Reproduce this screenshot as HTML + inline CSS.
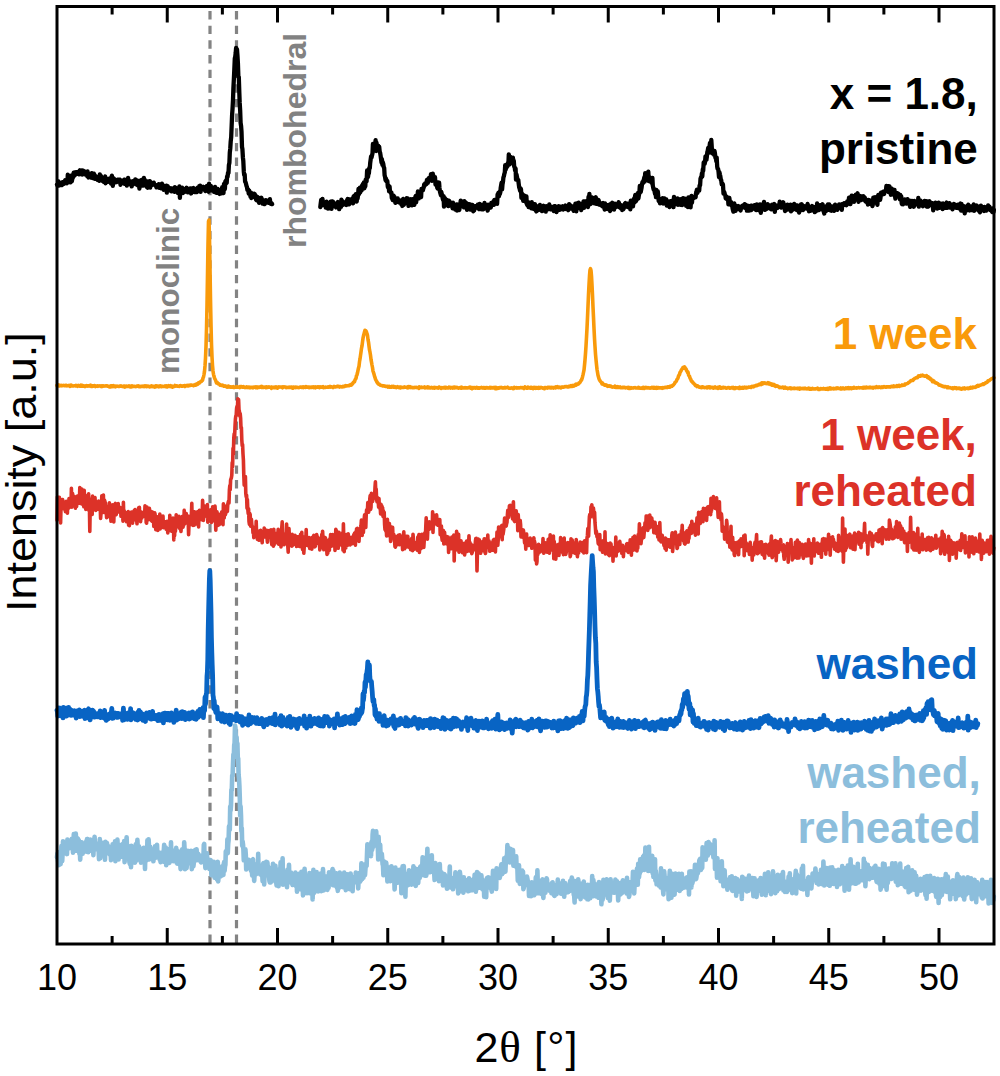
<!DOCTYPE html>
<html><head><meta charset="utf-8"><style>
html,body{margin:0;padding:0;background:#fff;}
body{width:1000px;height:1076px;overflow:hidden;}
svg{display:block;}
text{font-family:"Liberation Sans",sans-serif;}
</style></head><body>
<svg width="1000" height="1076" viewBox="0 0 1000 1076">
<rect width="1000" height="1076" fill="#fff"/>
<path d="M210,11V943M236.5,11V943" stroke="#838383" stroke-width="3.2" stroke-dasharray="8.4 6.26" fill="none"/>
<path d="M57.0,184.6L57.5,185.6L57.9,184.6L58.4,181.3L58.8,185.7L59.3,184.8L59.7,182.9L60.2,185.1L60.6,184.7L61.1,184.5L61.5,184.0L62.0,185.0L62.4,182.2L62.9,183.0L63.3,182.1L63.8,184.0L64.2,182.5L64.7,181.6L65.1,180.3L65.6,181.1L66.0,181.3L66.5,180.4L66.9,183.3L67.4,182.4L67.8,174.6L68.3,176.0L68.7,179.1L69.2,178.3L69.6,179.2L70.1,178.9L70.5,182.4L71.0,175.6L71.4,176.7L71.9,181.3L72.3,178.2L72.8,177.9L73.2,175.2L73.7,172.6L74.1,175.9L74.6,175.5L75.0,172.5L75.5,173.3L75.9,174.2L76.4,172.2L76.8,173.6L77.3,173.8L77.7,173.4L78.2,172.0L78.6,174.0L79.1,174.3L79.5,172.9L80.0,170.3L80.4,173.5L80.9,171.2L81.3,174.2L81.8,170.4L82.2,174.6L82.7,172.9L83.1,170.6L83.6,172.6L84.0,173.5L84.5,174.1L84.9,171.8L85.4,171.7L85.8,174.5L86.3,173.3L86.7,174.9L87.2,176.1L87.6,171.5L88.1,175.4L88.5,177.5L89.0,174.6L89.4,173.8L89.9,177.0L90.3,176.2L90.8,177.6L91.2,175.3L91.7,173.2L92.1,176.1L92.6,175.5L93.0,178.1L93.5,177.1L93.9,173.6L94.4,174.6L94.8,178.9L95.3,178.7L95.7,176.2L96.2,177.6L96.6,178.7L97.1,178.9L97.5,179.8L98.0,178.7L98.4,178.2L98.9,178.0L99.3,180.8L99.8,174.3L100.2,178.7L100.7,179.1L101.1,176.2L101.6,179.8L102.0,177.9L102.5,181.0L102.9,179.1L103.4,180.7L103.8,181.9L104.3,180.3L104.7,177.8L105.2,176.6L105.6,183.3L106.1,179.6L106.5,178.5L107.0,180.2L107.4,179.6L107.9,181.8L108.3,180.2L108.8,180.2L109.2,178.8L109.7,181.3L110.1,178.3L110.6,181.8L111.0,183.6L111.5,177.6L111.9,175.7L112.4,182.0L112.8,185.9L113.3,178.9L113.7,178.4L114.2,182.2L114.6,179.4L115.1,180.1L115.5,180.5L116.0,182.3L116.4,180.5L116.9,182.0L117.3,181.1L117.8,179.8L118.2,181.0L118.7,179.8L119.1,181.8L119.6,179.6L120.0,179.7L120.5,184.8L120.9,181.8L121.4,181.8L121.8,183.0L122.3,181.1L122.7,181.5L123.2,182.9L123.6,182.6L124.1,179.7L124.5,183.8L125.0,180.9L125.4,180.0L125.9,180.4L126.3,181.4L126.8,185.5L127.2,179.9L127.7,182.6L128.1,178.0L128.6,182.3L129.0,184.1L129.5,181.9L129.9,181.1L130.4,182.8L130.8,183.8L131.3,183.7L131.7,186.4L132.2,182.9L132.6,181.3L133.1,182.2L133.5,182.4L134.0,182.8L134.4,182.5L134.9,182.9L135.3,179.3L135.8,184.3L136.2,181.5L136.7,180.3L137.1,184.0L137.6,185.4L138.0,183.7L138.5,183.1L138.9,180.9L139.4,188.6L139.8,184.6L140.3,180.6L140.7,181.3L141.2,183.1L141.6,179.9L142.1,183.4L142.5,182.2L143.0,185.6L143.4,185.1L143.9,177.8L144.3,183.3L144.8,180.0L145.2,185.6L145.7,183.7L146.1,184.5L146.6,181.3L147.0,187.2L147.5,187.6L147.9,181.5L148.4,184.4L148.8,182.3L149.3,183.7L149.7,181.2L150.2,187.6L150.6,182.0L151.1,183.5L151.5,185.3L152.0,183.1L152.4,184.1L152.9,183.6L153.3,184.6L153.8,182.7L154.2,184.3L154.7,184.9L155.1,184.8L155.6,185.7L156.0,185.2L156.5,187.4L156.9,185.4L157.4,185.9L157.8,185.0L158.3,185.5L158.7,184.1L159.2,187.8L159.6,184.7L160.1,185.6L160.5,188.0L161.0,188.2L161.4,186.7L161.9,183.6L162.3,188.7L162.8,188.5L163.2,185.3L163.7,189.8L164.1,187.0L164.6,186.3L165.0,188.9L165.5,188.4L165.9,189.3L166.4,185.7L166.8,192.7L167.3,187.9L167.7,186.1L168.2,190.6L168.6,188.7L169.1,190.2L169.5,188.9L170.0,189.6L170.4,190.3L170.9,188.3L171.3,191.3L171.8,189.1L172.2,188.4L172.7,190.3L173.1,191.2L173.6,189.9L174.0,188.7L174.5,191.8L174.9,187.1L175.4,188.6L175.8,190.9L176.3,188.1L176.7,191.0L177.2,190.9L177.6,192.9L178.1,189.4L178.5,190.0L179.0,192.0L179.4,186.5L179.9,197.8L180.3,190.1L180.8,190.0L181.2,193.1L181.7,191.3L182.1,187.7L182.6,192.5L183.0,192.9L183.5,190.2L183.9,190.4L184.4,191.9L184.8,189.0L185.3,191.7L185.7,191.1L186.2,189.3L186.6,187.8L187.1,190.1L187.5,188.7L188.0,192.4L188.4,190.6L188.9,191.8L189.3,190.4L189.8,190.6L190.2,188.4L190.7,191.3L191.1,193.5L191.6,189.2L192.0,188.5L192.5,189.4L192.9,188.6L193.4,188.1L193.8,189.7L194.3,188.8L194.7,192.2L195.2,189.2L195.6,189.9L196.1,191.1L196.5,188.6L197.0,192.1L197.4,187.9L197.9,187.5L198.3,188.4L198.8,188.9L199.2,186.2L199.7,189.0L200.1,185.6L200.6,191.9L201.0,188.8L201.5,187.7L201.9,187.1L202.4,188.1L202.8,188.4L203.3,186.7L203.7,187.0L204.2,188.4L204.6,187.7L205.1,190.7L205.5,191.0L206.0,188.7L206.4,189.6L206.9,185.9L207.3,189.9L207.8,188.5L208.2,189.5L208.7,191.7L209.1,183.7L209.6,188.9L210.0,186.0L210.5,189.7L210.9,186.0L211.4,187.9L211.8,189.5L212.3,190.6L212.7,189.7L213.2,188.0L213.6,188.7L214.1,191.9L214.5,190.2L215.0,186.9L215.4,192.4L215.9,191.6L216.3,192.7L216.8,190.3L217.2,192.9L217.7,189.0L218.1,192.6L218.6,190.5L219.0,193.1L219.5,193.9L219.9,190.2L220.4,191.4L220.8,191.2L221.3,193.4L221.7,191.9L222.2,187.2L222.6,190.5L223.1,190.6L223.5,193.1L224.0,183.8L224.4,185.6L224.9,189.0L225.3,181.6L225.8,180.7L226.2,183.3L226.7,182.8L227.1,176.3L227.6,176.9L228.0,172.7L228.5,172.9L228.9,164.9L229.4,162.8L229.8,152.5L230.3,148.2L230.7,141.5L231.2,137.0L231.6,127.2L232.1,114.9L232.5,109.2L233.0,99.9L233.4,88.0L233.9,78.3L234.3,69.8L234.8,58.3L235.2,57.0L235.7,52.8L236.1,47.8L236.6,52.3L237.0,49.3L237.5,56.2L237.9,62.9L238.4,77.3L238.8,76.9L239.3,92.1L239.7,102.9L240.2,111.2L240.6,122.8L241.1,126.1L241.5,131.3L242.0,147.0L242.4,148.9L242.9,157.4L243.3,160.8L243.8,171.4L244.2,175.1L244.7,174.5L245.1,181.7L245.6,182.2L246.0,183.7L246.5,185.9L246.9,186.8L247.4,189.9L247.8,190.3L248.3,189.6L248.7,193.5L249.2,190.5L249.6,193.1L250.1,193.9L250.5,196.7L251.0,192.7L251.4,198.0L251.9,195.0L252.3,194.5L252.8,193.8L253.2,196.8L253.7,195.9L254.1,193.7L254.6,193.9L255.0,195.4L255.5,195.4L255.9,199.4L256.4,200.2L256.8,199.3L257.3,198.5L257.7,197.0L258.2,198.2L258.6,200.1L259.1,202.9L259.5,200.6L260.0,198.2L260.4,199.1L260.9,198.2L261.3,197.7L261.8,199.2L262.2,200.1L262.7,203.7L263.1,200.1L263.6,203.0L264.0,204.0L264.5,200.7L264.9,204.0L265.4,202.3L265.8,200.1L266.3,201.7L266.7,201.3L267.2,201.0L267.6,201.2L268.1,202.0L268.5,202.8L269.0,200.2L269.4,202.1L269.9,199.2L270.3,203.0L270.8,203.8L271.2,203.0L271.7,203.4L272.1,204.1M320.3,207.1L320.7,203.5L321.2,199.8L321.6,203.1L322.1,205.4L322.5,199.0L323.0,204.4L323.4,204.5L323.9,202.2L324.3,202.1L324.8,204.1L325.2,203.9L325.7,207.5L326.1,205.7L326.6,201.7L327.0,203.1L327.5,206.2L327.9,208.6L328.4,205.5L328.8,205.3L329.3,208.4L329.7,204.6L330.2,203.9L330.6,201.7L331.1,203.4L331.5,208.9L332.0,201.5L332.4,204.4L332.9,201.5L333.3,204.5L333.8,206.0L334.2,203.7L334.7,205.6L335.1,205.6L335.6,205.0L336.0,207.5L336.5,205.5L336.9,203.3L337.4,202.5L337.8,202.1L338.3,204.7L338.7,203.1L339.2,209.2L339.6,207.4L340.1,203.1L340.5,202.9L341.0,206.9L341.4,199.6L341.9,202.4L342.3,205.3L342.8,201.4L343.2,202.2L343.7,202.4L344.1,204.4L344.6,203.3L345.0,203.8L345.5,204.1L345.9,202.9L346.4,205.0L346.8,201.2L347.3,199.7L347.7,198.9L348.2,199.1L348.6,201.2L349.1,204.4L349.5,202.6L350.0,200.9L350.4,199.9L350.9,200.9L351.3,201.1L351.8,200.6L352.2,198.6L352.7,200.5L353.1,203.4L353.6,196.4L354.0,200.1L354.5,195.7L354.9,200.2L355.4,197.7L355.8,194.2L356.3,198.3L356.7,201.5L357.2,196.8L357.6,198.4L358.1,194.7L358.5,188.8L359.0,194.2L359.4,191.1L359.9,187.6L360.3,192.3L360.8,190.3L361.2,187.5L361.7,190.4L362.1,185.3L362.6,188.7L363.0,184.0L363.5,187.2L363.9,182.3L364.4,188.3L364.8,184.3L365.3,186.4L365.7,179.5L366.2,179.2L366.6,181.3L367.1,170.5L367.5,173.3L368.0,177.1L368.4,173.8L368.9,173.3L369.3,168.0L369.8,168.2L370.2,162.9L370.7,159.2L371.1,156.3L371.6,157.3L372.0,155.4L372.5,153.3L372.9,144.0L373.4,146.4L373.8,148.7L374.3,149.6L374.7,146.2L375.2,144.5L375.6,140.2L376.1,151.0L376.5,142.7L377.0,150.0L377.4,150.0L377.9,147.3L378.3,145.9L378.8,148.7L379.2,146.6L379.7,151.7L380.1,152.6L380.6,155.7L381.0,158.6L381.5,162.6L381.9,159.1L382.4,164.9L382.8,162.2L383.3,164.1L383.7,166.9L384.2,168.1L384.6,175.2L385.1,177.1L385.5,180.0L386.0,178.6L386.4,181.2L386.9,180.7L387.3,180.9L387.8,186.7L388.2,187.7L388.7,185.6L389.1,191.3L389.6,186.7L390.0,191.8L390.5,191.7L390.9,193.0L391.4,192.6L391.8,198.2L392.3,198.0L392.7,200.1L393.2,198.3L393.6,195.7L394.1,198.2L394.5,196.9L395.0,200.9L395.4,202.9L395.9,201.3L396.3,199.5L396.8,200.3L397.2,201.7L397.7,198.4L398.1,202.0L398.6,202.2L399.0,200.8L399.5,201.2L399.9,202.5L400.4,200.5L400.8,200.6L401.3,204.1L401.7,202.9L402.2,206.0L402.6,200.5L403.1,198.9L403.5,204.6L404.0,204.7L404.4,201.2L404.9,199.7L405.3,202.7L405.8,199.1L406.2,202.1L406.7,198.2L407.1,202.3L407.6,198.3L408.0,202.2L408.5,205.9L408.9,202.1L409.4,204.2L409.8,201.2L410.3,200.6L410.7,199.2L411.2,204.4L411.6,202.0L412.1,205.4L412.5,199.2L413.0,201.1L413.4,201.5L413.9,204.1L414.3,204.8L414.8,199.1L415.2,197.6L415.7,195.9L416.1,202.4L416.6,198.7L417.0,197.0L417.5,197.9L417.9,191.5L418.4,192.8L418.8,198.4L419.3,196.5L419.7,195.3L420.2,191.8L420.6,194.9L421.1,197.1L421.5,188.8L422.0,191.1L422.4,189.1L422.9,190.3L423.3,188.5L423.8,187.2L424.2,184.4L424.7,185.7L425.1,183.3L425.6,183.6L426.0,183.0L426.5,184.0L426.9,180.0L427.4,180.0L427.8,182.9L428.3,178.9L428.7,178.3L429.2,180.7L429.6,178.7L430.1,177.9L430.5,178.0L431.0,174.1L431.4,178.5L431.9,180.8L432.3,179.0L432.8,173.7L433.2,178.9L433.7,176.2L434.1,178.5L434.6,180.0L435.0,177.2L435.5,184.5L435.9,181.7L436.4,184.7L436.8,185.2L437.3,187.9L437.7,188.5L438.2,182.5L438.6,187.4L439.1,182.7L439.5,188.0L440.0,192.0L440.4,193.4L440.9,195.2L441.3,191.9L441.8,194.5L442.2,194.8L442.7,198.5L443.1,200.0L443.6,196.1L444.0,206.6L444.5,198.4L444.9,198.2L445.4,201.0L445.8,202.0L446.3,202.0L446.7,199.8L447.2,205.0L447.6,202.3L448.1,206.0L448.5,206.0L449.0,200.6L449.4,201.6L449.9,201.9L450.3,204.8L450.8,204.6L451.2,205.3L451.7,203.2L452.1,206.0L452.6,208.3L453.0,202.7L453.5,205.2L453.9,206.2L454.4,205.5L454.8,205.5L455.3,209.6L455.7,208.6L456.2,207.8L456.6,204.4L457.1,210.6L457.5,206.7L458.0,204.6L458.4,205.0L458.9,204.6L459.3,210.0L459.8,205.8L460.2,205.4L460.7,200.6L461.1,206.6L461.6,202.6L462.0,202.4L462.5,206.1L462.9,202.9L463.4,206.6L463.8,207.3L464.3,201.2L464.7,204.9L465.2,202.0L465.6,205.4L466.1,207.7L466.5,203.1L467.0,209.9L467.4,205.7L467.9,204.1L468.3,206.4L468.8,208.5L469.2,204.1L469.7,207.1L470.1,204.3L470.6,209.7L471.0,207.6L471.5,206.5L471.9,209.5L472.4,204.8L472.8,206.7L473.3,211.3L473.7,207.3L474.2,210.3L474.6,208.0L475.1,206.1L475.5,207.1L476.0,207.8L476.4,206.8L476.9,205.9L477.3,206.0L477.8,204.6L478.2,207.9L478.7,208.4L479.1,209.1L479.6,203.9L480.0,209.2L480.5,207.5L480.9,204.6L481.4,207.7L481.8,209.2L482.3,208.5L482.7,208.9L483.2,209.4L483.6,209.2L484.1,207.3L484.5,203.0L485.0,205.7L485.4,207.9L485.9,206.2L486.3,208.5L486.8,208.6L487.2,207.0L487.7,210.7L488.1,204.7L488.6,208.5L489.0,205.5L489.5,204.7L489.9,207.4L490.4,204.6L490.8,207.6L491.3,203.0L491.7,205.3L492.2,203.1L492.6,204.1L493.1,203.4L493.5,201.3L494.0,204.8L494.4,200.0L494.9,200.0L495.3,203.6L495.8,203.1L496.2,201.6L496.7,200.1L497.1,203.8L497.6,194.4L498.0,194.5L498.5,192.7L498.9,196.3L499.4,193.4L499.8,194.2L500.3,192.5L500.7,187.9L501.2,184.8L501.6,182.7L502.1,189.4L502.5,184.4L503.0,181.7L503.4,177.5L503.9,176.1L504.3,174.0L504.8,172.3L505.2,165.2L505.7,169.6L506.1,167.2L506.6,167.4L507.0,165.8L507.5,166.2L507.9,162.8L508.4,163.9L508.8,154.3L509.3,157.5L509.7,164.4L510.2,156.6L510.6,159.0L511.1,161.8L511.5,158.0L512.0,162.8L512.4,158.0L512.9,157.7L513.3,160.4L513.8,160.8L514.2,166.5L514.7,167.2L515.1,170.5L515.6,168.6L516.0,179.6L516.5,174.5L516.9,176.4L517.4,179.4L517.8,179.4L518.3,180.1L518.7,183.7L519.2,187.5L519.6,188.5L520.1,190.8L520.5,188.4L521.0,189.3L521.4,197.8L521.9,193.3L522.3,196.3L522.8,198.1L523.2,200.8L523.7,195.1L524.1,198.1L524.6,199.1L525.0,200.2L525.5,196.1L525.9,202.0L526.4,196.4L526.8,204.0L527.3,205.0L527.7,205.6L528.2,202.1L528.6,207.1L529.1,203.5L529.5,203.0L530.0,203.8L530.4,204.3L530.9,206.6L531.3,208.2L531.8,202.2L532.2,205.6L532.7,208.7L533.1,207.4L533.6,208.1L534.0,204.1L534.5,209.2L534.9,204.1L535.4,207.8L535.8,210.3L536.3,211.4L536.7,208.6L537.2,209.4L537.6,206.4L538.1,206.7L538.5,210.1L539.0,207.8L539.4,207.5L539.9,204.9L540.3,208.1L540.8,209.2L541.2,206.3L541.7,206.9L542.1,211.2L542.6,208.3L543.0,207.4L543.5,205.7L543.9,206.7L544.4,207.5L544.8,210.8L545.3,206.8L545.7,211.7L546.2,206.1L546.6,207.3L547.1,209.7L547.5,207.5L548.0,206.3L548.4,207.7L548.9,208.9L549.3,204.5L549.8,207.5L550.2,207.8L550.7,207.1L551.1,209.5L551.6,206.8L552.0,207.2L552.5,208.0L552.9,209.4L553.4,207.5L553.8,211.0L554.3,206.1L554.7,210.5L555.2,206.1L555.6,207.5L556.1,208.6L556.5,212.0L557.0,209.7L557.4,207.0L557.9,210.4L558.3,207.4L558.8,206.2L559.2,208.7L559.7,208.0L560.1,209.7L560.6,206.6L561.0,208.5L561.5,209.0L561.9,208.3L562.4,207.6L562.8,206.2L563.3,209.5L563.7,207.9L564.2,208.6L564.6,206.9L565.1,207.6L565.5,205.5L566.0,207.7L566.4,209.1L566.9,207.7L567.3,209.2L567.8,208.1L568.2,210.2L568.7,207.1L569.1,204.1L569.6,208.3L570.0,207.0L570.5,205.4L570.9,208.7L571.4,207.8L571.8,208.2L572.3,206.6L572.7,207.6L573.2,207.7L573.6,210.8L574.1,205.8L574.5,207.1L575.0,207.8L575.4,203.6L575.9,203.8L576.3,211.4L576.8,203.3L577.2,208.1L577.7,205.1L578.1,205.2L578.6,202.6L579.0,204.8L579.5,208.1L579.9,203.6L580.4,207.5L580.8,206.8L581.3,210.2L581.7,204.9L582.2,208.3L582.6,207.3L583.1,204.6L583.5,201.5L584.0,207.9L584.4,201.5L584.9,203.1L585.3,205.6L585.8,205.8L586.2,201.2L586.7,202.5L587.1,201.6L587.6,204.4L588.0,207.0L588.5,196.9L588.9,202.7L589.4,193.8L589.8,199.9L590.3,197.1L590.7,204.0L591.2,199.6L591.6,197.4L592.1,197.9L592.5,197.8L593.0,199.6L593.4,199.0L593.9,201.0L594.3,203.3L594.8,201.7L595.2,197.7L595.7,197.2L596.1,199.5L596.6,203.9L597.0,201.2L597.5,200.8L597.9,202.9L598.4,199.9L598.8,200.9L599.3,204.7L599.7,203.2L600.2,203.2L600.6,205.1L601.1,203.4L601.5,203.4L602.0,204.1L602.4,206.4L602.9,205.5L603.3,203.0L603.8,204.9L604.2,207.0L604.7,209.6L605.1,203.5L605.6,206.6L606.0,205.4L606.5,207.6L606.9,206.9L607.4,209.0L607.8,207.1L608.3,205.0L608.7,205.0L609.2,206.9L609.6,206.9L610.1,211.0L610.5,209.5L611.0,203.7L611.4,206.8L611.9,203.4L612.3,202.8L612.8,207.6L613.2,207.3L613.7,204.0L614.1,209.5L614.6,204.1L615.0,203.7L615.5,207.4L615.9,206.6L616.4,205.8L616.8,206.0L617.3,206.5L617.7,205.8L618.2,205.7L618.6,202.2L619.1,203.3L619.5,207.3L620.0,204.6L620.4,207.1L620.9,208.4L621.3,205.1L621.8,206.4L622.2,210.0L622.7,207.1L623.1,209.4L623.6,208.7L624.0,207.1L624.5,205.3L624.9,203.7L625.4,203.1L625.8,206.3L626.3,206.2L626.7,204.8L627.2,206.8L627.6,203.7L628.1,207.1L628.5,204.8L629.0,204.5L629.4,204.5L629.9,204.1L630.3,209.3L630.8,200.6L631.2,204.1L631.7,206.1L632.1,204.7L632.6,202.3L633.0,206.3L633.5,199.9L633.9,198.9L634.4,202.5L634.8,197.6L635.3,194.9L635.7,201.5L636.2,200.6L636.6,199.7L637.1,196.1L637.5,196.7L638.0,193.0L638.4,198.5L638.9,195.1L639.3,193.9L639.8,185.9L640.2,191.6L640.7,192.1L641.1,190.1L641.6,187.6L642.0,184.2L642.5,182.0L642.9,183.2L643.4,181.4L643.8,179.8L644.3,177.3L644.7,181.5L645.2,173.2L645.6,175.5L646.1,173.5L646.5,177.4L647.0,178.2L647.4,177.8L647.9,176.8L648.3,171.6L648.8,181.2L649.2,177.9L649.7,177.2L650.1,178.5L650.6,178.7L651.0,181.8L651.5,182.7L651.9,182.3L652.4,177.8L652.8,185.7L653.3,188.2L653.7,189.6L654.2,189.1L654.6,191.7L655.1,194.2L655.5,191.6L656.0,197.2L656.4,190.0L656.9,192.6L657.3,194.2L657.8,191.4L658.2,195.4L658.7,201.0L659.1,201.5L659.6,199.5L660.0,203.4L660.5,200.5L660.9,199.3L661.4,201.1L661.8,200.6L662.3,202.6L662.7,198.1L663.2,203.5L663.6,200.5L664.1,203.4L664.5,198.5L665.0,200.9L665.4,202.1L665.9,203.9L666.3,199.5L666.8,205.6L667.2,203.1L667.7,201.1L668.1,204.7L668.6,202.4L669.0,204.7L669.5,207.1L669.9,203.9L670.4,201.2L670.8,201.4L671.3,203.5L671.7,202.9L672.2,200.6L672.6,201.0L673.1,203.7L673.5,207.2L674.0,196.9L674.4,203.8L674.9,201.9L675.3,203.9L675.8,204.1L676.2,202.4L676.7,200.2L677.1,199.4L677.6,198.4L678.0,204.8L678.5,201.8L678.9,201.1L679.4,201.6L679.8,199.3L680.3,202.8L680.7,204.9L681.2,204.5L681.6,198.9L682.1,205.0L682.5,200.5L683.0,198.1L683.4,199.5L683.9,200.1L684.3,202.0L684.8,199.9L685.2,198.8L685.7,201.4L686.1,205.9L686.6,200.4L687.0,202.7L687.5,201.8L687.9,207.2L688.4,197.4L688.8,203.6L689.3,198.4L689.7,199.7L690.2,200.5L690.6,207.4L691.1,198.6L691.5,195.8L692.0,202.5L692.4,197.4L692.9,198.3L693.3,198.3L693.8,198.1L694.2,196.9L694.7,197.2L695.1,196.8L695.6,197.2L696.0,193.3L696.5,191.6L696.9,189.8L697.4,192.9L697.8,190.1L698.3,190.4L698.7,189.1L699.2,190.7L699.6,185.4L700.1,185.3L700.5,178.6L701.0,177.2L701.4,177.5L701.9,173.3L702.3,176.4L702.8,169.2L703.2,170.9L703.7,162.4L704.1,163.9L704.6,163.9L705.0,162.2L705.5,156.3L705.9,159.3L706.4,159.8L706.8,157.2L707.3,152.1L707.7,150.8L708.2,147.9L708.6,151.4L709.1,152.5L709.5,146.6L710.0,142.9L710.4,147.5L710.9,148.7L711.3,139.8L711.8,147.6L712.2,153.4L712.7,150.6L713.1,150.9L713.6,151.7L714.0,154.7L714.5,151.0L714.9,152.9L715.4,157.9L715.8,156.9L716.3,161.3L716.7,157.7L717.2,166.6L717.6,168.9L718.1,168.9L718.5,171.3L719.0,177.1L719.4,172.1L719.9,174.5L720.3,176.0L720.8,179.6L721.2,179.9L721.7,184.3L722.1,184.2L722.6,183.7L723.0,185.0L723.5,193.6L723.9,191.6L724.4,192.5L724.8,194.4L725.3,195.2L725.7,198.3L726.2,198.8L726.6,196.9L727.1,197.2L727.5,197.4L728.0,197.8L728.4,204.4L728.9,199.8L729.3,197.9L729.8,201.0L730.2,201.6L730.7,204.5L731.1,202.2L731.6,205.6L732.0,205.6L732.5,207.8L732.9,209.9L733.4,211.6L733.8,208.6L734.3,203.5L734.7,205.3L735.2,206.8L735.6,210.8L736.1,208.0L736.5,209.2L737.0,206.4L737.4,208.1L737.9,208.4L738.3,206.0L738.8,208.6L739.2,209.2L739.7,206.7L740.1,209.2L740.6,210.5L741.0,207.3L741.5,207.2L741.9,206.5L742.4,205.9L742.8,207.5L743.3,206.4L743.7,206.6L744.2,205.7L744.6,204.1L745.1,205.4L745.5,208.0L746.0,204.9L746.4,206.0L746.9,210.7L747.3,209.6L747.8,205.9L748.2,208.6L748.7,206.0L749.1,210.7L749.6,206.1L750.0,207.5L750.5,210.2L750.9,205.6L751.4,210.0L751.8,205.7L752.3,207.8L752.7,206.7L753.2,207.1L753.6,207.6L754.1,207.1L754.5,205.2L755.0,209.1L755.4,208.7L755.9,209.9L756.3,210.1L756.8,204.5L757.2,209.9L757.7,209.9L758.1,206.2L758.6,209.3L759.0,210.2L759.5,206.1L759.9,204.4L760.4,206.5L760.8,212.8L761.3,207.6L761.7,204.7L762.2,206.6L762.6,205.1L763.1,206.3L763.5,207.3L764.0,201.9L764.4,207.8L764.9,209.9L765.3,206.7L765.8,206.3L766.2,209.2L766.7,204.5L767.1,204.5L767.6,204.2L768.0,206.7L768.5,207.8L768.9,206.8L769.4,208.0L769.8,208.6L770.3,207.9L770.7,205.3L771.2,206.3L771.6,209.4L772.1,204.7L772.5,206.3L773.0,206.0L773.4,206.4L773.9,204.6L774.3,204.0L774.8,211.9L775.2,208.6L775.7,205.3L776.1,206.6L776.6,208.1L777.0,206.0L777.5,207.9L777.9,205.4L778.4,205.9L778.8,206.4L779.3,205.7L779.7,201.6L780.2,206.6L780.6,207.1L781.1,207.6L781.5,204.6L782.0,207.4L782.4,207.1L782.9,203.1L783.3,202.3L783.8,207.7L784.2,204.9L784.7,208.8L785.1,211.1L785.6,205.7L786.0,205.5L786.5,206.9L786.9,208.3L787.4,204.6L787.8,209.5L788.3,209.0L788.7,208.3L789.2,205.9L789.6,208.9L790.1,208.8L790.5,204.7L791.0,211.3L791.4,206.5L791.9,207.9L792.3,206.1L792.8,208.0L793.2,209.6L793.7,205.6L794.1,203.9L794.6,206.4L795.0,204.7L795.5,205.8L795.9,207.1L796.4,207.2L796.8,210.0L797.3,205.4L797.7,208.1L798.2,206.4L798.6,210.2L799.1,212.6L799.5,208.1L800.0,210.9L800.4,206.5L800.9,204.4L801.3,205.0L801.8,204.4L802.2,205.7L802.7,207.2L803.1,210.0L803.6,209.1L804.0,208.7L804.5,206.9L804.9,206.3L805.4,207.8L805.8,208.1L806.3,208.3L806.7,208.6L807.2,207.6L807.6,204.0L808.1,205.7L808.5,206.3L809.0,211.4L809.4,207.1L809.9,209.3L810.3,210.9L810.8,208.7L811.2,207.2L811.7,207.5L812.1,206.0L812.6,208.7L813.0,210.4L813.5,209.3L813.9,209.7L814.4,209.6L814.8,212.2L815.3,206.9L815.7,208.5L816.2,209.7L816.6,210.8L817.1,203.4L817.5,207.2L818.0,207.9L818.4,206.2L818.9,210.0L819.3,208.8L819.8,207.6L820.2,205.1L820.7,205.7L821.1,206.4L821.6,209.3L822.0,206.0L822.5,204.3L822.9,205.5L823.4,207.3L823.8,211.9L824.3,213.5L824.7,207.5L825.2,210.3L825.6,211.2L826.1,210.9L826.5,208.1L827.0,205.6L827.4,207.3L827.9,204.4L828.3,208.7L828.8,209.7L829.2,204.3L829.7,208.0L830.1,208.6L830.6,210.5L831.0,210.7L831.5,209.5L831.9,206.5L832.4,207.1L832.8,210.2L833.3,206.5L833.7,207.6L834.2,210.8L834.6,207.8L835.1,204.7L835.5,206.9L836.0,208.7L836.4,207.0L836.9,209.6L837.3,209.8L837.8,205.8L838.2,206.0L838.7,206.7L839.1,204.4L839.6,207.5L840.0,206.3L840.5,208.2L840.9,205.2L841.4,204.5L841.8,209.9L842.3,204.1L842.7,204.6L843.2,204.1L843.6,204.8L844.1,203.2L844.5,204.8L845.0,203.2L845.4,203.5L845.9,204.9L846.3,205.3L846.8,204.5L847.2,201.5L847.7,203.6L848.1,202.1L848.6,201.7L849.0,197.7L849.5,202.6L849.9,200.4L850.4,204.1L850.8,201.3L851.3,196.8L851.7,195.7L852.2,201.1L852.6,196.0L853.1,199.2L853.5,196.5L854.0,201.8L854.4,196.7L854.9,199.8L855.3,199.2L855.8,194.6L856.2,194.8L856.7,199.1L857.1,195.4L857.6,193.3L858.0,198.4L858.5,201.8L858.9,195.7L859.4,199.3L859.8,195.8L860.3,199.7L860.7,196.2L861.2,200.2L861.6,198.7L862.1,197.3L862.5,198.7L863.0,197.2L863.4,196.3L863.9,196.8L864.3,199.4L864.8,197.5L865.2,201.1L865.7,201.6L866.1,201.8L866.6,199.9L867.0,201.3L867.5,201.3L867.9,204.5L868.4,200.0L868.8,201.0L869.3,201.4L869.7,201.7L870.2,200.4L870.6,200.7L871.1,204.2L871.5,200.6L872.0,203.9L872.4,206.2L872.9,204.5L873.3,197.6L873.8,203.0L874.2,202.2L874.7,202.1L875.1,197.1L875.6,202.1L876.0,197.7L876.5,202.7L876.9,201.9L877.4,204.9L877.8,197.9L878.3,194.9L878.7,200.3L879.2,199.5L879.6,196.2L880.1,199.8L880.5,197.8L881.0,192.7L881.4,194.4L881.9,193.7L882.3,194.1L882.8,194.3L883.2,191.7L883.7,192.5L884.1,194.0L884.6,191.9L885.0,191.1L885.5,190.6L885.9,190.8L886.4,185.9L886.8,190.9L887.3,187.7L887.7,190.4L888.2,186.2L888.6,192.2L889.1,190.5L889.5,186.4L890.0,190.5L890.4,188.1L890.9,194.8L891.3,191.7L891.8,188.7L892.2,191.5L892.7,191.2L893.1,194.6L893.6,192.9L894.0,193.6L894.5,190.0L894.9,195.1L895.4,198.7L895.8,195.6L896.3,194.4L896.7,195.4L897.2,193.2L897.6,196.3L898.1,193.7L898.5,196.8L899.0,196.2L899.4,195.7L899.9,199.3L900.3,195.0L900.8,198.6L901.2,196.1L901.7,203.4L902.1,204.1L902.6,201.9L903.0,204.4L903.5,201.9L903.9,202.0L904.4,200.2L904.8,199.4L905.3,201.8L905.7,200.6L906.2,201.0L906.6,203.6L907.1,202.0L907.5,199.1L908.0,202.0L908.4,201.0L908.9,202.1L909.3,200.5L909.8,205.4L910.2,206.9L910.7,200.8L911.1,204.5L911.6,204.4L912.0,201.0L912.5,203.5L912.9,206.2L913.4,205.1L913.8,206.7L914.3,201.0L914.7,201.9L915.2,204.0L915.6,204.2L916.1,203.5L916.5,202.7L917.0,202.6L917.4,202.2L917.9,204.4L918.3,197.9L918.8,206.7L919.2,202.4L919.7,200.6L920.1,204.6L920.6,200.7L921.0,204.3L921.5,202.8L921.9,204.8L922.4,205.3L922.8,206.3L923.3,202.7L923.7,203.2L924.2,203.8L924.6,201.0L925.1,205.0L925.5,204.1L926.0,201.2L926.4,206.4L926.9,206.7L927.3,201.3L927.8,205.2L928.2,206.6L928.7,205.8L929.1,202.1L929.6,201.3L930.0,203.9L930.5,203.2L930.9,204.2L931.4,204.1L931.8,205.3L932.3,203.2L932.7,204.0L933.2,210.3L933.6,204.1L934.1,205.9L934.5,205.0L935.0,204.9L935.4,202.7L935.9,205.6L936.3,204.4L936.8,206.2L937.2,208.7L937.7,205.0L938.1,206.2L938.6,202.6L939.0,204.9L939.5,207.9L939.9,204.6L940.4,203.5L940.8,205.3L941.3,204.5L941.7,204.5L942.2,204.2L942.6,209.0L943.1,203.3L943.5,204.3L944.0,204.0L944.4,207.7L944.9,204.7L945.3,207.9L945.8,205.7L946.2,205.3L946.7,202.5L947.1,207.9L947.6,206.6L948.0,206.4L948.5,205.4L948.9,204.8L949.4,203.1L949.8,207.6L950.3,206.3L950.7,205.1L951.2,204.6L951.6,206.1L952.1,205.8L952.5,209.3L953.0,207.6L953.4,204.9L953.9,203.9L954.3,205.7L954.8,204.4L955.2,206.4L955.7,207.1L956.1,207.6L956.6,207.2L957.0,206.1L957.5,207.7L957.9,204.7L958.4,206.4L958.8,208.3L959.3,207.2L959.7,204.2L960.2,204.4L960.6,203.6L961.1,210.5L961.5,203.8L962.0,206.7L962.4,210.7L962.9,209.2L963.3,209.7L963.8,206.1L964.2,208.6L964.7,213.3L965.1,207.2L965.6,208.1L966.0,206.7L966.5,207.3L966.9,208.2L967.4,210.2L967.8,205.7L968.3,204.7L968.7,207.6L969.2,208.0L969.6,210.5L970.1,209.2L970.5,206.5L971.0,208.9L971.4,210.1L971.9,208.5L972.3,207.3L972.8,209.3L973.2,207.3L973.7,204.3L974.1,210.8L974.6,205.6L975.0,207.5L975.5,207.6L975.9,207.6L976.4,207.7L976.8,205.5L977.3,209.4L977.7,208.5L978.2,208.6L978.6,210.7L979.1,210.8L979.5,211.3L980.0,212.3L980.4,209.6L980.9,205.6L981.3,209.2L981.8,208.8L982.2,209.0L982.7,207.7L983.1,207.2L983.6,210.6L984.0,211.0L984.5,206.8L984.9,210.2L985.4,208.8L985.8,208.4L986.3,210.6L986.7,209.2L987.2,208.2L987.6,209.5L988.1,205.4L988.5,208.3L989.0,208.6L989.4,206.7L989.9,209.9L990.3,210.1L990.8,208.4L991.2,209.3L991.7,211.1L992.1,211.9L992.6,208.3L993.0,210.5L993.5,212.0L993.9,209.9" stroke="#000" stroke-width="4.3" fill="none" stroke-linejoin="round" stroke-linecap="round"/>
<path d="M57.0,385.5L57.5,385.3L58.0,385.4L58.5,384.8L59.0,386.0L59.5,385.9L60.0,385.4L60.5,385.8L61.0,385.6L61.5,385.4L62.0,385.8L62.5,385.5L63.0,385.5L63.5,385.3L64.0,385.7L64.5,385.5L65.0,385.7L65.5,385.4L66.0,385.6L66.5,385.3L67.0,385.9L67.5,385.7L68.0,385.7L68.5,385.8L69.0,385.3L69.5,385.9L70.0,386.3L70.5,385.2L71.0,385.1L71.5,385.2L72.0,385.9L72.5,385.7L73.0,386.0L73.5,385.9L74.0,385.8L74.5,385.8L75.0,385.7L75.5,386.0L76.0,385.4L76.5,385.6L77.0,385.8L77.5,386.3L78.0,385.5L78.5,385.4L79.0,385.6L79.5,386.1L80.0,385.7L80.5,386.2L81.0,385.2L81.5,386.1L82.0,386.1L82.5,385.4L83.0,385.9L83.5,386.2L84.0,385.9L84.5,386.1L85.0,386.6L85.5,385.9L86.0,385.8L86.5,385.6L87.0,386.1L87.5,385.8L88.0,385.8L88.5,385.9L89.0,386.1L89.5,385.6L90.0,385.5L90.5,385.2L91.0,386.3L91.5,386.0L92.0,386.4L92.5,385.9L93.0,385.7L93.5,386.1L94.0,385.9L94.5,385.6L95.0,385.7L95.5,386.5L96.0,386.1L96.5,386.1L97.0,385.9L97.5,385.8L98.0,386.3L98.5,386.0L99.0,385.8L99.5,386.0L100.0,385.8L100.5,386.1L101.0,386.4L101.5,385.8L102.0,386.5L102.5,385.9L103.0,386.1L103.5,385.8L104.0,386.0L104.5,386.1L105.0,386.0L105.5,385.9L106.0,385.9L106.5,385.9L107.0,385.7L107.5,386.1L108.0,386.3L108.5,386.4L109.0,386.4L109.5,386.9L110.0,386.3L110.5,386.0L111.0,386.8L111.5,385.9L112.0,386.5L112.5,385.9L113.0,386.3L113.5,385.6L114.0,386.5L114.5,386.2L115.0,386.0L115.5,386.8L116.0,386.5L116.5,386.3L117.0,386.0L117.5,386.3L118.0,386.2L118.5,386.5L119.0,386.5L119.5,386.1L120.0,386.1L120.5,386.2L121.0,385.9L121.5,386.1L122.0,386.3L122.5,386.5L123.0,386.7L123.5,386.1L124.0,386.5L124.5,386.2L125.0,387.0L125.5,386.4L126.0,386.5L126.5,386.1L127.0,386.2L127.5,386.5L128.0,386.3L128.5,386.5L129.0,386.0L129.5,386.6L130.0,386.2L130.5,386.9L131.0,386.3L131.5,386.8L132.0,386.0L132.5,386.6L133.0,386.2L133.5,386.3L134.0,386.4L134.5,386.3L135.0,386.5L135.5,386.6L136.0,386.6L136.5,386.4L137.0,386.0L137.5,386.2L138.0,386.4L138.5,385.8L139.0,386.6L139.5,386.3L140.0,386.3L140.5,386.7L141.0,386.6L141.5,386.5L142.0,386.1L142.5,386.5L143.0,386.5L143.5,386.1L144.0,386.7L144.5,386.6L145.0,385.8L145.5,386.4L146.0,386.0L146.5,386.7L147.0,386.6L147.5,386.1L148.0,386.1L148.5,386.4L149.0,386.3L149.5,386.9L150.0,386.6L150.5,386.3L151.0,386.6L151.5,385.8L152.0,386.5L152.5,386.6L153.0,386.3L153.5,386.2L154.0,386.5L154.5,387.0L155.0,386.4L155.5,386.0L156.0,386.8L156.5,385.8L157.0,386.5L157.5,386.2L158.0,386.6L158.5,386.1L159.0,386.8L159.5,386.4L160.0,385.8L160.5,385.8L161.0,386.2L161.5,386.7L162.0,386.4L162.5,386.4L163.0,386.3L163.5,386.5L164.0,386.4L164.5,386.4L165.0,386.0L165.5,386.7L166.0,386.7L166.5,385.9L167.0,387.0L167.5,386.5L168.0,386.1L168.5,385.7L169.0,386.5L169.5,386.4L170.0,386.1L170.5,385.7L171.0,386.6L171.5,386.1L172.0,386.1L172.5,387.1L173.0,386.9L173.5,386.5L174.0,386.1L174.5,386.4L175.0,385.5L175.5,386.2L176.0,386.0L176.5,385.8L177.0,385.7L177.5,386.3L178.0,386.2L178.5,386.2L179.0,386.4L179.5,385.9L180.0,385.7L180.5,385.6L181.0,386.0L181.5,386.3L182.0,386.0L182.5,386.2L183.0,385.7L183.5,385.8L184.0,385.7L184.5,385.6L185.0,386.5L185.5,386.2L186.0,385.6L186.5,385.6L187.0,385.8L187.5,385.4L188.0,385.9L188.5,385.3L189.0,385.6L189.5,385.3L190.0,385.5L190.5,385.1L191.0,385.0L191.5,385.1L192.0,385.2L192.5,385.2L193.0,385.3L193.5,385.6L194.0,385.3L194.5,384.9L195.0,385.1L195.5,384.5L196.0,385.1L196.5,384.7L197.0,383.9L197.5,384.4L198.0,384.2L198.5,382.9L199.0,383.2L199.5,383.0L200.0,382.1L200.5,382.0L201.0,381.5L201.5,381.3L202.0,380.5L202.5,380.3L203.0,378.0L203.5,377.0L204.0,374.5L204.5,371.4L205.0,365.9L205.5,358.0L206.0,346.4L206.5,329.4L207.0,305.5L207.5,275.3L208.0,244.3L208.5,221.4L209.0,220.0L209.5,239.1L210.0,268.6L210.5,299.4L211.0,324.5L211.5,344.4L212.0,357.0L212.5,365.3L213.0,370.9L213.5,374.3L214.0,376.4L214.5,377.8L215.0,379.1L215.5,380.0L216.0,381.5L216.5,382.8L217.0,382.1L217.5,383.2L218.0,383.7L218.5,383.6L219.0,384.3L219.5,384.2L220.0,385.1L220.5,384.8L221.0,385.2L221.5,385.5L222.0,385.3L222.5,385.1L223.0,385.6L223.5,386.1L224.0,385.9L224.5,386.1L225.0,385.8L225.5,386.3L226.0,386.5L226.5,386.4L227.0,387.0L227.5,386.4L228.0,386.2L228.5,386.1L229.0,387.0L229.5,386.7L230.0,387.1L230.5,386.9L231.0,387.3L231.5,387.2L232.0,386.8L232.5,387.0L233.0,387.3L233.5,386.6L234.0,387.4L234.5,387.4L235.0,387.3L235.5,387.0L236.0,387.1L236.5,386.7L237.0,387.1L237.5,386.9L238.0,387.1L238.5,387.0L239.0,387.2L239.5,387.5L240.0,386.7L240.5,387.4L241.0,386.6L241.5,386.5L242.0,387.1L242.5,387.2L243.0,387.3L243.5,386.7L244.0,387.2L244.5,387.2L245.0,387.6L245.5,387.2L246.0,387.4L246.5,386.9L247.0,387.2L247.5,387.1L248.0,387.5L248.5,387.0L249.0,387.0L249.5,387.4L250.0,387.8L250.5,387.4L251.0,387.4L251.5,387.2L252.0,387.6L252.5,387.4L253.0,387.8L253.5,387.4L254.0,387.0L254.5,387.1L255.0,387.0L255.5,386.9L256.0,387.7L256.5,387.5L257.0,386.9L257.5,387.8L258.0,387.4L258.5,387.0L259.0,387.4L259.5,387.3L260.0,387.1L260.5,386.7L261.0,387.3L261.5,387.4L262.0,386.5L262.5,387.5L263.0,387.5L263.5,387.2L264.0,387.4L264.5,387.2L265.0,387.1L265.5,387.2L266.0,387.7L266.5,386.9L267.0,387.4L267.5,387.4L268.0,387.1L268.5,387.2L269.0,386.9L269.5,387.1L270.0,387.3L270.5,387.4L271.0,387.1L271.5,388.3L272.0,387.2L272.5,387.4L273.0,387.3L273.5,387.2L274.0,387.7L274.5,387.2L275.0,387.7L275.5,387.7L276.0,387.0L276.5,387.7L277.0,387.1L277.5,388.2L278.0,387.2L278.5,387.1L279.0,386.8L279.5,387.0L280.0,387.2L280.5,387.0L281.0,387.0L281.5,387.1L282.0,387.3L282.5,387.8L283.0,386.8L283.5,387.2L284.0,387.1L284.5,386.9L285.0,387.0L285.5,387.1L286.0,387.6L286.5,387.3L287.0,387.2L287.5,387.5L288.0,387.4L288.5,387.3L289.0,387.5L289.5,387.1L290.0,387.5L290.5,387.5L291.0,387.2L291.5,387.0L292.0,387.8L292.5,387.4L293.0,388.2L293.5,387.1L294.0,387.6L294.5,387.2L295.0,387.4L295.5,387.6L296.0,387.1L296.5,387.3L297.0,387.4L297.5,387.4L298.0,387.5L298.5,387.6L299.0,387.6L299.5,387.4L300.0,387.2L300.5,387.0L301.0,387.1L301.5,387.1L302.0,387.5L302.5,387.2L303.0,386.9L303.5,387.5L304.0,387.1L304.5,387.1L305.0,387.2L305.5,387.4L306.0,386.6L306.5,386.9L307.0,387.3L307.5,387.2L308.0,387.0L308.5,387.1L309.0,387.7L309.5,387.1L310.0,387.5L310.5,387.5L311.0,387.1L311.5,387.4L312.0,387.1L312.5,387.1L313.0,386.9L313.5,387.5L314.0,387.1L314.5,387.1L315.0,386.9L315.5,387.8L316.0,387.5L316.5,387.2L317.0,387.0L317.5,386.8L318.0,387.3L318.5,387.3L319.0,386.8L319.5,387.6L320.0,387.4L320.5,386.9L321.0,387.0L321.5,387.1L322.0,387.2L322.5,387.1L323.0,386.7L323.5,387.6L324.0,387.3L324.5,387.5L325.0,387.5L325.5,387.1L326.0,387.2L326.5,387.3L327.0,387.3L327.5,387.1L328.0,386.9L328.5,387.1L329.0,386.8L329.5,386.9L330.0,386.4L330.5,387.1L331.0,386.7L331.5,386.8L332.0,387.0L332.5,387.1L333.0,387.5L333.5,387.0L334.0,386.5L334.5,387.0L335.0,386.7L335.5,387.0L336.0,386.7L336.5,386.6L337.0,386.7L337.5,386.6L338.0,386.2L338.5,386.5L339.0,386.7L339.5,387.1L340.0,386.6L340.5,386.5L341.0,386.8L341.5,386.7L342.0,387.0L342.5,386.7L343.0,386.4L343.5,386.8L344.0,386.8L344.5,386.1L345.0,386.3L345.5,385.6L346.0,386.0L346.5,385.7L347.0,385.9L347.5,385.7L348.0,385.7L348.5,385.6L349.0,385.7L349.5,385.4L350.0,385.0L350.5,384.6L351.0,385.2L351.5,384.9L352.0,384.0L352.5,384.0L353.0,382.8L353.5,382.2L354.0,382.0L354.5,381.8L355.0,380.0L355.5,378.9L356.0,378.4L356.5,375.7L357.0,374.8L357.5,372.8L358.0,370.3L358.5,368.0L359.0,366.2L359.5,361.7L360.0,358.9L360.5,355.6L361.0,352.0L361.5,348.3L362.0,345.9L362.5,342.1L363.0,338.2L363.5,335.8L364.0,333.9L364.5,332.1L365.0,330.3L365.5,330.4L366.0,330.9L366.5,332.1L367.0,333.9L367.5,335.4L368.0,339.6L368.5,342.1L369.0,346.0L369.5,349.9L370.0,352.2L370.5,355.2L371.0,359.4L371.5,362.1L372.0,365.0L372.5,367.5L373.0,371.1L373.5,372.5L374.0,374.1L374.5,376.2L375.0,377.5L375.5,379.3L376.0,380.2L376.5,381.0L377.0,382.3L377.5,382.6L378.0,383.6L378.5,384.2L379.0,384.1L379.5,384.4L380.0,384.9L380.5,385.3L381.0,385.3L381.5,385.5L382.0,385.6L382.5,385.8L383.0,386.0L383.5,385.7L384.0,385.9L384.5,386.1L385.0,386.0L385.5,386.3L386.0,386.5L386.5,386.4L387.0,386.3L387.5,386.3L388.0,387.1L388.5,386.9L389.0,386.3L389.5,386.4L390.0,387.3L390.5,387.2L391.0,386.8L391.5,387.2L392.0,386.4L392.5,386.9L393.0,387.1L393.5,386.4L394.0,386.7L394.5,387.2L395.0,387.4L395.5,386.9L396.0,387.1L396.5,387.6L397.0,387.0L397.5,386.7L398.0,387.1L398.5,387.0L399.0,387.6L399.5,387.2L400.0,387.0L400.5,387.9L401.0,387.1L401.5,387.4L402.0,387.5L402.5,387.5L403.0,387.3L403.5,387.5L404.0,387.3L404.5,386.9L405.0,387.3L405.5,387.3L406.0,387.3L406.5,387.4L407.0,387.2L407.5,387.8L408.0,387.9L408.5,386.7L409.0,387.4L409.5,387.2L410.0,386.6L410.5,387.5L411.0,387.2L411.5,387.3L412.0,387.3L412.5,387.8L413.0,387.8L413.5,387.6L414.0,387.7L414.5,387.4L415.0,387.5L415.5,387.3L416.0,387.5L416.5,387.3L417.0,387.6L417.5,387.8L418.0,387.6L418.5,387.9L419.0,388.3L419.5,386.9L420.0,387.5L420.5,387.4L421.0,387.4L421.5,387.1L422.0,387.6L422.5,387.5L423.0,387.4L423.5,387.5L424.0,387.4L424.5,386.9L425.0,387.9L425.5,387.5L426.0,387.3L426.5,387.7L427.0,387.4L427.5,386.9L428.0,387.9L428.5,387.1L429.0,387.5L429.5,387.7L430.0,388.0L430.5,388.0L431.0,387.7L431.5,387.4L432.0,387.5L432.5,388.0L433.0,388.2L433.5,387.8L434.0,387.4L434.5,388.0L435.0,387.5L435.5,387.5L436.0,387.6L436.5,387.8L437.0,387.7L437.5,388.0L438.0,388.1L438.5,387.8L439.0,387.0L439.5,387.2L440.0,387.7L440.5,387.7L441.0,388.3L441.5,387.7L442.0,387.6L442.5,388.0L443.0,388.0L443.5,387.6L444.0,387.8L444.5,387.4L445.0,387.4L445.5,388.1L446.0,387.3L446.5,388.0L447.0,387.9L447.5,387.9L448.0,388.0L448.5,387.9L449.0,387.1L449.5,387.4L450.0,387.5L450.5,388.0L451.0,387.4L451.5,387.5L452.0,387.6L452.5,388.1L453.0,387.3L453.5,387.3L454.0,387.9L454.5,387.1L455.0,387.8L455.5,387.6L456.0,387.3L456.5,387.6L457.0,387.4L457.5,387.8L458.0,387.9L458.5,388.2L459.0,387.7L459.5,387.8L460.0,387.6L460.5,387.7L461.0,388.1L461.5,387.2L462.0,388.0L462.5,387.6L463.0,387.8L463.5,387.9L464.0,388.0L464.5,387.8L465.0,387.6L465.5,387.9L466.0,387.8L466.5,387.7L467.0,387.8L467.5,388.0L468.0,387.8L468.5,387.8L469.0,387.4L469.5,387.7L470.0,387.2L470.5,388.0L471.0,387.5L471.5,388.2L472.0,388.7L472.5,387.7L473.0,388.2L473.5,387.9L474.0,387.6L474.5,387.5L475.0,388.0L475.5,388.2L476.0,387.9L476.5,387.3L477.0,387.5L477.5,387.7L478.0,388.2L478.5,387.9L479.0,387.9L479.5,388.2L480.0,387.7L480.5,387.8L481.0,387.8L481.5,387.3L482.0,387.9L482.5,387.9L483.0,388.1L483.5,387.5L484.0,387.6L484.5,388.1L485.0,387.9L485.5,388.2L486.0,387.6L486.5,387.9L487.0,387.6L487.5,387.9L488.0,387.7L488.5,388.0L489.0,388.1L489.5,388.0L490.0,387.3L490.5,388.1L491.0,388.0L491.5,387.5L492.0,387.6L492.5,387.8L493.0,388.0L493.5,387.7L494.0,387.3L494.5,387.9L495.0,387.9L495.5,388.6L496.0,387.4L496.5,388.6L497.0,388.4L497.5,387.9L498.0,388.3L498.5,387.9L499.0,388.1L499.5,387.6L500.0,387.9L500.5,387.5L501.0,387.4L501.5,387.8L502.0,387.6L502.5,388.0L503.0,388.2L503.5,387.8L504.0,387.9L504.5,387.9L505.0,387.3L505.5,387.9L506.0,387.8L506.5,387.8L507.0,387.5L507.5,387.2L508.0,387.8L508.5,387.9L509.0,388.2L509.5,388.2L510.0,388.3L510.5,388.0L511.0,388.2L511.5,387.8L512.0,388.0L512.5,388.1L513.0,388.7L513.5,387.9L514.0,387.5L514.5,388.3L515.0,387.6L515.5,387.8L516.0,387.8L516.5,387.6L517.0,388.2L517.5,388.0L518.0,387.7L518.5,387.9L519.0,387.7L519.5,388.0L520.0,387.7L520.5,387.6L521.0,387.6L521.5,387.7L522.0,387.9L522.5,387.6L523.0,387.8L523.5,388.0L524.0,388.5L524.5,388.1L525.0,386.9L525.5,387.7L526.0,387.7L526.5,387.9L527.0,388.3L527.5,388.1L528.0,387.1L528.5,387.9L529.0,387.9L529.5,388.0L530.0,388.2L530.5,387.5L531.0,388.2L531.5,387.3L532.0,387.8L532.5,387.9L533.0,388.5L533.5,387.6L534.0,387.3L534.5,388.0L535.0,387.6L535.5,388.3L536.0,387.6L536.5,387.5L537.0,388.2L537.5,387.8L538.0,388.1L538.5,387.4L539.0,388.3L539.5,387.6L540.0,388.0L540.5,387.5L541.0,387.3L541.5,387.7L542.0,387.8L542.5,388.2L543.0,387.9L543.5,388.0L544.0,387.9L544.5,388.7L545.0,387.5L545.5,388.1L546.0,387.7L546.5,387.8L547.0,387.5L547.5,388.0L548.0,387.3L548.5,387.3L549.0,387.6L549.5,387.3L550.0,387.9L550.5,387.9L551.0,387.4L551.5,387.9L552.0,387.4L552.5,387.6L553.0,387.6L553.5,388.1L554.0,387.6L554.5,387.3L555.0,387.3L555.5,387.9L556.0,387.0L556.5,387.4L557.0,387.4L557.5,386.7L558.0,387.3L558.5,387.7L559.0,387.5L559.5,387.1L560.0,387.6L560.5,387.5L561.0,387.9L561.5,387.1L562.0,387.1L562.5,387.2L563.0,387.1L563.5,387.2L564.0,387.1L564.5,386.9L565.0,386.6L565.5,386.8L566.0,386.5L566.5,386.6L567.0,386.7L567.5,387.0L568.0,387.0L568.5,386.4L569.0,386.7L569.5,386.8L570.0,386.5L570.5,385.9L571.0,385.6L571.5,386.4L572.0,386.4L572.5,386.1L573.0,385.5L573.5,386.2L574.0,386.0L574.5,385.4L575.0,385.2L575.5,384.5L576.0,385.1L576.5,384.1L577.0,384.6L577.5,384.4L578.0,383.9L578.5,384.0L579.0,383.0L579.5,382.8L580.0,382.4L580.5,381.5L581.0,380.5L581.5,380.1L582.0,378.7L582.5,376.9L583.0,374.9L583.5,372.5L584.0,370.1L584.5,365.2L585.0,360.0L585.5,353.5L586.0,346.1L586.5,337.3L587.0,328.4L587.5,317.7L588.0,306.1L588.5,294.7L589.0,284.8L589.5,276.0L590.0,270.0L590.5,268.6L591.0,270.5L591.5,276.2L592.0,285.2L592.5,295.1L593.0,307.0L593.5,317.3L594.0,328.5L594.5,338.3L595.0,346.5L595.5,354.1L596.0,359.7L596.5,364.6L597.0,369.2L597.5,372.2L598.0,375.3L598.5,377.0L599.0,378.8L599.5,379.9L600.0,380.8L600.5,381.5L601.0,382.0L601.5,382.5L602.0,383.8L602.5,383.0L603.0,383.8L603.5,384.5L604.0,384.6L604.5,385.2L605.0,385.1L605.5,384.8L606.0,385.3L606.5,385.1L607.0,386.0L607.5,386.3L608.0,385.8L608.5,386.3L609.0,386.1L609.5,385.9L610.0,386.3L610.5,386.0L611.0,386.4L611.5,386.7L612.0,387.0L612.5,387.2L613.0,386.8L613.5,387.0L614.0,387.1L614.5,387.2L615.0,386.2L615.5,386.9L616.0,387.4L616.5,386.9L617.0,387.3L617.5,387.5L618.0,386.7L618.5,387.3L619.0,387.5L619.5,387.4L620.0,387.0L620.5,387.6L621.0,387.3L621.5,387.8L622.0,387.7L622.5,387.4L623.0,387.7L623.5,387.4L624.0,387.4L624.5,387.2L625.0,387.6L625.5,387.9L626.0,387.7L626.5,387.7L627.0,387.6L627.5,387.6L628.0,388.0L628.5,387.3L629.0,388.4L629.5,387.8L630.0,388.5L630.5,388.2L631.0,387.7L631.5,388.1L632.0,387.9L632.5,388.0L633.0,388.1L633.5,387.7L634.0,387.7L634.5,387.8L635.0,387.5L635.5,387.8L636.0,388.0L636.5,388.0L637.0,388.0L637.5,387.8L638.0,388.2L638.5,387.3L639.0,387.8L639.5,387.9L640.0,388.2L640.5,388.2L641.0,388.2L641.5,388.0L642.0,388.3L642.5,387.7L643.0,388.0L643.5,387.3L644.0,388.5L644.5,388.5L645.0,387.8L645.5,387.7L646.0,387.4L646.5,387.5L647.0,388.0L647.5,388.0L648.0,387.6L648.5,387.8L649.0,387.8L649.5,388.1L650.0,388.2L650.5,387.9L651.0,388.0L651.5,388.0L652.0,387.3L652.5,388.0L653.0,387.9L653.5,388.2L654.0,387.4L654.5,388.2L655.0,387.7L655.5,388.0L656.0,388.3L656.5,387.4L657.0,387.5L657.5,388.1L658.0,387.5L658.5,387.5L659.0,388.0L659.5,387.7L660.0,388.0L660.5,387.8L661.0,387.7L661.5,388.0L662.0,388.3L662.5,387.6L663.0,388.1L663.5,387.9L664.0,387.6L664.5,387.7L665.0,387.2L665.5,387.3L666.0,387.5L666.5,387.3L667.0,387.7L667.5,386.8L668.0,387.1L668.5,386.9L669.0,386.9L669.5,387.2L670.0,386.3L670.5,386.8L671.0,386.2L671.5,386.0L672.0,386.2L672.5,385.4L673.0,385.4L673.5,384.8L674.0,384.2L674.5,383.6L675.0,382.5L675.5,382.1L676.0,381.6L676.5,380.8L677.0,379.3L677.5,379.1L678.0,377.9L678.5,376.1L679.0,375.1L679.5,374.5L680.0,372.5L680.5,371.7L681.0,370.9L681.5,369.9L682.0,369.0L682.5,368.5L683.0,367.5L683.5,367.3L684.0,368.1L684.5,366.9L685.0,367.6L685.5,368.4L686.0,368.8L686.5,370.4L687.0,370.9L687.5,372.3L688.0,372.1L688.5,374.7L689.0,375.8L689.5,376.3L690.0,378.1L690.5,378.8L691.0,380.0L691.5,381.2L692.0,381.5L692.5,381.9L693.0,382.9L693.5,383.1L694.0,383.8L694.5,384.3L695.0,384.8L695.5,385.7L696.0,385.9L696.5,385.7L697.0,386.5L697.5,385.8L698.0,386.3L698.5,386.6L699.0,387.1L699.5,387.1L700.0,387.1L700.5,387.4L701.0,387.3L701.5,387.6L702.0,386.9L702.5,386.7L703.0,387.1L703.5,387.5L704.0,387.4L704.5,387.6L705.0,387.6L705.5,387.5L706.0,387.6L706.5,387.2L707.0,387.8L707.5,387.1L708.0,387.4L708.5,387.0L709.0,387.6L709.5,387.0L710.0,387.9L710.5,387.1L711.0,387.6L711.5,387.5L712.0,387.3L712.5,387.9L713.0,387.4L713.5,388.0L714.0,387.3L714.5,387.4L715.0,387.0L715.5,387.8L716.0,387.9L716.5,387.7L717.0,387.6L717.5,387.4L718.0,388.4L718.5,387.9L719.0,387.1L719.5,387.6L720.0,386.9L720.5,388.2L721.0,388.3L721.5,388.2L722.0,387.7L722.5,387.6L723.0,387.3L723.5,387.9L724.0,387.5L724.5,387.7L725.0,387.6L725.5,387.7L726.0,388.1L726.5,388.3L727.0,387.9L727.5,387.8L728.0,387.5L728.5,387.5L729.0,387.5L729.5,388.1L730.0,387.9L730.5,388.1L731.0,388.0L731.5,387.7L732.0,387.5L732.5,387.7L733.0,387.4L733.5,388.5L734.0,387.9L734.5,387.8L735.0,388.5L735.5,387.7L736.0,388.0L736.5,387.8L737.0,388.0L737.5,387.8L738.0,388.0L738.5,388.3L739.0,387.5L739.5,387.2L740.0,388.3L740.5,387.9L741.0,388.1L741.5,387.7L742.0,388.3L742.5,388.3L743.0,387.4L743.5,388.0L744.0,387.5L744.5,387.2L745.0,387.6L745.5,387.8L746.0,387.2L746.5,387.2L747.0,387.9L747.5,387.5L748.0,387.5L748.5,387.0L749.0,387.1L749.5,387.2L750.0,387.2L750.5,387.1L751.0,387.4L751.5,386.9L752.0,386.3L752.5,386.4L753.0,386.5L753.5,386.8L754.0,386.0L754.5,386.0L755.0,386.0L755.5,385.6L756.0,385.4L756.5,385.4L757.0,385.7L757.5,385.3L758.0,384.9L758.5,385.0L759.0,384.3L759.5,384.8L760.0,384.6L760.5,384.3L761.0,383.5L761.5,384.5L762.0,382.8L762.5,383.3L763.0,383.2L763.5,383.6L764.0,382.8L764.5,383.3L765.0,383.1L765.5,383.1L766.0,383.5L766.5,383.7L767.0,383.3L767.5,383.2L768.0,382.6L768.5,383.9L769.0,383.5L769.5,383.1L770.0,383.9L770.5,384.4L771.0,384.1L771.5,383.9L772.0,385.2L772.5,384.8L773.0,384.9L773.5,385.3L774.0,384.5L774.5,385.3L775.0,385.5L775.5,386.4L776.0,385.7L776.5,385.9L777.0,385.8L777.5,386.1L778.0,386.4L778.5,386.7L779.0,386.7L779.5,387.5L780.0,387.2L780.5,387.3L781.0,387.7L781.5,387.6L782.0,387.3L782.5,387.1L783.0,387.7L783.5,387.4L784.0,388.2L784.5,387.6L785.0,387.2L785.5,388.0L786.0,388.3L786.5,388.0L787.0,388.1L787.5,388.2L788.0,388.7L788.5,388.3L789.0,388.2L789.5,388.1L790.0,387.8L790.5,388.7L791.0,388.7L791.5,388.1L792.0,388.6L792.5,388.5L793.0,388.3L793.5,388.3L794.0,388.7L794.5,388.1L795.0,388.3L795.5,388.4L796.0,388.5L796.5,388.4L797.0,388.6L797.5,388.7L798.0,388.2L798.5,388.6L799.0,388.4L799.5,389.0L800.0,388.1L800.5,388.5L801.0,388.8L801.5,388.5L802.0,388.5L802.5,388.4L803.0,388.7L803.5,388.3L804.0,388.6L804.5,388.6L805.0,388.2L805.5,388.7L806.0,388.5L806.5,388.8L807.0,388.9L807.5,388.8L808.0,388.3L808.5,388.8L809.0,388.2L809.5,388.5L810.0,389.2L810.5,388.7L811.0,389.2L811.5,388.7L812.0,388.7L812.5,388.4L813.0,389.0L813.5,388.7L814.0,389.0L814.5,388.9L815.0,388.9L815.5,388.9L816.0,388.8L816.5,388.8L817.0,388.6L817.5,388.2L818.0,389.0L818.5,389.5L819.0,389.2L819.5,389.5L820.0,389.0L820.5,388.5L821.0,388.5L821.5,389.0L822.0,388.9L822.5,388.7L823.0,389.0L823.5,388.5L824.0,388.9L824.5,388.7L825.0,388.8L825.5,389.1L826.0,388.7L826.5,389.1L827.0,389.1L827.5,388.4L828.0,389.4L828.5,388.3L829.0,388.6L829.5,388.9L830.0,387.9L830.5,388.9L831.0,388.9L831.5,388.6L832.0,388.7L832.5,388.6L833.0,388.5L833.5,388.9L834.0,388.4L834.5,388.5L835.0,388.6L835.5,388.8L836.0,388.8L836.5,388.0L837.0,387.8L837.5,388.4L838.0,388.4L838.5,388.1L839.0,388.5L839.5,388.6L840.0,388.5L840.5,388.9L841.0,388.0L841.5,388.4L842.0,388.9L842.5,388.5L843.0,388.0L843.5,388.4L844.0,388.6L844.5,388.9L845.0,388.5L845.5,388.6L846.0,387.9L846.5,388.1L847.0,388.6L847.5,387.9L848.0,388.2L848.5,387.6L849.0,388.6L849.5,388.1L850.0,388.3L850.5,387.7L851.0,387.7L851.5,388.6L852.0,388.0L852.5,387.9L853.0,388.2L853.5,388.2L854.0,387.4L854.5,387.7L855.0,388.0L855.5,388.0L856.0,388.1L856.5,387.8L857.0,387.9L857.5,388.0L858.0,387.7L858.5,387.6L859.0,387.7L859.5,387.9L860.0,387.8L860.5,387.7L861.0,387.8L861.5,387.8L862.0,387.9L862.5,387.9L863.0,387.4L863.5,388.1L864.0,387.3L864.5,387.9L865.0,387.5L865.5,387.9L866.0,388.0L866.5,387.1L867.0,387.8L867.5,387.7L868.0,387.5L868.5,387.7L869.0,387.4L869.5,387.6L870.0,387.2L870.5,387.8L871.0,387.7L871.5,387.7L872.0,387.3L872.5,388.0L873.0,388.1L873.5,387.4L874.0,387.3L874.5,387.3L875.0,387.6L875.5,387.7L876.0,387.1L876.5,386.7L877.0,387.5L877.5,387.3L878.0,387.3L878.5,387.4L879.0,386.9L879.5,387.3L880.0,387.1L880.5,387.3L881.0,387.6L881.5,387.2L882.0,386.9L882.5,387.5L883.0,387.3L883.5,387.0L884.0,386.5L884.5,386.8L885.0,387.1L885.5,387.2L886.0,386.8L886.5,387.1L887.0,386.7L887.5,386.8L888.0,387.0L888.5,386.7L889.0,386.8L889.5,387.0L890.0,387.1L890.5,386.5L891.0,386.6L891.5,386.2L892.0,386.2L892.5,386.7L893.0,386.4L893.5,385.9L894.0,386.7L894.5,386.2L895.0,386.3L895.5,386.5L896.0,386.5L896.5,386.3L897.0,385.6L897.5,386.4L898.0,385.9L898.5,385.6L899.0,385.3L899.5,386.3L900.0,385.8L900.5,385.7L901.0,385.8L901.5,385.4L902.0,384.9L902.5,385.4L903.0,385.4L903.5,385.0L904.0,385.2L904.5,385.1L905.0,384.1L905.5,384.0L906.0,384.2L906.5,383.8L907.0,383.5L907.5,383.5L908.0,383.2L908.5,382.5L909.0,382.4L909.5,381.9L910.0,381.7L910.5,381.1L911.0,380.5L911.5,380.7L912.0,380.3L912.5,380.5L913.0,380.4L913.5,379.5L914.0,379.3L914.5,378.6L915.0,378.2L915.5,378.1L916.0,377.8L916.5,377.7L917.0,377.3L917.5,377.6L918.0,376.6L918.5,375.9L919.0,376.3L919.5,375.8L920.0,375.9L920.5,376.1L921.0,375.4L921.5,375.5L922.0,375.7L922.5,375.1L923.0,375.6L923.5,375.7L924.0,375.9L924.5,376.2L925.0,376.1L925.5,376.2L926.0,375.8L926.5,375.6L927.0,376.5L927.5,377.6L928.0,377.4L928.5,376.9L929.0,377.9L929.5,378.5L930.0,378.1L930.5,379.3L931.0,379.1L931.5,380.2L932.0,380.2L932.5,381.6L933.0,380.5L933.5,381.4L934.0,381.1L934.5,382.3L935.0,382.3L935.5,382.9L936.0,383.0L936.5,382.9L937.0,383.3L937.5,383.4L938.0,383.8L938.5,384.4L939.0,385.0L939.5,385.1L940.0,385.3L940.5,385.1L941.0,385.7L941.5,385.5L942.0,386.0L942.5,386.4L943.0,386.2L943.5,386.3L944.0,386.4L944.5,386.9L945.0,386.7L945.5,386.5L946.0,386.9L946.5,386.8L947.0,387.7L947.5,387.4L948.0,387.0L948.5,387.6L949.0,387.8L949.5,387.8L950.0,387.6L950.5,387.8L951.0,387.9L951.5,388.2L952.0,388.1L952.5,388.7L953.0,388.0L953.5,388.5L954.0,388.1L954.5,387.6L955.0,387.8L955.5,387.7L956.0,387.7L956.5,388.6L957.0,388.1L957.5,388.5L958.0,388.1L958.5,388.4L959.0,388.1L959.5,388.7L960.0,388.4L960.5,388.4L961.0,388.5L961.5,389.2L962.0,388.7L962.5,388.8L963.0,388.2L963.5,388.4L964.0,388.7L964.5,388.0L965.0,388.9L965.5,388.5L966.0,388.4L966.5,388.3L967.0,388.2L967.5,388.1L968.0,388.6L968.5,388.3L969.0,388.4L969.5,387.9L970.0,387.6L970.5,388.2L971.0,387.4L971.5,387.5L972.0,387.9L972.5,387.9L973.0,387.1L973.5,387.4L974.0,387.4L974.5,387.3L975.0,387.0L975.5,387.3L976.0,386.7L976.5,386.6L977.0,385.8L977.5,386.3L978.0,385.5L978.5,386.1L979.0,385.8L979.5,385.3L980.0,385.3L980.5,385.1L981.0,384.9L981.5,384.8L982.0,384.5L982.5,384.2L983.0,383.9L983.5,384.4L984.0,383.8L984.5,383.5L985.0,383.5L985.5,382.9L986.0,382.6L986.5,382.5L987.0,382.3L987.5,381.9L988.0,380.9L988.5,381.0L989.0,380.7L989.5,380.5L990.0,379.8L990.5,379.4L991.0,379.3L991.5,378.8L992.0,378.4L992.5,378.3L993.0,378.3L993.5,377.7L994.0,377.7" stroke="#F99A0A" stroke-width="3.6" fill="none" stroke-linejoin="round" stroke-linecap="round"/>
<path d="M57.0,520.1L57.4,496.8L57.8,511.2L58.2,505.9L58.6,506.1L59.0,506.9L59.4,497.4L59.8,506.0L60.2,506.1L60.6,523.0L61.0,507.1L61.4,503.8L61.8,503.7L62.2,501.5L62.6,499.5L63.0,502.7L63.4,507.0L63.8,503.2L64.2,509.1L64.6,503.2L65.0,504.2L65.4,511.7L65.8,506.6L66.2,501.2L66.6,502.7L67.0,506.2L67.4,513.1L67.8,502.0L68.2,505.0L68.6,508.1L69.0,498.6L69.4,501.4L69.8,507.2L70.2,505.6L70.6,503.0L71.0,505.8L71.4,488.2L71.8,507.3L72.2,497.3L72.6,493.6L73.0,503.3L73.4,505.3L73.8,499.4L74.2,496.2L74.6,501.6L75.0,501.1L75.4,508.2L75.8,504.8L76.2,502.0L76.6,506.4L77.0,499.7L77.4,496.0L77.8,503.5L78.2,503.3L78.6,499.2L79.0,496.4L79.4,501.2L79.8,487.5L80.2,503.4L80.6,502.5L81.0,492.0L81.4,500.6L81.8,489.1L82.2,504.3L82.6,490.5L83.0,496.2L83.4,504.4L83.8,506.8L84.2,490.3L84.6,498.7L85.0,498.3L85.4,498.4L85.8,509.5L86.2,495.7L86.6,503.5L87.0,496.6L87.4,509.0L87.8,502.0L88.2,500.4L88.6,493.7L89.0,510.8L89.4,506.3L89.8,531.4L90.2,507.3L90.6,504.6L91.0,499.8L91.4,499.1L91.8,499.2L92.2,514.5L92.6,496.1L93.0,500.6L93.4,502.1L93.8,504.9L94.2,506.8L94.6,497.8L95.0,497.6L95.4,504.2L95.8,510.4L96.2,508.2L96.6,505.6L97.0,503.1L97.4,506.2L97.8,503.7L98.2,509.1L98.6,501.1L99.0,505.9L99.4,504.8L99.8,508.2L100.2,506.7L100.6,518.4L101.0,513.3L101.4,513.4L101.8,495.8L102.2,504.4L102.6,503.2L103.0,499.5L103.4,495.1L103.8,512.4L104.2,512.0L104.6,500.3L105.0,502.0L105.4,503.0L105.8,507.4L106.2,510.5L106.6,517.7L107.0,506.6L107.4,511.5L107.8,508.6L108.2,516.7L108.6,511.8L109.0,515.0L109.4,502.9L109.8,507.5L110.2,504.5L110.6,516.2L111.0,521.3L111.4,507.4L111.8,506.8L112.2,511.6L112.6,505.8L113.0,504.8L113.4,512.0L113.8,522.0L114.2,508.6L114.6,507.2L115.0,504.2L115.4,503.5L115.8,513.0L116.2,514.7L116.6,510.6L117.0,512.4L117.4,512.0L117.8,511.7L118.2,503.5L118.6,508.9L119.0,511.9L119.4,507.6L119.8,509.2L120.2,507.6L120.6,510.2L121.0,516.3L121.4,510.1L121.8,511.5L122.2,516.5L122.6,515.7L123.0,521.1L123.4,502.3L123.8,517.2L124.2,510.6L124.6,513.8L125.0,517.5L125.4,518.8L125.8,518.7L126.2,514.4L126.6,521.8L127.0,512.5L127.4,513.3L127.8,518.2L128.2,511.5L128.6,525.2L129.0,519.6L129.4,525.6L129.8,514.7L130.2,513.0L130.6,515.8L131.0,518.7L131.4,512.1L131.8,517.0L132.2,515.0L132.6,523.2L133.0,511.9L133.4,520.5L133.8,512.1L134.2,510.6L134.6,511.9L135.0,509.5L135.4,516.2L135.8,514.6L136.2,516.4L136.6,518.8L137.0,523.8L137.4,517.1L137.8,516.8L138.2,519.7L138.6,507.8L139.0,519.7L139.4,507.2L139.8,519.3L140.2,516.0L140.6,521.7L141.0,515.8L141.4,512.1L141.8,518.0L142.2,513.5L142.6,515.4L143.0,516.6L143.4,515.8L143.8,515.5L144.2,512.4L144.6,515.6L145.0,505.9L145.4,515.9L145.8,510.7L146.2,522.4L146.6,523.2L147.0,507.1L147.4,517.6L147.8,516.3L148.2,511.8L148.6,519.7L149.0,514.8L149.4,508.3L149.8,515.9L150.2,512.6L150.6,517.8L151.0,511.2L151.4,520.5L151.8,521.1L152.2,511.7L152.6,516.5L153.0,517.2L153.4,514.8L153.8,526.4L154.2,518.7L154.6,512.7L155.0,513.8L155.4,517.7L155.8,529.6L156.2,517.4L156.6,519.1L157.0,521.3L157.4,518.7L157.8,530.4L158.2,516.6L158.6,523.1L159.0,520.4L159.4,522.9L159.8,514.0L160.2,528.9L160.6,519.7L161.0,520.6L161.4,516.0L161.8,517.2L162.2,523.8L162.6,526.1L163.0,516.0L163.4,527.6L163.8,525.3L164.2,522.0L164.6,526.2L165.0,525.2L165.4,521.9L165.8,526.2L166.2,529.2L166.6,524.1L167.0,521.3L167.4,526.9L167.8,533.0L168.2,522.6L168.6,523.4L169.0,523.3L169.4,530.3L169.8,515.2L170.2,526.4L170.6,530.7L171.0,520.8L171.4,531.3L171.8,527.9L172.2,522.7L172.6,526.6L173.0,518.1L173.4,523.1L173.8,539.9L174.2,521.8L174.6,535.7L175.0,522.9L175.4,531.4L175.8,526.5L176.2,514.9L176.6,523.0L177.0,526.7L177.4,519.8L177.8,518.6L178.2,527.0L178.6,521.7L179.0,516.3L179.4,521.1L179.8,528.7L180.2,521.8L180.6,528.7L181.0,531.4L181.4,523.8L181.8,517.8L182.2,516.7L182.6,522.9L183.0,527.2L183.4,524.0L183.8,525.2L184.2,510.4L184.6,523.6L185.0,519.5L185.4,520.1L185.8,515.0L186.2,513.4L186.6,518.7L187.0,515.4L187.4,515.9L187.8,523.9L188.2,519.8L188.6,534.7L189.0,524.6L189.4,516.6L189.8,523.4L190.2,521.1L190.6,515.7L191.0,524.5L191.4,514.9L191.8,503.3L192.2,522.4L192.6,515.1L193.0,525.4L193.4,514.6L193.8,511.7L194.2,525.1L194.6,511.8L195.0,518.0L195.4,524.1L195.8,517.2L196.2,516.0L196.6,516.7L197.0,520.2L197.4,511.8L197.8,518.7L198.2,518.3L198.6,526.9L199.0,513.3L199.4,510.2L199.8,518.3L200.2,512.4L200.6,515.7L201.0,514.7L201.4,519.6L201.8,510.3L202.2,512.9L202.6,500.4L203.0,508.5L203.4,520.5L203.8,509.2L204.2,508.9L204.6,506.1L205.0,514.8L205.4,513.1L205.8,506.5L206.2,516.0L206.6,514.2L207.0,516.9L207.4,504.6L207.8,522.3L208.2,520.6L208.6,513.5L209.0,511.7L209.4,513.3L209.8,519.1L210.2,513.7L210.6,509.7L211.0,518.4L211.4,522.4L211.8,520.0L212.2,515.8L212.6,506.8L213.0,518.1L213.4,520.7L213.8,517.8L214.2,520.0L214.6,515.1L215.0,506.1L215.4,513.1L215.8,530.2L216.2,519.0L216.6,516.0L217.0,511.9L217.4,517.6L217.8,525.4L218.2,520.3L218.6,514.1L219.0,524.7L219.4,524.4L219.8,521.9L220.2,520.7L220.6,522.3L221.0,519.0L221.4,519.8L221.8,511.7L222.2,522.8L222.6,516.1L223.0,524.6L223.4,503.8L223.8,517.1L224.2,517.9L224.6,510.6L225.0,513.9L225.4,514.6L225.8,512.8L226.2,506.1L226.6,506.9L227.0,511.3L227.4,511.4L227.8,504.1L228.2,502.3L228.6,501.0L229.0,502.9L229.4,489.9L229.8,485.6L230.2,489.7L230.6,480.0L231.0,478.7L231.4,477.8L231.8,475.2L232.2,462.5L232.6,466.7L233.0,448.4L233.4,454.3L233.8,438.0L234.2,433.7L234.6,437.5L235.0,426.6L235.4,419.3L235.8,415.9L236.2,415.9L236.6,409.3L237.0,406.2L237.4,409.2L237.8,398.8L238.2,399.5L238.6,399.7L239.0,409.7L239.4,411.3L239.8,416.1L240.2,413.6L240.6,417.8L241.0,428.1L241.4,427.6L241.8,439.8L242.2,445.5L242.6,444.6L243.0,454.0L243.4,460.0L243.8,475.2L244.2,485.3L244.6,477.4L245.0,483.2L245.4,476.6L245.8,493.6L246.2,496.8L246.6,495.3L247.0,508.1L247.4,499.5L247.8,509.2L248.2,513.5L248.6,508.9L249.0,521.4L249.4,524.2L249.8,513.6L250.2,514.9L250.6,526.2L251.0,524.2L251.4,519.2L251.8,524.7L252.2,526.4L252.6,526.7L253.0,532.8L253.4,529.9L253.8,537.6L254.2,536.0L254.6,532.9L255.0,535.1L255.4,536.6L255.8,533.8L256.2,521.3L256.6,535.0L257.0,531.3L257.4,539.3L257.8,531.8L258.2,534.2L258.6,533.4L259.0,540.3L259.4,533.0L259.8,530.9L260.2,534.0L260.6,530.4L261.0,533.5L261.4,532.8L261.8,534.4L262.2,542.8L262.6,531.3L263.0,533.6L263.4,532.6L263.8,537.1L264.2,528.0L264.6,530.5L265.0,533.9L265.4,537.0L265.8,536.8L266.2,532.0L266.6,530.3L267.0,537.3L267.4,542.1L267.8,536.6L268.2,536.0L268.6,537.4L269.0,530.6L269.4,533.9L269.8,534.2L270.2,537.1L270.6,535.6L271.0,529.8L271.4,541.6L271.8,544.6L272.2,534.9L272.6,538.3L273.0,537.8L273.4,546.1L273.8,529.2L274.2,544.8L274.6,534.5L275.0,543.3L275.4,537.4L275.8,535.2L276.2,536.5L276.6,541.8L277.0,533.1L277.4,535.7L277.8,535.2L278.2,529.2L278.6,544.3L279.0,540.8L279.4,537.9L279.8,543.9L280.2,533.4L280.6,537.9L281.0,546.9L281.4,543.3L281.8,527.3L282.2,521.8L282.6,533.3L283.0,543.9L283.4,536.3L283.8,537.6L284.2,544.8L284.6,534.4L285.0,539.9L285.4,542.9L285.8,541.3L286.2,541.0L286.6,524.0L287.0,541.7L287.4,537.1L287.8,545.8L288.2,552.2L288.6,535.7L289.0,528.5L289.4,537.3L289.8,541.4L290.2,544.8L290.6,545.0L291.0,535.7L291.4,535.8L291.8,546.1L292.2,534.4L292.6,545.3L293.0,538.8L293.4,543.8L293.8,543.6L294.2,544.0L294.6,544.2L295.0,535.2L295.4,541.7L295.8,540.3L296.2,541.9L296.6,546.5L297.0,539.1L297.4,536.9L297.8,536.9L298.2,539.0L298.6,544.4L299.0,536.6L299.4,546.5L299.8,542.2L300.2,539.7L300.6,534.2L301.0,542.1L301.4,544.4L301.8,532.2L302.2,547.0L302.6,549.4L303.0,542.9L303.4,543.7L303.8,553.3L304.2,547.5L304.6,536.9L305.0,541.3L305.4,540.6L305.8,540.7L306.2,529.6L306.6,545.2L307.0,538.3L307.4,542.3L307.8,540.8L308.2,545.8L308.6,540.0L309.0,537.5L309.4,544.1L309.8,548.5L310.2,539.9L310.6,548.4L311.0,542.8L311.4,538.9L311.8,549.1L312.2,537.4L312.6,546.6L313.0,539.0L313.4,543.8L313.8,535.4L314.2,537.4L314.6,546.9L315.0,542.5L315.4,546.1L315.8,539.4L316.2,543.8L316.6,534.6L317.0,536.0L317.4,540.8L317.8,537.4L318.2,538.1L318.6,541.3L319.0,540.9L319.4,540.5L319.8,549.9L320.2,546.7L320.6,547.8L321.0,541.5L321.4,539.1L321.8,534.4L322.2,539.9L322.6,531.2L323.0,538.7L323.4,545.5L323.8,549.8L324.2,546.5L324.6,537.3L325.0,544.1L325.4,537.7L325.8,545.8L326.2,541.1L326.6,545.9L327.0,554.5L327.4,546.3L327.8,553.3L328.2,542.5L328.6,540.0L329.0,548.3L329.4,550.3L329.8,538.9L330.2,542.0L330.6,534.5L331.0,540.6L331.4,546.1L331.8,541.2L332.2,538.8L332.6,534.6L333.0,543.5L333.4,545.6L333.8,544.6L334.2,542.9L334.6,535.2L335.0,550.4L335.4,541.3L335.8,529.4L336.2,545.2L336.6,530.7L337.0,541.2L337.4,540.9L337.8,543.4L338.2,548.3L338.6,543.9L339.0,532.3L339.4,539.8L339.8,542.5L340.2,542.2L340.6,535.0L341.0,544.9L341.4,544.1L341.8,543.1L342.2,541.3L342.6,532.7L343.0,550.2L343.4,523.7L343.8,539.4L344.2,551.7L344.6,540.4L345.0,542.3L345.4,535.2L345.8,547.9L346.2,534.6L346.6,542.3L347.0,541.6L347.4,535.6L347.8,545.3L348.2,533.7L348.6,537.3L349.0,540.5L349.4,538.5L349.8,542.8L350.2,544.9L350.6,538.7L351.0,537.4L351.4,537.3L351.8,538.0L352.2,543.7L352.6,538.4L353.0,541.3L353.4,542.7L353.8,534.6L354.2,542.9L354.6,533.1L355.0,540.3L355.4,545.2L355.8,531.9L356.2,536.7L356.6,528.7L357.0,533.6L357.4,528.2L357.8,533.4L358.2,532.0L358.6,534.8L359.0,541.5L359.4,534.3L359.8,535.5L360.2,531.2L360.6,529.5L361.0,525.8L361.4,520.1L361.8,528.6L362.2,535.4L362.6,528.7L363.0,522.7L363.4,532.5L363.8,521.1L364.2,519.0L364.6,514.9L365.0,515.0L365.4,517.4L365.8,527.4L366.2,515.2L366.6,509.8L367.0,510.7L367.4,511.3L367.8,502.6L368.2,510.6L368.6,512.2L369.0,509.1L369.4,509.3L369.8,498.7L370.2,495.5L370.6,509.4L371.0,507.4L371.4,493.3L371.8,501.2L372.2,499.5L372.6,501.4L373.0,499.1L373.4,495.1L373.8,498.2L374.2,497.7L374.6,496.5L375.0,487.5L375.4,481.8L375.8,493.0L376.2,489.1L376.6,499.0L377.0,501.8L377.4,500.2L377.8,497.7L378.2,500.7L378.6,507.1L379.0,498.6L379.4,507.9L379.8,507.9L380.2,506.8L380.6,514.0L381.0,504.3L381.4,513.9L381.8,505.8L382.2,507.9L382.6,507.7L383.0,516.5L383.4,510.8L383.8,517.1L384.2,512.4L384.6,524.6L385.0,529.7L385.4,522.8L385.8,531.1L386.2,526.8L386.6,536.0L387.0,526.7L387.4,519.4L387.8,535.6L388.2,528.5L388.6,524.9L389.0,527.6L389.4,523.6L389.8,531.7L390.2,527.9L390.6,541.4L391.0,538.0L391.4,527.0L391.8,528.3L392.2,533.6L392.6,527.3L393.0,536.9L393.4,537.7L393.8,534.4L394.2,536.0L394.6,541.6L395.0,546.5L395.4,547.2L395.8,540.2L396.2,544.6L396.6,536.8L397.0,542.8L397.4,536.2L397.8,544.8L398.2,535.2L398.6,536.7L399.0,541.6L399.4,544.6L399.8,534.8L400.2,539.4L400.6,542.9L401.0,543.4L401.4,538.2L401.8,542.9L402.2,541.2L402.6,549.6L403.0,545.5L403.4,536.1L403.8,531.8L404.2,543.4L404.6,548.8L405.0,543.8L405.4,547.4L405.8,540.6L406.2,536.3L406.6,546.9L407.0,543.7L407.4,546.6L407.8,536.3L408.2,544.1L408.6,540.1L409.0,547.3L409.4,540.4L409.8,540.3L410.2,540.4L410.6,549.6L411.0,543.5L411.4,539.5L411.8,538.2L412.2,538.1L412.6,550.6L413.0,534.2L413.4,539.0L413.8,546.4L414.2,549.1L414.6,542.4L415.0,547.0L415.4,546.9L415.8,547.9L416.2,543.1L416.6,546.6L417.0,543.8L417.4,550.3L417.8,537.0L418.2,547.1L418.6,535.9L419.0,534.5L419.4,552.5L419.8,537.4L420.2,545.0L420.6,535.6L421.0,548.6L421.4,540.3L421.8,534.2L422.2,540.3L422.6,543.3L423.0,534.6L423.4,540.5L423.8,547.5L424.2,541.0L424.6,536.0L425.0,532.5L425.4,537.5L425.8,526.3L426.2,517.9L426.6,528.9L427.0,526.0L427.4,539.2L427.8,530.3L428.2,523.8L428.6,522.0L429.0,529.4L429.4,521.9L429.8,522.3L430.2,523.9L430.6,523.9L431.0,523.2L431.4,522.5L431.8,527.8L432.2,529.2L432.6,511.8L433.0,532.5L433.4,519.9L433.8,525.2L434.2,515.1L434.6,520.4L435.0,519.9L435.4,519.5L435.8,523.4L436.2,522.7L436.6,514.9L437.0,519.9L437.4,524.8L437.8,525.2L438.2,520.9L438.6,521.9L439.0,523.4L439.4,519.5L439.8,519.5L440.2,534.7L440.6,525.9L441.0,529.3L441.4,526.0L441.8,537.1L442.2,540.3L442.6,531.4L443.0,535.9L443.4,530.5L443.8,543.9L444.2,540.5L444.6,532.4L445.0,543.6L445.4,539.8L445.8,540.8L446.2,541.1L446.6,536.6L447.0,537.8L447.4,544.1L447.8,541.2L448.2,537.1L448.6,552.4L449.0,541.6L449.4,540.2L449.8,539.8L450.2,547.1L450.6,548.7L451.0,545.3L451.4,548.7L451.8,537.0L452.2,542.9L452.6,542.5L453.0,545.1L453.4,547.6L453.8,535.1L454.2,561.0L454.6,541.2L455.0,547.3L455.4,549.8L455.8,550.0L456.2,547.0L456.6,531.3L457.0,540.5L457.4,549.8L457.8,541.4L458.2,540.8L458.6,534.3L459.0,552.2L459.4,548.7L459.8,541.7L460.2,545.6L460.6,545.8L461.0,540.7L461.4,544.9L461.8,547.6L462.2,549.1L462.6,552.7L463.0,546.5L463.4,544.1L463.8,548.5L464.2,543.3L464.6,554.9L465.0,552.2L465.4,544.6L465.8,551.7L466.2,549.8L466.6,541.0L467.0,549.8L467.4,551.3L467.8,546.1L468.2,548.6L468.6,542.9L469.0,535.7L469.4,545.3L469.8,542.2L470.2,551.1L470.6,548.1L471.0,544.1L471.4,547.0L471.8,553.6L472.2,552.5L472.6,548.7L473.0,549.0L473.4,545.5L473.8,546.2L474.2,549.8L474.6,546.3L475.0,548.4L475.4,541.3L475.8,538.5L476.2,538.4L476.6,544.7L477.0,570.9L477.4,552.7L477.8,541.8L478.2,539.0L478.6,550.8L479.0,549.1L479.4,539.9L479.8,552.0L480.2,547.6L480.6,553.3L481.0,548.4L481.4,551.1L481.8,548.2L482.2,541.8L482.6,545.4L483.0,543.2L483.4,550.7L483.8,541.5L484.2,538.8L484.6,549.8L485.0,552.1L485.4,553.5L485.8,551.7L486.2,538.7L486.6,542.7L487.0,543.3L487.4,545.9L487.8,535.1L488.2,545.8L488.6,547.1L489.0,540.9L489.4,546.1L489.8,551.3L490.2,545.5L490.6,550.4L491.0,550.0L491.4,546.8L491.8,546.5L492.2,542.5L492.6,550.3L493.0,541.5L493.4,540.1L493.8,546.8L494.2,539.3L494.6,544.7L495.0,547.5L495.4,551.9L495.8,541.9L496.2,545.5L496.6,544.1L497.0,532.1L497.4,532.7L497.8,545.3L498.2,540.0L498.6,527.0L499.0,529.9L499.4,536.1L499.8,530.3L500.2,536.7L500.6,533.9L501.0,535.1L501.4,525.9L501.8,534.0L502.2,539.7L502.6,525.0L503.0,534.5L503.4,531.9L503.8,529.2L504.2,524.6L504.6,518.1L505.0,518.5L505.4,525.7L505.8,525.8L506.2,526.0L506.6,523.7L507.0,522.5L507.4,515.0L507.8,510.2L508.2,516.5L508.6,517.3L509.0,514.5L509.4,505.9L509.8,510.4L510.2,505.2L510.6,513.0L511.0,506.8L511.4,511.1L511.8,513.5L512.2,512.6L512.6,518.9L513.0,506.8L513.4,501.8L513.8,517.9L514.2,520.7L514.6,521.5L515.0,516.4L515.4,518.4L515.8,517.1L516.2,510.9L516.6,515.4L517.0,521.7L517.4,517.3L517.8,530.7L518.2,514.5L518.6,521.1L519.0,529.8L519.4,522.2L519.8,520.6L520.2,520.5L520.6,524.7L521.0,536.9L521.4,532.3L521.8,533.8L522.2,529.5L522.6,537.2L523.0,534.4L523.4,530.1L523.8,533.3L524.2,537.3L524.6,542.9L525.0,537.4L525.4,540.9L525.8,549.1L526.2,535.6L526.6,534.0L527.0,545.9L527.4,543.4L527.8,541.1L528.2,543.4L528.6,540.8L529.0,545.4L529.4,541.5L529.8,542.2L530.2,538.0L530.6,540.0L531.0,544.9L531.4,542.2L531.8,548.3L532.2,544.8L532.6,542.5L533.0,546.4L533.4,542.9L533.8,537.9L534.2,540.1L534.6,541.9L535.0,543.6L535.4,560.1L535.8,550.7L536.2,549.0L536.6,564.0L537.0,561.5L537.4,545.6L537.8,554.8L538.2,552.5L538.6,544.4L539.0,548.3L539.4,552.2L539.8,548.0L540.2,551.9L540.6,548.8L541.0,550.4L541.4,545.3L541.8,548.9L542.2,545.2L542.6,550.4L543.0,538.6L543.4,548.7L543.8,553.3L544.2,550.0L544.6,547.0L545.0,549.8L545.4,542.9L545.8,543.0L546.2,545.4L546.6,546.5L547.0,552.1L547.4,542.8L547.8,552.3L548.2,539.4L548.6,543.3L549.0,547.1L549.4,553.1L549.8,544.2L550.2,534.7L550.6,549.4L551.0,547.2L551.4,541.9L551.8,542.1L552.2,543.9L552.6,547.9L553.0,550.7L553.4,536.1L553.8,558.8L554.2,541.4L554.6,545.5L555.0,550.8L555.4,548.0L555.8,559.1L556.2,552.9L556.6,545.6L557.0,545.5L557.4,544.9L557.8,545.7L558.2,550.8L558.6,544.2L559.0,555.5L559.4,547.0L559.8,546.7L560.2,552.2L560.6,537.6L561.0,542.8L561.4,550.4L561.8,547.5L562.2,547.4L562.6,549.4L563.0,544.4L563.4,554.8L563.8,540.6L564.2,538.1L564.6,553.8L565.0,542.8L565.4,543.9L565.8,554.4L566.2,552.7L566.6,544.8L567.0,544.8L567.4,547.0L567.8,542.6L568.2,550.1L568.6,548.1L569.0,548.0L569.4,551.1L569.8,550.2L570.2,556.6L570.6,554.9L571.0,538.8L571.4,551.8L571.8,541.7L572.2,540.1L572.6,550.8L573.0,543.7L573.4,545.7L573.8,552.6L574.2,543.9L574.6,542.8L575.0,548.9L575.4,553.4L575.8,549.9L576.2,539.5L576.6,544.0L577.0,546.4L577.4,556.8L577.8,551.6L578.2,551.4L578.6,553.1L579.0,545.5L579.4,549.4L579.8,549.5L580.2,542.1L580.6,546.8L581.0,549.6L581.4,546.2L581.8,550.7L582.2,550.3L582.6,551.5L583.0,542.3L583.4,546.5L583.8,552.9L584.2,549.2L584.6,540.8L585.0,545.3L585.4,550.5L585.8,542.1L586.2,543.2L586.6,552.7L587.0,538.0L587.4,535.7L587.8,528.9L588.2,528.1L588.6,536.1L589.0,525.0L589.4,516.6L589.8,514.6L590.2,516.2L590.6,517.0L591.0,506.9L591.4,512.2L591.8,504.8L592.2,508.5L592.6,509.7L593.0,511.3L593.4,508.0L593.8,511.8L594.2,518.1L594.6,512.2L595.0,522.7L595.4,527.6L595.8,533.4L596.2,530.8L596.6,532.7L597.0,536.7L597.4,534.4L597.8,538.8L598.2,543.4L598.6,544.0L599.0,538.4L599.4,542.8L599.8,534.6L600.2,549.7L600.6,543.5L601.0,547.7L601.4,541.3L601.8,546.6L602.2,549.4L602.6,552.2L603.0,540.7L603.4,551.8L603.8,546.9L604.2,543.9L604.6,550.2L605.0,531.7L605.4,554.0L605.8,544.6L606.2,549.2L606.6,548.4L607.0,547.4L607.4,543.5L607.8,545.8L608.2,550.4L608.6,554.8L609.0,548.3L609.4,555.6L609.8,548.5L610.2,543.1L610.6,551.8L611.0,543.8L611.4,550.7L611.8,554.1L612.2,547.2L612.6,548.3L613.0,561.1L613.4,550.0L613.8,550.2L614.2,552.8L614.6,548.4L615.0,548.5L615.4,550.9L615.8,537.0L616.2,556.0L616.6,543.6L617.0,543.6L617.4,551.7L617.8,549.1L618.2,542.7L618.6,550.0L619.0,543.3L619.4,545.5L619.8,541.4L620.2,544.8L620.6,550.9L621.0,549.4L621.4,545.6L621.8,553.3L622.2,548.4L622.6,545.3L623.0,547.2L623.4,556.7L623.8,548.6L624.2,550.0L624.6,547.8L625.0,549.5L625.4,550.3L625.8,548.1L626.2,547.3L626.6,544.1L627.0,543.7L627.4,549.9L627.8,551.5L628.2,552.3L628.6,547.9L629.0,543.4L629.4,550.6L629.8,550.4L630.2,539.8L630.6,551.2L631.0,550.0L631.4,555.2L631.8,541.2L632.2,540.3L632.6,550.4L633.0,537.4L633.4,542.5L633.8,540.5L634.2,540.7L634.6,536.0L635.0,544.1L635.4,549.9L635.8,546.9L636.2,546.6L636.6,542.3L637.0,550.9L637.4,545.9L637.8,548.1L638.2,534.6L638.6,543.5L639.0,535.6L639.4,523.8L639.8,541.0L640.2,533.7L640.6,539.5L641.0,543.6L641.4,539.5L641.8,539.1L642.2,531.0L642.6,531.0L643.0,527.9L643.4,533.2L643.8,537.4L644.2,532.7L644.6,529.5L645.0,522.9L645.4,529.7L645.8,525.3L646.2,516.1L646.6,516.0L647.0,522.1L647.4,518.5L647.8,530.4L648.2,521.7L648.6,515.8L649.0,518.0L649.4,528.0L649.8,515.0L650.2,523.4L650.6,521.7L651.0,526.9L651.4,522.4L651.8,518.1L652.2,523.1L652.6,521.3L653.0,526.4L653.4,522.0L653.8,532.8L654.2,523.3L654.6,526.8L655.0,522.2L655.4,527.0L655.8,527.4L656.2,529.0L656.6,533.6L657.0,527.3L657.4,526.7L657.8,537.3L658.2,531.2L658.6,530.1L659.0,540.0L659.4,538.9L659.8,522.5L660.2,534.5L660.6,540.9L661.0,541.8L661.4,535.6L661.8,537.8L662.2,535.2L662.6,538.4L663.0,540.6L663.4,540.3L663.8,544.7L664.2,546.0L664.6,541.0L665.0,548.4L665.4,538.1L665.8,540.5L666.2,550.2L666.6,542.1L667.0,547.0L667.4,539.5L667.8,540.3L668.2,541.0L668.6,542.4L669.0,539.7L669.4,541.4L669.8,544.6L670.2,547.1L670.6,541.6L671.0,544.2L671.4,545.3L671.8,535.3L672.2,532.7L672.6,551.5L673.0,546.8L673.4,540.4L673.8,541.7L674.2,535.2L674.6,532.8L675.0,541.1L675.4,532.0L675.8,543.8L676.2,535.7L676.6,540.4L677.0,548.4L677.4,548.0L677.8,537.1L678.2,543.6L678.6,543.7L679.0,535.0L679.4,539.6L679.8,544.5L680.2,534.6L680.6,540.0L681.0,537.7L681.4,530.8L681.8,536.4L682.2,525.4L682.6,536.4L683.0,539.2L683.4,540.7L683.8,532.8L684.2,542.5L684.6,543.7L685.0,544.1L685.4,542.5L685.8,533.5L686.2,532.8L686.6,531.6L687.0,530.8L687.4,531.2L687.8,540.0L688.2,542.1L688.6,531.4L689.0,538.5L689.4,527.9L689.8,532.4L690.2,528.8L690.6,525.4L691.0,533.5L691.4,533.3L691.8,521.2L692.2,529.7L692.6,527.0L693.0,530.9L693.4,528.2L693.8,532.0L694.2,524.3L694.6,531.0L695.0,531.9L695.4,535.1L695.8,533.6L696.2,528.8L696.6,524.1L697.0,517.9L697.4,526.6L697.8,533.2L698.2,533.9L698.6,512.3L699.0,520.7L699.4,522.1L699.8,518.0L700.2,523.5L700.6,522.0L701.0,518.5L701.4,520.2L701.8,511.6L702.2,513.9L702.6,513.5L703.0,521.6L703.4,508.2L703.8,514.4L704.2,518.4L704.6,513.4L705.0,516.8L705.4,508.6L705.8,513.2L706.2,514.7L706.6,520.4L707.0,512.1L707.4,514.8L707.8,506.9L708.2,506.6L708.6,513.2L709.0,507.7L709.4,511.2L709.8,507.1L710.2,513.7L710.6,514.6L711.0,498.2L711.4,511.4L711.8,504.1L712.2,504.2L712.6,501.3L713.0,505.5L713.4,496.5L713.8,498.7L714.2,498.9L714.6,504.6L715.0,508.3L715.4,507.9L715.8,506.8L716.2,502.7L716.6,497.7L717.0,509.4L717.4,509.0L717.8,511.0L718.2,517.4L718.6,510.3L719.0,511.3L719.4,501.8L719.8,517.3L720.2,515.4L720.6,513.1L721.0,519.8L721.4,513.8L721.8,517.5L722.2,531.1L722.6,526.2L723.0,528.2L723.4,528.4L723.8,528.9L724.2,527.7L724.6,539.2L725.0,528.4L725.4,533.4L725.8,529.6L726.2,529.8L726.6,520.3L727.0,523.7L727.4,541.9L727.8,542.4L728.2,533.5L728.6,536.3L729.0,540.2L729.4,532.9L729.8,547.3L730.2,533.9L730.6,536.1L731.0,526.4L731.4,548.3L731.8,541.6L732.2,549.9L732.6,537.2L733.0,544.3L733.4,544.4L733.8,544.5L734.2,554.2L734.6,555.5L735.0,551.4L735.4,542.9L735.8,549.6L736.2,552.2L736.6,548.5L737.0,548.9L737.4,548.7L737.8,542.0L738.2,547.9L738.6,554.8L739.0,541.9L739.4,547.4L739.8,540.5L740.2,540.4L740.6,546.6L741.0,538.9L741.4,544.4L741.8,540.4L742.2,543.0L742.6,545.1L743.0,546.2L743.4,543.6L743.8,535.7L744.2,555.7L744.6,546.4L745.0,535.1L745.4,544.7L745.8,549.4L746.2,542.9L746.6,545.9L747.0,545.6L747.4,550.7L747.8,544.3L748.2,550.3L748.6,549.8L749.0,547.9L749.4,554.4L749.8,548.3L750.2,542.3L750.6,549.7L751.0,548.9L751.4,548.1L751.8,549.5L752.2,560.1L752.6,549.5L753.0,550.7L753.4,547.2L753.8,555.0L754.2,548.1L754.6,544.4L755.0,542.3L755.4,551.1L755.8,552.2L756.2,540.6L756.6,534.5L757.0,551.8L757.4,553.7L757.8,542.0L758.2,546.6L758.6,552.8L759.0,546.0L759.4,546.4L759.8,546.0L760.2,542.1L760.6,548.9L761.0,547.7L761.4,541.7L761.8,549.2L762.2,554.3L762.6,549.8L763.0,553.5L763.4,546.0L763.8,555.6L764.2,544.9L764.6,558.2L765.0,546.6L765.4,545.2L765.8,544.4L766.2,546.8L766.6,546.4L767.0,545.4L767.4,547.3L767.8,552.2L768.2,553.3L768.6,547.2L769.0,555.1L769.4,544.0L769.8,543.8L770.2,543.3L770.6,552.0L771.0,541.2L771.4,536.0L771.8,555.4L772.2,557.6L772.6,555.8L773.0,541.6L773.4,549.1L773.8,553.2L774.2,549.6L774.6,541.0L775.0,547.4L775.4,540.6L775.8,542.9L776.2,560.6L776.6,552.5L777.0,541.8L777.4,541.6L777.8,551.4L778.2,546.1L778.6,552.1L779.0,545.9L779.4,548.2L779.8,549.7L780.2,544.0L780.6,539.6L781.0,543.2L781.4,545.7L781.8,548.2L782.2,548.9L782.6,548.9L783.0,551.8L783.4,544.8L783.8,556.2L784.2,559.3L784.6,551.1L785.0,550.2L785.4,555.5L785.8,552.5L786.2,550.2L786.6,548.5L787.0,545.6L787.4,543.5L787.8,552.7L788.2,562.1L788.6,544.1L789.0,549.0L789.4,550.4L789.8,547.2L790.2,545.6L790.6,547.4L791.0,539.5L791.4,549.1L791.8,547.9L792.2,560.0L792.6,554.1L793.0,547.7L793.4,549.4L793.8,558.0L794.2,557.5L794.6,550.4L795.0,548.8L795.4,542.2L795.8,547.8L796.2,548.6L796.6,545.8L797.0,558.1L797.4,540.1L797.8,548.8L798.2,551.6L798.6,551.7L799.0,558.0L799.4,542.5L799.8,545.8L800.2,550.0L800.6,550.2L801.0,547.6L801.4,545.8L801.8,554.9L802.2,544.3L802.6,546.7L803.0,556.8L803.4,558.3L803.8,554.0L804.2,545.3L804.6,545.4L805.0,546.6L805.4,544.0L805.8,547.6L806.2,556.0L806.6,550.8L807.0,545.9L807.4,545.8L807.8,543.8L808.2,555.7L808.6,539.6L809.0,551.1L809.4,542.5L809.8,544.4L810.2,554.3L810.6,554.4L811.0,549.1L811.4,563.1L811.8,544.1L812.2,543.7L812.6,552.1L813.0,551.9L813.4,547.5L813.8,538.8L814.2,556.0L814.6,551.5L815.0,550.6L815.4,545.5L815.8,551.6L816.2,545.5L816.6,548.5L817.0,547.2L817.4,543.0L817.8,545.6L818.2,546.2L818.6,553.3L819.0,548.8L819.4,547.5L819.8,546.3L820.2,552.2L820.6,544.1L821.0,549.6L821.4,557.3L821.8,549.1L822.2,543.1L822.6,539.0L823.0,547.6L823.4,540.6L823.8,538.7L824.2,542.8L824.6,541.0L825.0,550.8L825.4,539.0L825.8,554.1L826.2,542.4L826.6,546.6L827.0,549.3L827.4,547.0L827.8,549.4L828.2,540.8L828.6,534.2L829.0,544.5L829.4,537.0L829.8,542.4L830.2,555.2L830.6,544.2L831.0,542.1L831.4,539.3L831.8,543.4L832.2,543.9L832.6,536.8L833.0,546.1L833.4,539.2L833.8,545.6L834.2,542.1L834.6,549.2L835.0,548.5L835.4,544.2L835.8,543.5L836.2,546.2L836.6,550.8L837.0,549.1L837.4,544.6L837.8,545.3L838.2,551.5L838.6,535.4L839.0,546.2L839.4,538.9L839.8,550.1L840.2,540.8L840.6,542.7L841.0,537.7L841.4,543.2L841.8,547.6L842.2,551.3L842.6,518.0L843.0,540.6L843.4,562.3L843.8,547.4L844.2,544.7L844.6,545.1L845.0,529.1L845.4,550.5L845.8,543.1L846.2,535.0L846.6,548.0L847.0,538.9L847.4,536.8L847.8,544.5L848.2,543.8L848.6,539.4L849.0,541.2L849.4,534.8L849.8,534.2L850.2,545.8L850.6,547.8L851.0,543.2L851.4,542.8L851.8,538.9L852.2,540.1L852.6,536.0L853.0,549.3L853.4,537.6L853.8,542.4L854.2,540.2L854.6,533.1L855.0,549.7L855.4,538.0L855.8,535.9L856.2,540.2L856.6,535.1L857.0,539.6L857.4,534.5L857.8,542.1L858.2,539.4L858.6,532.2L859.0,544.1L859.4,539.8L859.8,533.2L860.2,540.4L860.6,540.6L861.0,547.7L861.4,534.0L861.8,542.5L862.2,537.6L862.6,541.0L863.0,536.5L863.4,537.5L863.8,540.1L864.2,531.6L864.6,523.3L865.0,537.3L865.4,535.0L865.8,537.5L866.2,540.2L866.6,535.8L867.0,542.8L867.4,536.5L867.8,554.3L868.2,540.7L868.6,539.4L869.0,535.9L869.4,536.8L869.8,532.3L870.2,532.9L870.6,536.5L871.0,539.2L871.4,533.6L871.8,540.0L872.2,545.4L872.6,546.4L873.0,535.7L873.4,540.8L873.8,538.5L874.2,539.3L874.6,539.5L875.0,537.9L875.4,539.4L875.8,536.1L876.2,533.8L876.6,536.3L877.0,537.4L877.4,541.0L877.8,536.7L878.2,538.5L878.6,541.8L879.0,530.0L879.4,533.3L879.8,537.2L880.2,534.6L880.6,529.3L881.0,539.2L881.4,533.9L881.8,529.1L882.2,543.6L882.6,527.6L883.0,533.9L883.4,530.5L883.8,534.3L884.2,536.5L884.6,529.5L885.0,533.0L885.4,532.8L885.8,533.1L886.2,539.2L886.6,534.1L887.0,531.8L887.4,529.8L887.8,531.4L888.2,533.7L888.6,530.6L889.0,539.1L889.4,520.0L889.8,522.0L890.2,524.6L890.6,528.1L891.0,532.2L891.4,529.1L891.8,535.3L892.2,534.4L892.6,538.8L893.0,536.8L893.4,538.6L893.8,535.1L894.2,537.9L894.6,535.2L895.0,529.9L895.4,526.7L895.8,527.1L896.2,535.7L896.6,521.5L897.0,534.5L897.4,530.0L897.8,537.5L898.2,535.0L898.6,530.4L899.0,534.4L899.4,523.0L899.8,535.9L900.2,537.1L900.6,525.7L901.0,539.3L901.4,534.6L901.8,536.2L902.2,528.3L902.6,538.6L903.0,538.6L903.4,535.8L903.8,531.1L904.2,540.0L904.6,542.6L905.0,538.5L905.4,541.6L905.8,533.8L906.2,537.7L906.6,538.9L907.0,537.9L907.4,551.5L907.8,539.6L908.2,534.9L908.6,542.0L909.0,532.6L909.4,540.0L909.8,542.1L910.2,536.0L910.6,517.4L911.0,534.1L911.4,539.6L911.8,535.7L912.2,547.9L912.6,542.6L913.0,538.4L913.4,532.6L913.8,550.0L914.2,546.5L914.6,542.5L915.0,534.0L915.4,541.3L915.8,538.2L916.2,550.1L916.6,539.1L917.0,533.8L917.4,537.8L917.8,528.3L918.2,544.7L918.6,545.4L919.0,550.6L919.4,552.3L919.8,538.1L920.2,544.4L920.6,547.2L921.0,546.4L921.4,540.0L921.8,546.7L922.2,534.0L922.6,549.8L923.0,542.9L923.4,542.0L923.8,540.8L924.2,548.4L924.6,539.6L925.0,541.8L925.4,546.0L925.8,545.8L926.2,550.1L926.6,549.0L927.0,546.7L927.4,537.9L927.8,546.5L928.2,549.5L928.6,537.2L929.0,538.1L929.4,538.9L929.8,538.5L930.2,542.3L930.6,550.6L931.0,545.7L931.4,537.7L931.8,543.2L932.2,541.3L932.6,539.0L933.0,549.1L933.4,544.1L933.8,546.7L934.2,542.3L934.6,547.5L935.0,547.1L935.4,543.3L935.8,535.2L936.2,548.2L936.6,547.6L937.0,545.1L937.4,545.4L937.8,544.8L938.2,545.2L938.6,539.3L939.0,544.0L939.4,545.9L939.8,541.3L940.2,539.5L940.6,553.7L941.0,537.5L941.4,543.0L941.8,542.1L942.2,531.3L942.6,537.4L943.0,543.4L943.4,551.1L943.8,534.4L944.2,535.3L944.6,554.3L945.0,548.1L945.4,546.9L945.8,550.8L946.2,544.2L946.6,548.5L947.0,548.5L947.4,549.2L947.8,539.6L948.2,552.6L948.6,536.3L949.0,541.6L949.4,560.4L949.8,542.5L950.2,544.8L950.6,540.2L951.0,543.6L951.4,541.6L951.8,543.3L952.2,548.6L952.6,554.1L953.0,549.7L953.4,553.2L953.8,542.9L954.2,552.8L954.6,548.3L955.0,552.3L955.4,543.4L955.8,544.4L956.2,558.2L956.6,548.6L957.0,546.1L957.4,542.2L957.8,545.2L958.2,548.1L958.6,549.3L959.0,542.9L959.4,548.6L959.8,547.9L960.2,540.2L960.6,550.5L961.0,545.8L961.4,545.1L961.8,533.7L962.2,537.8L962.6,540.6L963.0,542.9L963.4,540.3L963.8,547.7L964.2,546.5L964.6,544.5L965.0,535.7L965.4,552.9L965.8,544.6L966.2,548.9L966.6,542.6L967.0,546.0L967.4,544.3L967.8,547.3L968.2,550.9L968.6,545.2L969.0,557.0L969.4,536.7L969.8,543.5L970.2,551.1L970.6,545.0L971.0,544.1L971.4,537.4L971.8,552.3L972.2,536.9L972.6,548.9L973.0,547.4L973.4,550.8L973.8,553.8L974.2,543.0L974.6,542.5L975.0,544.9L975.4,538.0L975.8,550.7L976.2,544.6L976.6,551.2L977.0,541.0L977.4,546.7L977.8,545.3L978.2,546.3L978.6,541.3L979.0,551.9L979.4,543.5L979.8,534.0L980.2,550.0L980.6,545.3L981.0,542.4L981.4,559.4L981.8,546.6L982.2,540.2L982.6,543.9L983.0,548.9L983.4,545.9L983.8,553.2L984.2,550.9L984.6,543.1L985.0,547.3L985.4,550.3L985.8,545.1L986.2,544.9L986.6,551.6L987.0,549.5L987.4,540.3L987.8,544.6L988.2,545.3L988.6,546.8L989.0,540.4L989.4,554.1L989.8,542.6L990.2,542.1L990.6,548.6L991.0,536.3L991.4,542.4L991.8,550.7L992.2,541.0L992.6,543.4L993.0,553.1L993.4,550.0L993.8,548.0" stroke="#DC3228" stroke-width="3.6" fill="none" stroke-linejoin="round" stroke-linecap="round"/>
<path d="M57.0,710.3L57.4,711.6L57.8,716.2L58.2,713.7L58.6,708.0L59.0,712.1L59.4,710.6L59.8,712.5L60.2,708.1L60.6,712.8L61.0,712.8L61.4,716.2L61.8,713.0L62.2,713.5L62.6,708.6L63.0,717.9L63.4,707.5L63.8,715.1L64.2,711.5L64.6,710.2L65.0,710.8L65.4,710.8L65.8,713.4L66.2,712.2L66.6,716.2L67.0,707.9L67.4,712.5L67.8,710.3L68.2,714.5L68.6,707.3L69.0,711.8L69.4,713.2L69.8,709.0L70.2,715.2L70.6,713.2L71.0,715.3L71.4,715.2L71.8,710.3L72.2,710.8L72.6,712.3L73.0,714.7L73.4,715.0L73.8,711.1L74.2,711.4L74.6,710.9L75.0,711.5L75.4,712.4L75.8,712.7L76.2,718.2L76.6,711.8L77.0,712.3L77.4,714.2L77.8,710.7L78.2,712.2L78.6,713.2L79.0,715.1L79.4,709.9L79.8,716.7L80.2,712.4L80.6,713.7L81.0,715.4L81.4,715.0L81.8,716.0L82.2,713.8L82.6,713.3L83.0,714.2L83.4,710.9L83.8,716.5L84.2,711.5L84.6,710.3L85.0,718.7L85.4,713.2L85.8,710.6L86.2,718.2L86.6,712.8L87.0,716.3L87.4,711.6L87.8,713.0L88.2,709.5L88.6,708.9L89.0,711.3L89.4,713.6L89.8,715.8L90.2,719.9L90.6,711.2L91.0,716.4L91.4,712.3L91.8,713.5L92.2,710.2L92.6,710.2L93.0,712.0L93.4,711.0L93.8,714.0L94.2,712.2L94.6,717.2L95.0,714.4L95.4,714.5L95.8,716.9L96.2,715.4L96.6,714.0L97.0,713.9L97.4,713.9L97.8,716.9L98.2,716.2L98.6,715.2L99.0,716.3L99.4,712.9L99.8,715.6L100.2,710.8L100.6,717.7L101.0,714.6L101.4,714.9L101.8,715.9L102.2,714.4L102.6,713.8L103.0,717.5L103.4,714.8L103.8,712.2L104.2,715.6L104.6,710.3L105.0,718.7L105.4,714.2L105.8,714.8L106.2,720.3L106.6,720.1L107.0,715.0L107.4,716.3L107.8,717.5L108.2,719.0L108.6,714.5L109.0,715.1L109.4,717.9L109.8,715.5L110.2,716.8L110.6,716.4L111.0,712.1L111.4,712.8L111.8,708.4L112.2,714.3L112.6,718.4L113.0,712.3L113.4,718.1L113.8,717.6L114.2,715.0L114.6,715.1L115.0,715.3L115.4,713.0L115.8,714.5L116.2,715.1L116.6,716.8L117.0,717.2L117.4,713.4L117.8,717.4L118.2,713.4L118.6,714.9L119.0,716.3L119.4,715.3L119.8,715.1L120.2,716.1L120.6,714.1L121.0,713.8L121.4,715.0L121.8,717.9L122.2,715.3L122.6,720.3L123.0,716.1L123.4,708.1L123.8,714.5L124.2,719.8L124.6,715.7L125.0,714.6L125.4,713.5L125.8,719.0L126.2,718.2L126.6,717.4L127.0,716.9L127.4,719.4L127.8,717.9L128.2,712.8L128.6,717.8L129.0,716.3L129.4,715.6L129.8,717.8L130.2,716.0L130.6,708.6L131.0,719.8L131.4,718.5L131.8,715.6L132.2,715.0L132.6,716.5L133.0,712.7L133.4,716.7L133.8,715.4L134.2,715.1L134.6,713.6L135.0,714.2L135.4,718.7L135.8,719.3L136.2,717.2L136.6,715.8L137.0,713.7L137.4,717.7L137.8,720.0L138.2,711.9L138.6,718.9L139.0,710.5L139.4,715.1L139.8,716.9L140.2,712.5L140.6,712.1L141.0,716.4L141.4,718.1L141.8,714.7L142.2,719.3L142.6,714.0L143.0,720.3L143.4,716.2L143.8,716.5L144.2,717.5L144.6,716.7L145.0,720.5L145.4,721.4L145.8,717.3L146.2,715.5L146.6,713.0L147.0,714.0L147.4,715.9L147.8,715.7L148.2,715.8L148.6,715.9L149.0,717.2L149.4,712.5L149.8,713.3L150.2,718.7L150.6,718.0L151.0,714.6L151.4,719.2L151.8,714.2L152.2,715.3L152.6,711.3L153.0,718.0L153.4,715.9L153.8,718.6L154.2,717.7L154.6,716.1L155.0,716.3L155.4,718.9L155.8,715.5L156.2,715.5L156.6,716.1L157.0,717.9L157.4,718.2L157.8,720.7L158.2,715.7L158.6,719.1L159.0,714.3L159.4,717.5L159.8,716.3L160.2,720.3L160.6,717.5L161.0,714.8L161.4,717.4L161.8,716.8L162.2,715.2L162.6,715.2L163.0,713.6L163.4,722.9L163.8,716.3L164.2,718.4L164.6,713.1L165.0,713.2L165.4,715.6L165.8,715.6L166.2,718.0L166.6,713.4L167.0,717.3L167.4,719.8L167.8,713.7L168.2,718.2L168.6,713.5L169.0,716.8L169.4,716.9L169.8,720.3L170.2,714.2L170.6,716.4L171.0,718.6L171.4,713.0L171.8,715.9L172.2,713.7L172.6,714.2L173.0,717.6L173.4,717.7L173.8,722.4L174.2,719.4L174.6,719.1L175.0,715.5L175.4,715.1L175.8,716.2L176.2,710.2L176.6,720.0L177.0,714.2L177.4,713.2L177.8,714.7L178.2,718.0L178.6,718.9L179.0,714.8L179.4,716.9L179.8,715.6L180.2,713.3L180.6,716.2L181.0,715.8L181.4,711.9L181.8,718.5L182.2,711.7L182.6,716.3L183.0,713.0L183.4,713.6L183.8,713.9L184.2,717.4L184.6,712.5L185.0,715.1L185.4,719.5L185.8,713.8L186.2,715.5L186.6,717.2L187.0,714.0L187.4,716.7L187.8,713.8L188.2,717.2L188.6,715.6L189.0,713.0L189.4,719.0L189.8,715.1L190.2,714.6L190.6,713.0L191.0,714.1L191.4,715.0L191.8,715.6L192.2,718.0L192.6,711.8L193.0,714.2L193.4,718.1L193.8,715.5L194.2,716.0L194.6,718.9L195.0,715.7L195.4,716.0L195.8,714.7L196.2,719.3L196.6,717.4L197.0,712.8L197.4,716.0L197.8,711.5L198.2,717.3L198.6,716.1L199.0,713.8L199.4,713.1L199.8,709.3L200.2,715.8L200.6,713.3L201.0,712.5L201.4,715.0L201.8,711.0L202.2,710.8L202.6,710.1L203.0,707.8L203.4,717.6L203.8,709.6L204.2,708.3L204.6,710.7L205.0,697.2L205.4,704.5L205.8,701.7L206.2,694.4L206.6,693.1L207.0,676.5L207.4,671.5L207.8,659.2L208.2,630.4L208.6,611.9L209.0,595.0L209.4,579.0L209.8,570.6L210.2,580.3L210.6,596.3L211.0,612.2L211.4,637.4L211.8,652.3L212.2,664.9L212.6,675.5L213.0,695.2L213.4,697.5L213.8,708.3L214.2,700.6L214.6,706.1L215.0,709.8L215.4,709.6L215.8,712.5L216.2,712.3L216.6,710.9L217.0,706.8L217.4,711.1L217.8,718.8L218.2,716.6L218.6,718.6L219.0,713.7L219.4,715.1L219.8,713.5L220.2,717.1L220.6,716.5L221.0,717.7L221.4,721.3L221.8,714.7L222.2,719.0L222.6,713.6L223.0,720.2L223.4,716.3L223.8,717.4L224.2,718.1L224.6,722.1L225.0,717.9L225.4,716.8L225.8,715.1L226.2,719.0L226.6,716.2L227.0,717.1L227.4,718.4L227.8,720.3L228.2,716.9L228.6,720.5L229.0,723.3L229.4,715.1L229.8,722.4L230.2,724.5L230.6,717.6L231.0,720.7L231.4,715.7L231.8,720.0L232.2,718.4L232.6,720.0L233.0,717.0L233.4,717.2L233.8,718.2L234.2,717.5L234.6,717.8L235.0,718.9L235.4,716.6L235.8,719.1L236.2,720.7L236.6,713.6L237.0,720.0L237.4,717.6L237.8,716.7L238.2,716.1L238.6,717.4L239.0,717.7L239.4,720.4L239.8,716.4L240.2,722.2L240.6,717.6L241.0,721.4L241.4,722.4L241.8,716.6L242.2,722.4L242.6,725.3L243.0,718.7L243.4,721.3L243.8,719.6L244.2,720.2L244.6,719.5L245.0,718.8L245.4,721.9L245.8,722.3L246.2,720.2L246.6,724.0L247.0,723.0L247.4,722.0L247.8,718.5L248.2,725.1L248.6,723.7L249.0,715.0L249.4,717.6L249.8,719.2L250.2,722.8L250.6,723.6L251.0,719.7L251.4,721.1L251.8,722.3L252.2,717.3L252.6,722.0L253.0,719.8L253.4,721.0L253.8,720.5L254.2,717.7L254.6,718.1L255.0,720.8L255.4,721.0L255.8,720.0L256.2,723.4L256.6,719.8L257.0,717.7L257.4,719.9L257.8,720.3L258.2,720.4L258.6,723.7L259.0,722.1L259.4,723.5L259.8,722.4L260.2,720.4L260.6,723.5L261.0,720.2L261.4,721.5L261.8,718.4L262.2,721.2L262.6,720.1L263.0,721.9L263.4,725.5L263.8,726.9L264.2,723.6L264.6,721.0L265.0,723.1L265.4,721.6L265.8,719.6L266.2,720.9L266.6,720.5L267.0,719.6L267.4,724.6L267.8,719.8L268.2,719.9L268.6,722.9L269.0,719.4L269.4,718.3L269.8,719.1L270.2,722.4L270.6,722.2L271.0,722.0L271.4,720.1L271.8,719.0L272.2,723.6L272.6,717.7L273.0,720.8L273.4,718.0L273.8,720.3L274.2,721.0L274.6,724.5L275.0,714.2L275.4,724.9L275.8,719.2L276.2,722.2L276.6,723.5L277.0,719.6L277.4,721.3L277.8,722.8L278.2,721.2L278.6,719.7L279.0,722.0L279.4,721.9L279.8,717.8L280.2,725.0L280.6,722.2L281.0,715.6L281.4,719.6L281.8,726.0L282.2,725.7L282.6,722.4L283.0,717.5L283.4,721.1L283.8,724.4L284.2,722.8L284.6,721.0L285.0,720.0L285.4,723.9L285.8,721.3L286.2,722.7L286.6,723.1L287.0,726.0L287.4,722.3L287.8,722.6L288.2,717.4L288.6,724.7L289.0,724.2L289.4,721.9L289.8,716.3L290.2,720.6L290.6,722.2L291.0,727.3L291.4,723.5L291.8,724.0L292.2,724.1L292.6,725.4L293.0,719.2L293.4,719.9L293.8,719.1L294.2,721.4L294.6,721.2L295.0,722.4L295.4,719.6L295.8,722.4L296.2,720.0L296.6,727.5L297.0,720.8L297.4,728.6L297.8,726.3L298.2,719.2L298.6,724.6L299.0,723.8L299.4,718.4L299.8,723.8L300.2,722.0L300.6,723.2L301.0,720.2L301.4,722.2L301.8,723.4L302.2,721.9L302.6,720.8L303.0,722.0L303.4,719.9L303.8,723.2L304.2,716.0L304.6,726.2L305.0,722.6L305.4,723.6L305.8,724.5L306.2,719.3L306.6,728.1L307.0,719.5L307.4,723.5L307.8,723.2L308.2,725.6L308.6,722.3L309.0,718.8L309.4,723.1L309.8,716.1L310.2,721.8L310.6,721.1L311.0,726.2L311.4,721.5L311.8,721.1L312.2,720.3L312.6,720.0L313.0,720.8L313.4,723.7L313.8,718.8L314.2,721.6L314.6,718.5L315.0,721.7L315.4,722.5L315.8,719.0L316.2,720.6L316.6,722.3L317.0,724.0L317.4,724.4L317.8,721.7L318.2,719.5L318.6,717.9L319.0,723.9L319.4,725.5L319.8,722.9L320.2,725.9L320.6,720.8L321.0,720.9L321.4,725.9L321.8,719.4L322.2,723.4L322.6,722.8L323.0,722.2L323.4,726.2L323.8,719.6L324.2,720.7L324.6,716.5L325.0,719.2L325.4,720.5L325.8,720.8L326.2,721.2L326.6,722.5L327.0,720.0L327.4,716.7L327.8,722.1L328.2,722.8L328.6,718.7L329.0,719.7L329.4,726.1L329.8,724.2L330.2,724.4L330.6,723.3L331.0,722.0L331.4,720.3L331.8,723.0L332.2,721.0L332.6,720.4L333.0,721.5L333.4,721.3L333.8,723.7L334.2,719.0L334.6,727.8L335.0,718.9L335.4,720.3L335.8,723.8L336.2,719.2L336.6,720.1L337.0,721.4L337.4,713.8L337.8,720.0L338.2,718.8L338.6,720.6L339.0,722.5L339.4,722.8L339.8,725.0L340.2,724.8L340.6,723.8L341.0,721.0L341.4,723.7L341.8,718.5L342.2,720.8L342.6,724.7L343.0,723.0L343.4,717.4L343.8,719.4L344.2,723.2L344.6,722.4L345.0,723.6L345.4,716.3L345.8,717.5L346.2,720.1L346.6,718.2L347.0,720.6L347.4,720.6L347.8,721.4L348.2,720.2L348.6,721.9L349.0,722.4L349.4,720.7L349.8,717.1L350.2,723.6L350.6,720.7L351.0,721.2L351.4,720.5L351.8,715.8L352.2,721.4L352.6,718.1L353.0,716.5L353.4,723.0L353.8,718.8L354.2,720.2L354.6,721.7L355.0,723.5L355.4,714.3L355.8,717.0L356.2,720.6L356.6,716.8L357.0,709.6L357.4,718.5L357.8,718.4L358.2,719.6L358.6,717.7L359.0,715.4L359.4,716.6L359.8,715.2L360.2,713.0L360.6,714.2L361.0,713.3L361.4,707.9L361.8,712.5L362.2,710.1L362.6,707.9L363.0,693.9L363.4,700.6L363.8,696.9L364.2,690.8L364.6,692.5L365.0,682.1L365.4,687.3L365.8,680.9L366.2,674.4L366.6,677.4L367.0,671.3L367.4,668.7L367.8,661.8L368.2,667.2L368.6,670.5L369.0,670.8L369.4,665.0L369.8,676.6L370.2,680.5L370.6,681.6L371.0,681.3L371.4,681.3L371.8,686.9L372.2,691.5L372.6,697.6L373.0,701.5L373.4,700.1L373.8,699.6L374.2,705.9L374.6,705.0L375.0,714.9L375.4,708.6L375.8,714.9L376.2,716.9L376.6,712.7L377.0,719.0L377.4,716.4L377.8,715.2L378.2,715.2L378.6,718.5L379.0,721.4L379.4,713.7L379.8,720.7L380.2,718.8L380.6,717.4L381.0,719.3L381.4,719.7L381.8,719.8L382.2,722.2L382.6,717.8L383.0,725.4L383.4,722.7L383.8,718.9L384.2,715.6L384.6,720.6L385.0,719.7L385.4,722.8L385.8,722.8L386.2,726.0L386.6,720.8L387.0,723.2L387.4,720.1L387.8,720.3L388.2,725.3L388.6,721.0L389.0,721.2L389.4,720.6L389.8,722.4L390.2,723.1L390.6,721.3L391.0,718.8L391.4,722.6L391.8,719.7L392.2,720.9L392.6,722.4L393.0,722.5L393.4,716.0L393.8,726.3L394.2,724.1L394.6,727.0L395.0,728.5L395.4,719.7L395.8,720.7L396.2,722.8L396.6,724.5L397.0,720.9L397.4,721.4L397.8,725.0L398.2,720.0L398.6,722.8L399.0,725.0L399.4,721.6L399.8,724.3L400.2,722.0L400.6,718.3L401.0,720.9L401.4,721.8L401.8,721.5L402.2,722.4L402.6,723.4L403.0,723.1L403.4,722.8L403.8,721.3L404.2,721.8L404.6,721.5L405.0,720.9L405.4,725.9L405.8,717.6L406.2,723.0L406.6,718.3L407.0,720.9L407.4,724.4L407.8,721.7L408.2,726.0L408.6,720.0L409.0,721.7L409.4,720.8L409.8,722.4L410.2,721.6L410.6,721.5L411.0,722.6L411.4,725.2L411.8,722.8L412.2,722.5L412.6,721.7L413.0,720.6L413.4,718.7L413.8,719.7L414.2,722.5L414.6,717.5L415.0,724.0L415.4,721.3L415.8,720.0L416.2,721.0L416.6,724.0L417.0,723.3L417.4,723.1L417.8,726.9L418.2,728.4L418.6,719.3L419.0,724.8L419.4,720.7L419.8,719.2L420.2,721.4L420.6,725.3L421.0,722.0L421.4,721.6L421.8,726.4L422.2,724.2L422.6,722.8L423.0,727.6L423.4,724.3L423.8,721.2L424.2,720.4L424.6,722.1L425.0,723.6L425.4,725.6L425.8,725.3L426.2,723.5L426.6,720.3L427.0,725.6L427.4,723.5L427.8,720.5L428.2,720.2L428.6,723.8L429.0,724.1L429.4,725.3L429.8,720.2L430.2,728.1L430.6,718.7L431.0,723.2L431.4,726.7L431.8,725.9L432.2,720.9L432.6,724.8L433.0,726.4L433.4,725.2L433.8,720.8L434.2,727.5L434.6,719.2L435.0,723.4L435.4,720.6L435.8,722.2L436.2,722.5L436.6,724.6L437.0,720.1L437.4,723.9L437.8,726.6L438.2,723.5L438.6,724.7L439.0,724.4L439.4,721.5L439.8,722.4L440.2,723.5L440.6,724.6L441.0,728.5L441.4,727.5L441.8,722.2L442.2,722.3L442.6,720.8L443.0,717.6L443.4,726.7L443.8,724.8L444.2,718.5L444.6,723.5L445.0,729.4L445.4,724.7L445.8,724.8L446.2,724.0L446.6,721.6L447.0,720.6L447.4,721.4L447.8,723.9L448.2,722.9L448.6,725.3L449.0,728.0L449.4,725.1L449.8,725.7L450.2,722.7L450.6,720.4L451.0,729.1L451.4,725.5L451.8,726.7L452.2,722.7L452.6,719.4L453.0,727.1L453.4,718.2L453.8,723.3L454.2,722.4L454.6,724.3L455.0,725.8L455.4,725.8L455.8,718.4L456.2,726.3L456.6,718.9L457.0,725.5L457.4,722.7L457.8,720.9L458.2,722.5L458.6,720.5L459.0,723.8L459.4,726.2L459.8,725.9L460.2,724.0L460.6,726.7L461.0,725.1L461.4,729.4L461.8,725.2L462.2,722.4L462.6,723.2L463.0,722.0L463.4,723.2L463.8,723.6L464.2,725.7L464.6,725.9L465.0,724.1L465.4,725.0L465.8,722.1L466.2,722.6L466.6,717.7L467.0,722.0L467.4,722.7L467.8,730.5L468.2,720.6L468.6,724.2L469.0,723.2L469.4,720.0L469.8,724.7L470.2,724.1L470.6,720.3L471.0,718.1L471.4,723.9L471.8,720.4L472.2,725.8L472.6,723.4L473.0,725.5L473.4,723.3L473.8,728.1L474.2,725.9L474.6,728.0L475.0,724.5L475.4,721.6L475.8,720.6L476.2,722.9L476.6,725.0L477.0,722.6L477.4,730.5L477.8,724.1L478.2,725.4L478.6,724.5L479.0,721.1L479.4,727.0L479.8,726.0L480.2,726.5L480.6,722.0L481.0,724.4L481.4,724.3L481.8,727.4L482.2,720.9L482.6,726.1L483.0,727.7L483.4,723.4L483.8,722.4L484.2,727.9L484.6,725.1L485.0,727.4L485.4,726.4L485.8,727.3L486.2,724.1L486.6,719.1L487.0,726.1L487.4,722.8L487.8,726.2L488.2,723.2L488.6,728.8L489.0,724.0L489.4,726.7L489.8,727.5L490.2,724.4L490.6,725.5L491.0,724.6L491.4,722.3L491.8,728.4L492.2,722.3L492.6,720.6L493.0,723.4L493.4,725.0L493.8,724.8L494.2,723.8L494.6,723.5L495.0,719.2L495.4,726.3L495.8,729.1L496.2,722.8L496.6,720.1L497.0,726.6L497.4,724.3L497.8,714.5L498.2,722.8L498.6,721.0L499.0,721.7L499.4,729.9L499.8,727.3L500.2,724.4L500.6,724.8L501.0,728.9L501.4,722.0L501.8,726.7L502.2,723.2L502.6,727.0L503.0,725.4L503.4,722.9L503.8,727.6L504.2,726.3L504.6,729.6L505.0,723.8L505.4,725.3L505.8,723.1L506.2,728.1L506.6,723.0L507.0,724.9L507.4,728.3L507.8,726.3L508.2,725.7L508.6,725.6L509.0,725.8L509.4,726.6L509.8,724.2L510.2,719.8L510.6,728.4L511.0,722.2L511.4,729.7L511.8,725.7L512.2,733.2L512.6,728.0L513.0,726.0L513.4,727.3L513.8,721.3L514.2,725.4L514.6,724.0L515.0,725.0L515.4,719.6L515.8,719.2L516.2,726.8L516.6,725.0L517.0,723.7L517.4,724.6L517.8,723.2L518.2,723.6L518.6,726.6L519.0,724.2L519.4,726.6L519.8,723.0L520.2,720.1L520.6,723.1L521.0,724.4L521.4,721.9L521.8,723.8L522.2,723.5L522.6,727.2L523.0,727.0L523.4,727.6L523.8,722.8L524.2,725.6L524.6,728.1L525.0,725.2L525.4,724.6L525.8,722.7L526.2,726.9L526.6,725.2L527.0,727.3L527.4,724.3L527.8,730.1L528.2,724.6L528.6,721.5L529.0,725.2L529.4,726.0L529.8,728.1L530.2,723.5L530.6,723.3L531.0,724.0L531.4,723.7L531.8,719.2L532.2,726.6L532.6,727.9L533.0,722.7L533.4,722.1L533.8,724.3L534.2,722.5L534.6,726.7L535.0,723.0L535.4,726.3L535.8,721.4L536.2,721.0L536.6,720.6L537.0,721.0L537.4,725.8L537.8,726.9L538.2,725.0L538.6,725.2L539.0,718.9L539.4,727.5L539.8,721.4L540.2,728.0L540.6,730.9L541.0,724.8L541.4,726.2L541.8,726.2L542.2,721.2L542.6,721.7L543.0,722.8L543.4,725.0L543.8,726.8L544.2,724.9L544.6,727.4L545.0,723.2L545.4,720.9L545.8,724.6L546.2,724.4L546.6,720.8L547.0,727.2L547.4,722.0L547.8,722.6L548.2,725.1L548.6,721.7L549.0,726.1L549.4,725.5L549.8,725.7L550.2,724.5L550.6,723.2L551.0,722.5L551.4,725.3L551.8,728.0L552.2,726.5L552.6,725.4L553.0,727.0L553.4,727.9L553.8,721.2L554.2,724.3L554.6,727.6L555.0,722.7L555.4,723.2L555.8,726.0L556.2,723.8L556.6,727.5L557.0,723.5L557.4,725.9L557.8,730.9L558.2,727.3L558.6,720.8L559.0,721.6L559.4,721.6L559.8,724.1L560.2,720.6L560.6,725.7L561.0,728.7L561.4,728.2L561.8,722.1L562.2,723.4L562.6,723.3L563.0,721.9L563.4,728.5L563.8,722.2L564.2,721.0L564.6,724.8L565.0,724.7L565.4,727.8L565.8,727.8L566.2,723.3L566.6,718.2L567.0,725.4L567.4,725.7L567.8,728.3L568.2,719.3L568.6,720.4L569.0,727.5L569.4,727.6L569.8,726.7L570.2,723.1L570.6,726.6L571.0,721.6L571.4,719.7L571.8,722.7L572.2,723.1L572.6,724.9L573.0,725.5L573.4,717.8L573.8,723.2L574.2,723.6L574.6,718.8L575.0,721.3L575.4,722.1L575.8,723.0L576.2,719.3L576.6,719.8L577.0,718.2L577.4,722.0L577.8,719.9L578.2,719.0L578.6,722.2L579.0,719.7L579.4,716.5L579.8,722.7L580.2,722.0L580.6,720.1L581.0,715.4L581.4,721.2L581.8,715.7L582.2,711.4L582.6,715.8L583.0,720.8L583.4,713.1L583.8,715.1L584.2,716.3L584.6,710.9L585.0,707.2L585.4,705.7L585.8,704.5L586.2,697.0L586.6,695.0L587.0,690.0L587.4,680.0L587.8,675.5L588.2,665.7L588.6,652.2L589.0,641.0L589.4,629.3L589.8,615.1L590.2,601.4L590.6,585.6L591.0,577.5L591.4,569.9L591.8,563.1L592.2,555.7L592.6,561.8L593.0,567.6L593.4,571.5L593.8,587.6L594.2,598.2L594.6,611.0L595.0,626.4L595.4,637.8L595.8,643.2L596.2,662.0L596.6,667.3L597.0,679.0L597.4,688.7L597.8,691.8L598.2,696.1L598.6,702.1L599.0,706.6L599.4,704.9L599.8,707.8L600.2,713.1L600.6,717.9L601.0,714.2L601.4,717.7L601.8,713.8L602.2,716.7L602.6,717.5L603.0,714.2L603.4,718.2L603.8,718.2L604.2,712.0L604.6,719.1L605.0,720.5L605.4,720.6L605.8,721.1L606.2,717.5L606.6,718.7L607.0,720.4L607.4,718.8L607.8,720.0L608.2,724.6L608.6,719.2L609.0,720.8L609.4,726.7L609.8,721.6L610.2,719.5L610.6,722.9L611.0,722.8L611.4,722.8L611.8,718.2L612.2,723.4L612.6,723.7L613.0,728.1L613.4,724.7L613.8,721.9L614.2,723.9L614.6,724.9L615.0,722.8L615.4,723.2L615.8,726.8L616.2,724.7L616.6,724.8L617.0,721.1L617.4,724.7L617.8,718.8L618.2,726.8L618.6,722.6L619.0,725.4L619.4,727.4L619.8,721.1L620.2,726.9L620.6,724.5L621.0,726.9L621.4,723.1L621.8,722.3L622.2,727.4L622.6,725.2L623.0,724.3L623.4,721.3L623.8,727.5L624.2,723.4L624.6,723.7L625.0,722.5L625.4,724.3L625.8,725.8L626.2,724.2L626.6,724.1L627.0,723.0L627.4,728.1L627.8,728.4L628.2,723.6L628.6,722.2L629.0,725.1L629.4,720.4L629.8,725.0L630.2,725.1L630.6,724.8L631.0,728.4L631.4,729.0L631.8,725.6L632.2,723.6L632.6,727.0L633.0,727.3L633.4,721.5L633.8,722.7L634.2,723.9L634.6,720.4L635.0,721.7L635.4,728.6L635.8,721.4L636.2,726.6L636.6,722.5L637.0,727.0L637.4,725.4L637.8,726.8L638.2,721.1L638.6,725.3L639.0,723.2L639.4,726.5L639.8,726.4L640.2,725.0L640.6,724.3L641.0,724.6L641.4,725.2L641.8,723.3L642.2,723.5L642.6,723.0L643.0,722.0L643.4,727.2L643.8,721.3L644.2,727.8L644.6,726.4L645.0,720.4L645.4,720.1L645.8,724.7L646.2,722.0L646.6,725.0L647.0,727.0L647.4,725.5L647.8,724.1L648.2,724.2L648.6,728.3L649.0,723.7L649.4,728.9L649.8,729.7L650.2,723.7L650.6,725.4L651.0,728.9L651.4,722.9L651.8,725.7L652.2,727.3L652.6,722.1L653.0,725.6L653.4,725.0L653.8,723.4L654.2,728.5L654.6,724.4L655.0,730.4L655.4,726.5L655.8,723.0L656.2,725.4L656.6,722.8L657.0,726.8L657.4,726.4L657.8,721.8L658.2,723.7L658.6,725.9L659.0,724.9L659.4,722.3L659.8,727.4L660.2,728.1L660.6,721.0L661.0,728.3L661.4,719.6L661.8,724.3L662.2,722.9L662.6,723.2L663.0,725.0L663.4,721.7L663.8,724.3L664.2,728.7L664.6,725.6L665.0,728.2L665.4,726.6L665.8,720.4L666.2,728.8L666.6,726.5L667.0,726.0L667.4,723.4L667.8,723.0L668.2,721.7L668.6,723.9L669.0,724.5L669.4,723.8L669.8,723.8L670.2,719.2L670.6,722.1L671.0,722.0L671.4,724.6L671.8,722.7L672.2,722.6L672.6,723.8L673.0,722.3L673.4,722.6L673.8,726.0L674.2,722.6L674.6,720.5L675.0,724.1L675.4,724.3L675.8,723.6L676.2,718.1L676.6,723.6L677.0,720.7L677.4,720.4L677.8,719.6L678.2,719.8L678.6,719.1L679.0,720.9L679.4,716.4L679.8,714.4L680.2,715.3L680.6,711.7L681.0,714.0L681.4,709.7L681.8,710.0L682.2,704.5L682.6,707.7L683.0,705.0L683.4,698.9L683.8,699.0L684.2,699.2L684.6,693.7L685.0,693.6L685.4,697.9L685.8,697.7L686.2,700.3L686.6,692.4L687.0,695.9L687.4,691.5L687.8,704.4L688.2,696.0L688.6,700.8L689.0,709.1L689.4,709.1L689.8,703.4L690.2,714.8L690.6,710.6L691.0,707.6L691.4,712.9L691.8,715.3L692.2,716.5L692.6,709.8L693.0,722.0L693.4,713.4L693.8,718.1L694.2,723.3L694.6,721.2L695.0,720.6L695.4,719.7L695.8,723.2L696.2,725.7L696.6,721.0L697.0,723.8L697.4,722.0L697.8,722.2L698.2,718.2L698.6,724.2L699.0,726.1L699.4,723.5L699.8,726.6L700.2,724.5L700.6,727.2L701.0,724.6L701.4,723.4L701.8,723.2L702.2,724.7L702.6,725.2L703.0,722.6L703.4,724.2L703.8,721.4L704.2,721.4L704.6,726.3L705.0,725.7L705.4,727.0L705.8,725.2L706.2,725.5L706.6,729.4L707.0,722.9L707.4,725.6L707.8,728.8L708.2,730.0L708.6,726.4L709.0,724.8L709.4,722.5L709.8,724.7L710.2,725.4L710.6,725.1L711.0,726.3L711.4,726.5L711.8,724.0L712.2,723.0L712.6,724.4L713.0,726.2L713.4,729.1L713.8,721.2L714.2,727.8L714.6,724.5L715.0,727.8L715.4,729.7L715.8,726.4L716.2,722.4L716.6,724.2L717.0,726.1L717.4,724.4L717.8,725.0L718.2,723.3L718.6,724.7L719.0,723.7L719.4,727.3L719.8,725.9L720.2,727.0L720.6,721.3L721.0,724.1L721.4,723.4L721.8,724.2L722.2,723.1L722.6,723.5L723.0,729.0L723.4,724.6L723.8,722.2L724.2,724.5L724.6,730.6L725.0,726.9L725.4,723.0L725.8,724.6L726.2,725.0L726.6,725.3L727.0,720.8L727.4,722.9L727.8,724.8L728.2,721.1L728.6,724.8L729.0,725.4L729.4,727.1L729.8,727.8L730.2,724.8L730.6,725.7L731.0,726.8L731.4,727.6L731.8,725.4L732.2,723.4L732.6,726.6L733.0,727.2L733.4,725.6L733.8,726.6L734.2,729.0L734.6,724.0L735.0,723.5L735.4,722.6L735.8,726.0L736.2,727.5L736.6,724.0L737.0,729.5L737.4,723.8L737.8,725.8L738.2,724.9L738.6,728.5L739.0,723.7L739.4,729.1L739.8,724.8L740.2,722.0L740.6,723.8L741.0,724.8L741.4,729.2L741.8,724.0L742.2,725.2L742.6,730.1L743.0,725.5L743.4,723.6L743.8,723.4L744.2,721.4L744.6,726.0L745.0,728.0L745.4,724.2L745.8,722.6L746.2,725.7L746.6,725.1L747.0,724.7L747.4,726.1L747.8,725.1L748.2,724.1L748.6,727.4L749.0,720.5L749.4,722.3L749.8,724.3L750.2,721.7L750.6,728.5L751.0,719.6L751.4,726.6L751.8,726.2L752.2,725.6L752.6,725.8L753.0,723.4L753.4,723.0L753.8,728.1L754.2,724.3L754.6,721.1L755.0,721.5L755.4,720.7L755.8,725.0L756.2,727.1L756.6,723.4L757.0,724.4L757.4,722.7L757.8,726.0L758.2,725.8L758.6,725.7L759.0,727.7L759.4,719.9L759.8,724.7L760.2,718.5L760.6,724.0L761.0,723.9L761.4,723.3L761.8,723.2L762.2,720.5L762.6,718.8L763.0,722.1L763.4,718.1L763.8,721.3L764.2,716.9L764.6,719.8L765.0,719.5L765.4,716.4L765.8,717.7L766.2,721.0L766.6,718.7L767.0,720.1L767.4,717.5L767.8,719.5L768.2,715.6L768.6,717.8L769.0,723.4L769.4,721.9L769.8,720.9L770.2,721.5L770.6,718.1L771.0,722.9L771.4,719.1L771.8,720.7L772.2,724.5L772.6,721.2L773.0,722.0L773.4,723.3L773.8,723.9L774.2,727.1L774.6,719.8L775.0,723.1L775.4,725.6L775.8,723.1L776.2,723.4L776.6,722.5L777.0,723.8L777.4,726.1L777.8,727.6L778.2,725.5L778.6,728.0L779.0,725.0L779.4,720.8L779.8,726.6L780.2,720.0L780.6,724.6L781.0,724.8L781.4,722.1L781.8,724.3L782.2,723.5L782.6,725.2L783.0,724.1L783.4,726.3L783.8,723.9L784.2,726.3L784.6,724.9L785.0,725.4L785.4,725.2L785.8,723.7L786.2,727.5L786.6,726.3L787.0,719.5L787.4,722.0L787.8,728.9L788.2,724.2L788.6,731.5L789.0,725.9L789.4,726.0L789.8,723.8L790.2,724.4L790.6,725.3L791.0,727.0L791.4,725.1L791.8,724.8L792.2,722.5L792.6,723.8L793.0,723.9L793.4,724.5L793.8,723.1L794.2,722.2L794.6,724.1L795.0,719.0L795.4,721.2L795.8,722.8L796.2,725.7L796.6,723.1L797.0,722.1L797.4,726.3L797.8,724.3L798.2,727.8L798.6,724.1L799.0,722.9L799.4,723.7L799.8,728.8L800.2,728.2L800.6,724.9L801.0,727.0L801.4,721.3L801.8,727.5L802.2,725.3L802.6,724.3L803.0,724.6L803.4,725.1L803.8,723.5L804.2,723.6L804.6,721.7L805.0,728.2L805.4,722.4L805.8,724.1L806.2,726.9L806.6,727.3L807.0,727.8L807.4,723.1L807.8,723.4L808.2,724.3L808.6,720.1L809.0,726.5L809.4,720.5L809.8,724.1L810.2,726.5L810.6,726.3L811.0,723.3L811.4,726.5L811.8,726.9L812.2,720.4L812.6,723.7L813.0,725.9L813.4,725.4L813.8,723.9L814.2,724.1L814.6,729.8L815.0,723.5L815.4,726.9L815.8,721.5L816.2,725.6L816.6,726.8L817.0,723.4L817.4,722.9L817.8,728.7L818.2,723.8L818.6,726.6L819.0,720.7L819.4,728.0L819.8,719.0L820.2,721.2L820.6,721.7L821.0,722.6L821.4,722.8L821.8,725.9L822.2,726.7L822.6,725.8L823.0,722.9L823.4,721.2L823.8,715.4L824.2,720.6L824.6,719.7L825.0,723.2L825.4,719.6L825.8,720.5L826.2,721.2L826.6,725.1L827.0,724.3L827.4,721.7L827.8,720.3L828.2,723.2L828.6,723.2L829.0,723.6L829.4,725.1L829.8,726.7L830.2,726.9L830.6,723.5L831.0,723.3L831.4,728.8L831.8,724.6L832.2,726.9L832.6,725.7L833.0,726.2L833.4,729.1L833.8,724.8L834.2,728.0L834.6,726.6L835.0,725.1L835.4,724.3L835.8,724.2L836.2,728.2L836.6,727.8L837.0,723.5L837.4,726.5L837.8,721.2L838.2,725.7L838.6,730.4L839.0,722.7L839.4,726.3L839.8,724.1L840.2,725.8L840.6,723.1L841.0,726.1L841.4,720.1L841.8,725.0L842.2,724.9L842.6,725.4L843.0,730.4L843.4,722.9L843.8,724.0L844.2,722.4L844.6,726.8L845.0,725.7L845.4,722.8L845.8,727.9L846.2,726.3L846.6,729.1L847.0,727.5L847.4,725.9L847.8,723.8L848.2,720.5L848.6,724.2L849.0,728.4L849.4,725.1L849.8,723.6L850.2,726.2L850.6,727.4L851.0,732.3L851.4,723.3L851.8,724.8L852.2,722.9L852.6,723.9L853.0,727.9L853.4,725.4L853.8,722.2L854.2,728.9L854.6,729.9L855.0,727.6L855.4,723.3L855.8,723.1L856.2,728.8L856.6,723.3L857.0,724.3L857.4,722.2L857.8,730.3L858.2,724.1L858.6,725.3L859.0,723.9L859.4,724.1L859.8,722.9L860.2,728.3L860.6,724.0L861.0,729.2L861.4,722.6L861.8,726.8L862.2,728.0L862.6,722.9L863.0,726.2L863.4,724.3L863.8,723.0L864.2,724.6L864.6,721.1L865.0,724.9L865.4,721.9L865.8,727.2L866.2,729.3L866.6,729.0L867.0,723.8L867.4,725.3L867.8,730.4L868.2,728.7L868.6,727.1L869.0,720.4L869.4,724.8L869.8,731.0L870.2,726.7L870.6,724.5L871.0,725.8L871.4,731.4L871.8,728.7L872.2,722.4L872.6,722.7L873.0,725.6L873.4,728.6L873.8,723.5L874.2,724.0L874.6,719.0L875.0,723.7L875.4,726.7L875.8,726.7L876.2,721.5L876.6,727.0L877.0,722.9L877.4,721.3L877.8,726.1L878.2,720.6L878.6,723.4L879.0,722.3L879.4,724.1L879.8,724.9L880.2,723.1L880.6,722.0L881.0,722.8L881.4,717.9L881.8,723.6L882.2,729.0L882.6,724.6L883.0,726.6L883.4,723.6L883.8,723.5L884.2,724.6L884.6,725.0L885.0,724.8L885.4,720.9L885.8,723.0L886.2,718.9L886.6,725.4L887.0,722.4L887.4,721.6L887.8,718.8L888.2,723.3L888.6,724.5L889.0,723.1L889.4,724.5L889.8,719.3L890.2,723.7L890.6,721.0L891.0,713.6L891.4,721.4L891.8,717.8L892.2,719.9L892.6,718.3L893.0,717.5L893.4,722.7L893.8,718.1L894.2,719.9L894.6,721.2L895.0,718.0L895.4,715.4L895.8,718.9L896.2,718.2L896.6,715.8L897.0,718.5L897.4,721.6L897.8,720.6L898.2,722.1L898.6,721.5L899.0,717.9L899.4,717.3L899.8,713.9L900.2,720.4L900.6,715.1L901.0,718.3L901.4,721.4L901.8,716.8L902.2,712.0L902.6,713.2L903.0,715.1L903.4,719.9L903.8,715.0L904.2,715.5L904.6,712.6L905.0,716.8L905.4,716.0L905.8,718.1L906.2,712.9L906.6,717.5L907.0,711.5L907.4,713.7L907.8,714.1L908.2,715.1L908.6,716.9L909.0,708.9L909.4,715.6L909.8,714.8L910.2,712.1L910.6,715.2L911.0,717.5L911.4,715.0L911.8,715.0L912.2,718.5L912.6,714.5L913.0,719.8L913.4,718.0L913.8,718.3L914.2,718.9L914.6,720.9L915.0,715.4L915.4,720.9L915.8,715.2L916.2,718.9L916.6,719.6L917.0,718.4L917.4,714.9L917.8,714.6L918.2,714.9L918.6,717.9L919.0,718.5L919.4,719.6L919.8,713.5L920.2,718.6L920.6,720.4L921.0,717.7L921.4,716.9L921.8,718.9L922.2,720.7L922.6,720.0L923.0,719.6L923.4,710.6L923.8,718.2L924.2,712.1L924.6,714.9L925.0,709.6L925.4,711.9L925.8,708.0L926.2,708.1L926.6,714.4L927.0,703.5L927.4,709.7L927.8,706.1L928.2,701.7L928.6,709.0L929.0,704.6L929.4,702.4L929.8,705.2L930.2,701.7L930.6,709.9L931.0,700.2L931.4,703.8L931.8,699.7L932.2,707.8L932.6,710.5L933.0,711.8L933.4,714.8L933.8,710.8L934.2,710.5L934.6,715.8L935.0,712.2L935.4,716.0L935.8,714.6L936.2,714.8L936.6,717.6L937.0,721.8L937.4,721.9L937.8,720.4L938.2,713.5L938.6,721.3L939.0,722.8L939.4,723.7L939.8,720.8L940.2,725.7L940.6,724.3L941.0,718.8L941.4,725.9L941.8,728.4L942.2,725.1L942.6,722.5L943.0,729.3L943.4,727.4L943.8,720.2L944.2,727.7L944.6,726.1L945.0,725.9L945.4,720.7L945.8,721.0L946.2,725.7L946.6,730.1L947.0,725.7L947.4,725.6L947.8,723.8L948.2,724.4L948.6,727.9L949.0,723.4L949.4,730.1L949.8,726.5L950.2,726.1L950.6,725.0L951.0,723.5L951.4,724.7L951.8,721.6L952.2,725.4L952.6,720.5L953.0,730.7L953.4,725.0L953.8,721.3L954.2,725.8L954.6,725.4L955.0,723.7L955.4,725.7L955.8,723.0L956.2,724.7L956.6,724.6L957.0,726.3L957.4,723.6L957.8,725.7L958.2,718.0L958.6,727.7L959.0,725.5L959.4,726.4L959.8,724.4L960.2,727.2L960.6,724.9L961.0,725.6L961.4,725.2L961.8,723.7L962.2,722.8L962.6,726.4L963.0,726.6L963.4,724.9L963.8,728.2L964.2,725.4L964.6,726.3L965.0,727.8L965.4,726.9L965.8,724.6L966.2,722.3L966.6,723.2L967.0,722.4L967.4,727.0L967.8,716.1L968.2,730.1L968.6,722.8L969.0,727.7L969.4,725.8L969.8,726.4L970.2,721.8L970.6,727.6L971.0,724.8L971.4,726.6L971.8,722.6L972.2,724.9L972.6,723.2L973.0,725.7L973.4,726.7L973.8,724.4L974.2,726.0L974.6,726.2L975.0,724.8L975.4,724.2L975.8,720.1L976.2,727.5L976.6,725.3L977.0,724.3L977.4,725.4L977.8,723.6" stroke="#0864C4" stroke-width="4.8" fill="none" stroke-linejoin="round" stroke-linecap="round"/>
<path d="M57.0,857.3L57.4,853.5L57.8,858.9L58.2,862.0L58.6,865.3L59.0,858.6L59.4,853.9L59.8,851.8L60.2,859.9L60.6,864.2L61.0,855.5L61.4,846.0L61.8,846.8L62.2,861.1L62.6,852.8L63.0,841.4L63.4,850.7L63.8,844.2L64.2,847.1L64.6,847.7L65.0,846.2L65.4,853.3L65.8,849.5L66.2,846.3L66.6,851.8L67.0,854.1L67.4,839.5L67.8,847.3L68.2,842.9L68.6,847.4L69.0,840.7L69.4,848.1L69.8,847.5L70.2,845.8L70.6,841.2L71.0,844.8L71.4,840.5L71.8,838.8L72.2,847.7L72.6,839.8L73.0,852.8L73.4,849.9L73.8,834.0L74.2,846.9L74.6,838.8L75.0,845.1L75.4,845.2L75.8,833.5L76.2,843.7L76.6,843.7L77.0,850.8L77.4,838.4L77.8,849.6L78.2,839.0L78.6,843.5L79.0,840.6L79.4,853.9L79.8,848.9L80.2,859.7L80.6,849.4L81.0,850.6L81.4,850.7L81.8,842.3L82.2,845.5L82.6,853.8L83.0,843.7L83.4,847.1L83.8,846.0L84.2,849.7L84.6,844.1L85.0,845.4L85.4,847.7L85.8,847.0L86.2,841.4L86.6,851.7L87.0,839.0L87.4,839.6L87.8,839.2L88.2,852.3L88.6,844.6L89.0,841.2L89.4,840.2L89.8,849.3L90.2,840.8L90.6,839.6L91.0,850.6L91.4,840.2L91.8,845.3L92.2,847.2L92.6,844.7L93.0,847.0L93.4,855.1L93.8,844.4L94.2,840.2L94.6,836.9L95.0,846.4L95.4,845.6L95.8,849.2L96.2,845.0L96.6,845.0L97.0,843.7L97.4,844.9L97.8,848.9L98.2,845.8L98.6,848.6L99.0,859.1L99.4,850.9L99.8,839.1L100.2,858.3L100.6,850.3L101.0,842.9L101.4,853.7L101.8,848.6L102.2,845.0L102.6,844.9L103.0,842.9L103.4,849.0L103.8,854.9L104.2,846.9L104.6,851.3L105.0,859.8L105.4,841.9L105.8,850.5L106.2,847.2L106.6,842.9L107.0,843.1L107.4,849.0L107.8,851.7L108.2,846.1L108.6,849.6L109.0,853.5L109.4,851.1L109.8,854.4L110.2,852.1L110.6,852.3L111.0,860.1L111.4,853.1L111.8,850.3L112.2,853.7L112.6,844.3L113.0,847.7L113.4,854.3L113.8,853.4L114.2,858.8L114.6,849.9L115.0,841.4L115.4,861.2L115.8,856.3L116.2,843.9L116.6,858.0L117.0,850.3L117.4,839.6L117.8,847.7L118.2,847.2L118.6,859.5L119.0,845.7L119.4,848.8L119.8,848.8L120.2,848.2L120.6,845.1L121.0,851.7L121.4,856.8L121.8,854.2L122.2,845.2L122.6,844.0L123.0,851.4L123.4,846.6L123.8,847.1L124.2,841.0L124.6,862.1L125.0,856.2L125.4,845.3L125.8,856.2L126.2,858.8L126.6,837.2L127.0,847.9L127.4,848.9L127.8,854.9L128.2,850.5L128.6,849.9L129.0,850.9L129.4,862.0L129.8,863.9L130.2,848.3L130.6,846.0L131.0,867.1L131.4,845.8L131.8,848.2L132.2,851.8L132.6,854.4L133.0,857.6L133.4,854.0L133.8,846.7L134.2,854.7L134.6,853.3L135.0,862.7L135.4,851.8L135.8,844.2L136.2,845.9L136.6,860.4L137.0,848.9L137.4,839.9L137.8,848.7L138.2,852.2L138.6,859.1L139.0,846.3L139.4,856.1L139.8,856.9L140.2,848.3L140.6,851.3L141.0,862.7L141.4,862.4L141.8,857.5L142.2,854.5L142.6,859.2L143.0,851.8L143.4,852.1L143.8,847.7L144.2,852.8L144.6,852.3L145.0,868.9L145.4,851.7L145.8,860.3L146.2,860.6L146.6,851.9L147.0,859.8L147.4,840.4L147.8,853.6L148.2,858.1L148.6,839.3L149.0,846.5L149.4,859.4L149.8,851.8L150.2,846.9L150.6,851.2L151.0,850.2L151.4,857.6L151.8,856.1L152.2,851.9L152.6,849.7L153.0,853.3L153.4,861.3L153.8,855.7L154.2,857.4L154.6,852.9L155.0,846.3L155.4,849.7L155.8,857.7L156.2,854.5L156.6,848.7L157.0,844.7L157.4,854.7L157.8,852.2L158.2,852.2L158.6,852.3L159.0,856.0L159.4,856.1L159.8,860.0L160.2,859.9L160.6,862.2L161.0,859.3L161.4,852.7L161.8,854.4L162.2,857.6L162.6,853.0L163.0,858.0L163.4,861.6L163.8,850.3L164.2,844.7L164.6,862.0L165.0,855.2L165.4,859.3L165.8,847.5L166.2,865.3L166.6,859.6L167.0,854.6L167.4,853.4L167.8,856.1L168.2,854.6L168.6,854.0L169.0,849.1L169.4,863.0L169.8,855.5L170.2,856.2L170.6,856.4L171.0,842.2L171.4,859.0L171.8,854.1L172.2,854.4L172.6,856.5L173.0,850.5L173.4,861.1L173.8,852.2L174.2,851.1L174.6,851.4L175.0,857.3L175.4,860.8L175.8,853.1L176.2,847.8L176.6,862.8L177.0,850.5L177.4,863.6L177.8,856.5L178.2,852.8L178.6,853.2L179.0,859.6L179.4,862.1L179.8,855.9L180.2,862.6L180.6,869.2L181.0,856.0L181.4,850.6L181.8,851.2L182.2,849.3L182.6,853.7L183.0,853.2L183.4,849.8L183.8,860.6L184.2,842.4L184.6,849.9L185.0,869.3L185.4,863.7L185.8,860.8L186.2,860.5L186.6,868.1L187.0,861.0L187.4,858.4L187.8,850.9L188.2,857.6L188.6,853.8L189.0,854.0L189.4,854.0L189.8,858.0L190.2,856.4L190.6,863.4L191.0,850.7L191.4,857.4L191.8,869.2L192.2,858.7L192.6,865.5L193.0,865.2L193.4,866.3L193.8,862.9L194.2,850.7L194.6,857.2L195.0,856.6L195.4,849.8L195.8,856.2L196.2,851.7L196.6,849.3L197.0,860.2L197.4,858.8L197.8,855.1L198.2,853.6L198.6,856.0L199.0,856.9L199.4,856.8L199.8,858.9L200.2,856.7L200.6,861.5L201.0,862.4L201.4,861.4L201.8,855.5L202.2,855.8L202.6,862.0L203.0,858.3L203.4,859.3L203.8,845.1L204.2,843.9L204.6,861.5L205.0,861.5L205.4,868.1L205.8,864.6L206.2,862.1L206.6,861.2L207.0,853.3L207.4,867.0L207.8,858.8L208.2,865.6L208.6,864.2L209.0,865.0L209.4,869.0L209.8,861.3L210.2,862.3L210.6,860.0L211.0,863.1L211.4,875.3L211.8,863.9L212.2,873.2L212.6,871.5L213.0,871.3L213.4,872.0L213.8,861.8L214.2,870.2L214.6,877.6L215.0,864.7L215.4,868.7L215.8,865.3L216.2,871.5L216.6,863.7L217.0,879.5L217.4,868.3L217.8,861.8L218.2,881.4L218.6,876.9L219.0,874.5L219.4,874.8L219.8,869.8L220.2,870.4L220.6,875.4L221.0,876.0L221.4,875.5L221.8,870.7L222.2,866.2L222.6,867.1L223.0,873.9L223.4,874.9L223.8,863.7L224.2,861.9L224.6,870.7L225.0,866.4L225.4,864.7L225.8,851.4L226.2,854.8L226.6,851.8L227.0,853.3L227.4,839.4L227.8,853.1L228.2,843.7L228.6,840.3L229.0,826.3L229.4,827.7L229.8,829.8L230.2,806.6L230.6,810.6L231.0,805.5L231.4,789.6L231.8,790.3L232.2,775.3L232.6,776.1L233.0,763.9L233.4,754.4L233.8,757.8L234.2,745.0L234.6,743.1L235.0,725.5L235.4,727.2L235.8,736.3L236.2,739.0L236.6,737.3L237.0,747.5L237.4,743.4L237.8,758.2L238.2,758.2L238.6,775.1L239.0,778.6L239.4,785.9L239.8,797.9L240.2,815.7L240.6,806.4L241.0,815.5L241.4,831.2L241.8,828.1L242.2,845.8L242.6,841.2L243.0,844.3L243.4,849.3L243.8,860.3L244.2,856.5L244.6,857.9L245.0,858.2L245.4,849.3L245.8,854.6L246.2,869.4L246.6,866.6L247.0,865.6L247.4,867.1L247.8,860.8L248.2,866.5L248.6,859.8L249.0,867.7L249.4,861.7L249.8,864.9L250.2,869.1L250.6,864.9L251.0,870.9L251.4,870.1L251.8,869.8L252.2,875.7L252.6,859.7L253.0,859.3L253.4,872.3L253.8,874.4L254.2,880.9L254.6,873.8L255.0,874.4L255.4,864.7L255.8,874.4L256.2,874.1L256.6,864.2L257.0,865.3L257.4,870.0L257.8,872.5L258.2,853.9L258.6,871.6L259.0,872.6L259.4,870.4L259.8,873.1L260.2,874.4L260.6,866.0L261.0,874.4L261.4,870.7L261.8,866.8L262.2,873.6L262.6,881.1L263.0,864.1L263.4,863.1L263.8,863.3L264.2,884.4L264.6,871.6L265.0,872.8L265.4,868.7L265.8,867.9L266.2,861.8L266.6,874.6L267.0,875.2L267.4,862.4L267.8,867.9L268.2,869.7L268.6,874.0L269.0,875.6L269.4,880.9L269.8,882.3L270.2,880.7L270.6,882.4L271.0,867.9L271.4,871.6L271.8,881.5L272.2,876.7L272.6,875.2L273.0,863.7L273.4,864.5L273.8,879.6L274.2,877.4L274.6,873.8L275.0,873.2L275.4,865.7L275.8,877.9L276.2,881.9L276.6,885.5L277.0,876.3L277.4,875.0L277.8,869.9L278.2,883.4L278.6,886.3L279.0,872.9L279.4,878.2L279.8,877.2L280.2,873.4L280.6,862.3L281.0,874.8L281.4,880.5L281.8,868.7L282.2,872.3L282.6,858.2L283.0,884.8L283.4,880.3L283.8,877.7L284.2,876.0L284.6,873.9L285.0,877.2L285.4,876.0L285.8,876.4L286.2,877.7L286.6,878.8L287.0,887.1L287.4,869.8L287.8,879.8L288.2,874.7L288.6,871.8L289.0,864.8L289.4,882.1L289.8,872.9L290.2,874.3L290.6,881.5L291.0,872.5L291.4,879.1L291.8,878.5L292.2,883.7L292.6,885.0L293.0,874.2L293.4,884.6L293.8,878.8L294.2,880.2L294.6,878.3L295.0,884.1L295.4,872.6L295.8,881.3L296.2,886.6L296.6,878.3L297.0,891.7L297.4,875.8L297.8,881.4L298.2,877.4L298.6,876.7L299.0,873.9L299.4,877.3L299.8,880.2L300.2,875.9L300.6,885.8L301.0,889.5L301.4,871.9L301.8,885.7L302.2,882.0L302.6,882.4L303.0,895.4L303.4,888.2L303.8,883.2L304.2,882.4L304.6,868.9L305.0,886.0L305.4,877.2L305.8,882.5L306.2,882.1L306.6,887.1L307.0,893.3L307.4,887.2L307.8,888.9L308.2,880.1L308.6,884.1L309.0,885.9L309.4,873.1L309.8,893.3L310.2,877.3L310.6,874.0L311.0,890.9L311.4,893.7L311.8,877.3L312.2,877.8L312.6,899.4L313.0,882.0L313.4,869.8L313.8,877.8L314.2,892.9L314.6,885.1L315.0,885.7L315.4,888.4L315.8,885.2L316.2,879.4L316.6,872.0L317.0,883.9L317.4,874.8L317.8,880.9L318.2,891.4L318.6,884.4L319.0,881.6L319.4,881.6L319.8,885.4L320.2,886.5L320.6,873.5L321.0,882.2L321.4,891.1L321.8,885.5L322.2,876.7L322.6,877.2L323.0,869.1L323.4,876.5L323.8,890.4L324.2,880.7L324.6,876.1L325.0,877.7L325.4,880.4L325.8,880.4L326.2,879.0L326.6,876.5L327.0,884.7L327.4,889.9L327.8,877.7L328.2,877.8L328.6,887.8L329.0,872.4L329.4,877.5L329.8,878.7L330.2,881.9L330.6,879.3L331.0,875.7L331.4,882.6L331.8,873.9L332.2,870.7L332.6,869.0L333.0,885.1L333.4,870.7L333.8,883.3L334.2,884.6L334.6,885.4L335.0,879.7L335.4,877.5L335.8,881.2L336.2,877.2L336.6,873.2L337.0,887.9L337.4,875.4L337.8,891.0L338.2,883.5L338.6,877.9L339.0,883.1L339.4,887.6L339.8,872.5L340.2,875.1L340.6,874.3L341.0,881.4L341.4,882.7L341.8,880.5L342.2,876.1L342.6,877.3L343.0,887.2L343.4,886.7L343.8,881.0L344.2,872.6L344.6,883.8L345.0,881.8L345.4,881.6L345.8,890.1L346.2,884.8L346.6,874.4L347.0,874.4L347.4,888.0L347.8,881.1L348.2,885.1L348.6,879.3L349.0,874.3L349.4,881.7L349.8,889.2L350.2,882.0L350.6,873.5L351.0,878.2L351.4,877.1L351.8,881.0L352.2,885.8L352.6,891.3L353.0,881.2L353.4,877.3L353.8,880.2L354.2,879.8L354.6,877.2L355.0,879.7L355.4,879.4L355.8,872.5L356.2,882.4L356.6,877.0L357.0,873.2L357.4,881.6L357.8,875.7L358.2,888.4L358.6,880.8L359.0,878.2L359.4,873.1L359.8,874.8L360.2,881.7L360.6,872.3L361.0,880.3L361.4,863.2L361.8,875.9L362.2,878.9L362.6,875.5L363.0,872.7L363.4,877.8L363.8,866.1L364.2,864.5L364.6,869.8L365.0,875.1L365.4,869.5L365.8,864.7L366.2,866.3L366.6,865.8L367.0,854.7L367.4,844.2L367.8,853.0L368.2,848.8L368.6,852.6L369.0,847.4L369.4,847.7L369.8,853.7L370.2,850.2L370.6,847.9L371.0,856.2L371.4,842.4L371.8,841.5L372.2,849.8L372.6,834.8L373.0,830.7L373.4,846.8L373.8,840.5L374.2,841.4L374.6,841.2L375.0,842.5L375.4,834.6L375.8,837.0L376.2,831.4L376.6,839.2L377.0,840.5L377.4,837.4L377.8,844.9L378.2,859.4L378.6,836.8L379.0,849.7L379.4,851.8L379.8,854.0L380.2,844.7L380.6,857.9L381.0,856.4L381.4,853.5L381.8,853.8L382.2,858.8L382.6,864.3L383.0,865.5L383.4,875.1L383.8,861.2L384.2,868.2L384.6,863.4L385.0,871.6L385.4,869.0L385.8,865.8L386.2,862.6L386.6,866.7L387.0,873.5L387.4,881.4L387.8,878.1L388.2,867.3L388.6,872.0L389.0,875.6L389.4,875.1L389.8,876.6L390.2,881.1L390.6,878.1L391.0,873.2L391.4,866.2L391.8,875.7L392.2,868.1L392.6,877.1L393.0,880.0L393.4,870.5L393.8,877.5L394.2,876.4L394.6,889.5L395.0,881.1L395.4,867.6L395.8,881.1L396.2,881.0L396.6,877.5L397.0,876.5L397.4,882.2L397.8,882.6L398.2,881.3L398.6,873.0L399.0,877.3L399.4,869.8L399.8,870.1L400.2,875.6L400.6,872.7L401.0,876.5L401.4,893.2L401.8,881.7L402.2,873.7L402.6,866.3L403.0,874.0L403.4,870.5L403.8,866.1L404.2,883.0L404.6,876.0L405.0,881.3L405.4,896.6L405.8,880.3L406.2,879.4L406.6,880.7L407.0,877.1L407.4,873.8L407.8,877.3L408.2,885.1L408.6,876.8L409.0,870.4L409.4,871.0L409.8,872.2L410.2,878.1L410.6,880.8L411.0,880.6L411.4,884.6L411.8,876.4L412.2,882.3L412.6,879.2L413.0,881.3L413.4,866.3L413.8,884.1L414.2,867.7L414.6,869.9L415.0,880.7L415.4,873.7L415.8,885.9L416.2,876.3L416.6,869.1L417.0,875.6L417.4,872.0L417.8,883.0L418.2,883.0L418.6,877.4L419.0,870.4L419.4,872.8L419.8,878.0L420.2,866.8L420.6,866.4L421.0,875.4L421.4,874.3L421.8,868.2L422.2,867.5L422.6,857.3L423.0,875.0L423.4,867.0L423.8,858.9L424.2,860.2L424.6,861.2L425.0,875.8L425.4,869.6L425.8,857.5L426.2,875.6L426.6,872.4L427.0,858.2L427.4,848.7L427.8,869.5L428.2,860.3L428.6,862.9L429.0,860.6L429.4,870.9L429.8,872.2L430.2,868.4L430.6,863.0L431.0,865.5L431.4,867.8L431.8,855.4L432.2,872.0L432.6,863.3L433.0,867.0L433.4,866.7L433.8,871.6L434.2,872.9L434.6,880.0L435.0,865.7L435.4,863.0L435.8,869.5L436.2,865.5L436.6,874.8L437.0,865.7L437.4,871.6L437.8,876.9L438.2,877.8L438.6,873.6L439.0,881.2L439.4,880.9L439.8,864.1L440.2,876.5L440.6,876.0L441.0,873.7L441.4,872.2L441.8,876.5L442.2,878.9L442.6,878.7L443.0,885.4L443.4,883.6L443.8,874.8L444.2,874.1L444.6,883.8L445.0,875.1L445.4,880.4L445.8,882.5L446.2,885.9L446.6,883.2L447.0,888.8L447.4,878.0L447.8,884.7L448.2,877.2L448.6,882.3L449.0,882.1L449.4,876.2L449.8,866.6L450.2,887.4L450.6,884.1L451.0,882.9L451.4,878.1L451.8,880.3L452.2,885.0L452.6,882.6L453.0,889.3L453.4,883.3L453.8,877.9L454.2,886.3L454.6,879.2L455.0,884.1L455.4,872.4L455.8,881.0L456.2,886.3L456.6,879.3L457.0,882.9L457.4,886.5L457.8,883.5L458.2,893.5L458.6,881.7L459.0,882.1L459.4,882.3L459.8,871.7L460.2,874.3L460.6,886.3L461.0,881.3L461.4,891.3L461.8,882.8L462.2,882.3L462.6,889.3L463.0,884.9L463.4,892.6L463.8,877.2L464.2,885.9L464.6,887.3L465.0,886.6L465.4,890.0L465.8,889.3L466.2,883.6L466.6,880.2L467.0,889.1L467.4,883.7L467.8,889.0L468.2,891.3L468.6,884.7L469.0,878.3L469.4,882.1L469.8,888.2L470.2,882.2L470.6,890.5L471.0,883.9L471.4,884.5L471.8,880.1L472.2,883.1L472.6,890.1L473.0,881.7L473.4,881.8L473.8,879.2L474.2,888.2L474.6,874.8L475.0,879.8L475.4,888.9L475.8,891.8L476.2,882.3L476.6,889.1L477.0,872.0L477.4,887.9L477.8,885.2L478.2,876.4L478.6,873.2L479.0,880.5L479.4,884.9L479.8,885.6L480.2,884.1L480.6,887.9L481.0,887.4L481.4,875.3L481.8,881.1L482.2,880.4L482.6,889.3L483.0,880.4L483.4,889.1L483.8,883.8L484.2,896.8L484.6,882.9L485.0,883.2L485.4,882.5L485.8,884.0L486.2,897.2L486.6,880.1L487.0,878.0L487.4,881.8L487.8,886.8L488.2,877.2L488.6,887.5L489.0,887.2L489.4,881.8L489.8,881.2L490.2,878.0L490.6,880.9L491.0,877.7L491.4,889.5L491.8,891.6L492.2,880.4L492.6,881.7L493.0,870.8L493.4,878.5L493.8,883.4L494.2,882.8L494.6,881.7L495.0,885.6L495.4,881.0L495.8,877.9L496.2,889.0L496.6,868.3L497.0,872.2L497.4,874.2L497.8,873.7L498.2,872.8L498.6,875.4L499.0,871.9L499.4,874.9L499.8,877.9L500.2,873.8L500.6,873.5L501.0,866.4L501.4,864.3L501.8,868.2L502.2,874.1L502.6,869.9L503.0,872.9L503.4,871.2L503.8,870.7L504.2,858.4L504.6,869.1L505.0,865.1L505.4,871.6L505.8,861.9L506.2,859.3L506.6,855.7L507.0,856.4L507.4,845.1L507.8,852.4L508.2,853.0L508.6,858.4L509.0,848.5L509.4,852.8L509.8,862.4L510.2,848.9L510.6,856.9L511.0,849.3L511.4,852.3L511.8,856.1L512.2,859.3L512.6,852.2L513.0,850.1L513.4,865.7L513.8,859.1L514.2,863.7L514.6,865.6L515.0,865.9L515.4,861.3L515.8,863.2L516.2,856.3L516.6,867.5L517.0,865.0L517.4,868.7L517.8,880.7L518.2,875.1L518.6,872.5L519.0,865.4L519.4,878.4L519.8,883.9L520.2,871.3L520.6,879.3L521.0,874.7L521.4,877.5L521.8,877.0L522.2,870.5L522.6,877.4L523.0,871.6L523.4,889.2L523.8,887.7L524.2,882.4L524.6,884.2L525.0,883.3L525.4,884.4L525.8,884.6L526.2,882.4L526.6,883.1L527.0,876.6L527.4,878.7L527.8,881.2L528.2,886.0L528.6,882.8L529.0,895.9L529.4,884.1L529.8,883.3L530.2,887.9L530.6,891.4L531.0,896.2L531.4,891.3L531.8,882.4L532.2,884.9L532.6,891.9L533.0,887.5L533.4,890.6L533.8,885.7L534.2,895.3L534.6,894.5L535.0,892.8L535.4,887.3L535.8,877.3L536.2,878.9L536.6,888.4L537.0,890.4L537.4,870.2L537.8,884.1L538.2,893.3L538.6,892.3L539.0,884.1L539.4,890.6L539.8,887.2L540.2,885.8L540.6,893.4L541.0,893.6L541.4,884.2L541.8,881.9L542.2,879.9L542.6,879.3L543.0,894.9L543.4,898.0L543.8,888.7L544.2,893.5L544.6,883.7L545.0,887.2L545.4,892.8L545.8,889.4L546.2,887.5L546.6,878.3L547.0,879.5L547.4,885.4L547.8,884.7L548.2,887.4L548.6,884.2L549.0,886.6L549.4,888.2L549.8,890.8L550.2,888.3L550.6,884.9L551.0,886.4L551.4,893.1L551.8,886.9L552.2,882.6L552.6,882.4L553.0,889.7L553.4,891.3L553.8,895.0L554.2,886.3L554.6,895.9L555.0,886.2L555.4,886.9L555.8,885.0L556.2,891.2L556.6,894.2L557.0,888.1L557.4,885.4L557.8,879.6L558.2,889.1L558.6,886.4L559.0,887.2L559.4,884.8L559.8,883.4L560.2,886.0L560.6,890.9L561.0,893.8L561.4,888.4L561.8,890.3L562.2,887.4L562.6,887.8L563.0,880.8L563.4,893.5L563.8,891.9L564.2,896.8L564.6,885.1L565.0,889.3L565.4,883.4L565.8,890.0L566.2,888.0L566.6,892.5L567.0,887.9L567.4,892.3L567.8,886.0L568.2,892.1L568.6,887.1L569.0,886.3L569.4,889.3L569.8,890.9L570.2,880.9L570.6,880.4L571.0,890.0L571.4,888.6L571.8,877.5L572.2,879.4L572.6,884.7L573.0,890.8L573.4,890.2L573.8,894.7L574.2,895.6L574.6,902.4L575.0,881.0L575.4,888.9L575.8,895.1L576.2,882.1L576.6,881.2L577.0,890.3L577.4,895.4L577.8,896.3L578.2,879.2L578.6,882.4L579.0,888.7L579.4,886.3L579.8,891.1L580.2,890.1L580.6,899.2L581.0,889.0L581.4,890.4L581.8,889.8L582.2,895.6L582.6,883.2L583.0,891.6L583.4,885.1L583.8,881.5L584.2,896.2L584.6,892.5L585.0,897.4L585.4,891.0L585.8,893.3L586.2,890.4L586.6,892.9L587.0,887.3L587.4,899.3L587.8,884.7L588.2,899.4L588.6,888.6L589.0,894.7L589.4,890.6L589.8,892.4L590.2,898.3L590.6,890.7L591.0,884.6L591.4,891.3L591.8,893.6L592.2,876.1L592.6,895.5L593.0,896.2L593.4,880.0L593.8,889.1L594.2,894.7L594.6,883.5L595.0,887.7L595.4,888.1L595.8,893.3L596.2,896.4L596.6,889.9L597.0,890.5L597.4,895.4L597.8,893.2L598.2,889.6L598.6,897.8L599.0,882.1L599.4,891.1L599.8,887.8L600.2,887.4L600.6,891.4L601.0,890.5L601.4,904.3L601.8,894.0L602.2,892.3L602.6,899.7L603.0,896.1L603.4,879.7L603.8,891.0L604.2,894.6L604.6,886.9L605.0,892.1L605.4,887.8L605.8,892.5L606.2,881.1L606.6,879.3L607.0,887.3L607.4,891.7L607.8,898.0L608.2,888.8L608.6,886.1L609.0,895.7L609.4,890.6L609.8,900.7L610.2,889.9L610.6,879.3L611.0,885.9L611.4,885.0L611.8,882.5L612.2,886.0L612.6,886.5L613.0,888.8L613.4,887.3L613.8,892.8L614.2,892.8L614.6,891.5L615.0,891.6L615.4,879.5L615.8,880.6L616.2,884.9L616.6,891.2L617.0,881.2L617.4,887.0L617.8,890.7L618.2,900.4L618.6,890.4L619.0,885.6L619.4,894.8L619.8,889.5L620.2,886.5L620.6,894.5L621.0,882.8L621.4,889.1L621.8,888.4L622.2,893.0L622.6,881.2L623.0,880.3L623.4,885.4L623.8,885.9L624.2,887.7L624.6,885.2L625.0,889.7L625.4,891.1L625.8,888.3L626.2,880.9L626.6,893.5L627.0,877.9L627.4,885.4L627.8,891.5L628.2,882.7L628.6,893.5L629.0,896.9L629.4,894.8L629.8,888.0L630.2,890.9L630.6,882.0L631.0,887.0L631.4,887.0L631.8,884.6L632.2,884.6L632.6,882.2L633.0,871.7L633.4,884.8L633.8,883.9L634.2,893.4L634.6,885.1L635.0,880.8L635.4,884.9L635.8,882.8L636.2,878.4L636.6,875.6L637.0,868.6L637.4,876.9L637.8,884.8L638.2,863.8L638.6,868.2L639.0,877.2L639.4,873.0L639.8,873.4L640.2,859.3L640.6,865.7L641.0,871.1L641.4,870.6L641.8,868.0L642.2,860.3L642.6,867.7L643.0,856.9L643.4,857.6L643.8,855.6L644.2,870.0L644.6,858.7L645.0,860.9L645.4,847.5L645.8,866.2L646.2,862.4L646.6,850.1L647.0,850.3L647.4,869.3L647.8,854.5L648.2,870.9L648.6,858.0L649.0,846.8L649.4,868.1L649.8,865.3L650.2,867.0L650.6,860.8L651.0,863.3L651.4,870.9L651.8,861.4L652.2,855.7L652.6,873.2L653.0,865.2L653.4,877.0L653.8,867.7L654.2,868.8L654.6,870.7L655.0,859.3L655.4,880.5L655.8,870.8L656.2,874.0L656.6,884.3L657.0,877.1L657.4,882.2L657.8,879.6L658.2,882.6L658.6,880.3L659.0,885.8L659.4,878.3L659.8,882.6L660.2,876.2L660.6,887.5L661.0,868.3L661.4,882.3L661.8,883.5L662.2,883.6L662.6,881.8L663.0,889.8L663.4,894.4L663.8,878.9L664.2,871.4L664.6,876.2L665.0,877.9L665.4,881.9L665.8,882.5L666.2,889.2L666.6,880.5L667.0,882.9L667.4,883.8L667.8,878.1L668.2,881.5L668.6,899.3L669.0,882.9L669.4,877.9L669.8,870.9L670.2,889.5L670.6,881.7L671.0,879.9L671.4,897.8L671.8,891.9L672.2,873.7L672.6,881.7L673.0,889.5L673.4,888.6L673.8,877.3L674.2,894.0L674.6,894.5L675.0,877.3L675.4,873.5L675.8,875.7L676.2,887.7L676.6,890.0L677.0,884.9L677.4,880.3L677.8,883.2L678.2,887.1L678.6,876.7L679.0,873.9L679.4,883.3L679.8,890.9L680.2,884.8L680.6,884.8L681.0,879.8L681.4,889.0L681.8,873.7L682.2,883.2L682.6,880.1L683.0,882.7L683.4,878.1L683.8,887.8L684.2,882.9L684.6,879.9L685.0,886.2L685.4,882.9L685.8,880.1L686.2,879.6L686.6,887.4L687.0,877.3L687.4,881.3L687.8,880.9L688.2,884.2L688.6,881.0L689.0,894.5L689.4,871.6L689.8,885.0L690.2,881.1L690.6,887.4L691.0,871.3L691.4,887.4L691.8,872.0L692.2,883.7L692.6,882.2L693.0,879.0L693.4,874.0L693.8,873.1L694.2,877.8L694.6,872.3L695.0,864.7L695.4,864.9L695.8,879.3L696.2,878.7L696.6,876.1L697.0,872.6L697.4,873.7L697.8,873.4L698.2,871.1L698.6,864.1L699.0,863.4L699.4,860.0L699.8,866.5L700.2,858.8L700.6,862.5L701.0,870.0L701.4,859.0L701.8,865.7L702.2,868.0L702.6,847.2L703.0,848.4L703.4,858.3L703.8,850.4L704.2,856.6L704.6,856.6L705.0,848.5L705.4,855.3L705.8,859.8L706.2,854.4L706.6,843.1L707.0,846.7L707.4,843.9L707.8,855.7L708.2,845.1L708.6,842.0L709.0,846.1L709.4,848.8L709.8,843.7L710.2,846.7L710.6,846.4L711.0,851.1L711.4,853.0L711.8,849.6L712.2,846.0L712.6,851.8L713.0,845.1L713.4,857.4L713.8,854.2L714.2,854.6L714.6,840.2L715.0,869.0L715.4,864.9L715.8,864.9L716.2,859.4L716.6,863.7L717.0,877.6L717.4,858.2L717.8,867.6L718.2,867.9L718.6,866.4L719.0,868.7L719.4,862.0L719.8,872.5L720.2,862.1L720.6,881.3L721.0,876.3L721.4,867.6L721.8,861.2L722.2,874.8L722.6,877.9L723.0,870.0L723.4,886.2L723.8,878.7L724.2,875.0L724.6,870.2L725.0,878.2L725.4,878.2L725.8,883.7L726.2,886.4L726.6,880.9L727.0,883.8L727.4,889.8L727.8,885.4L728.2,880.6L728.6,886.0L729.0,879.6L729.4,885.5L729.8,883.4L730.2,877.0L730.6,887.0L731.0,884.2L731.4,888.1L731.8,876.3L732.2,890.5L732.6,890.9L733.0,882.3L733.4,883.8L733.8,884.8L734.2,884.4L734.6,889.4L735.0,880.5L735.4,878.0L735.8,883.3L736.2,895.7L736.6,882.5L737.0,879.0L737.4,879.4L737.8,885.7L738.2,891.6L738.6,880.5L739.0,885.8L739.4,886.0L739.8,887.5L740.2,885.6L740.6,890.9L741.0,888.8L741.4,881.2L741.8,898.9L742.2,876.9L742.6,877.1L743.0,890.8L743.4,885.9L743.8,883.3L744.2,885.9L744.6,888.8L745.0,882.3L745.4,881.1L745.8,878.7L746.2,879.7L746.6,880.1L747.0,891.4L747.4,886.3L747.8,887.8L748.2,881.4L748.6,890.8L749.0,875.6L749.4,887.4L749.8,888.7L750.2,881.3L750.6,878.7L751.0,887.6L751.4,880.5L751.8,879.4L752.2,884.4L752.6,878.0L753.0,883.7L753.4,896.3L753.8,882.0L754.2,889.7L754.6,878.4L755.0,884.9L755.4,882.9L755.8,883.5L756.2,888.8L756.6,896.9L757.0,883.6L757.4,891.9L757.8,886.4L758.2,888.6L758.6,881.6L759.0,880.2L759.4,883.1L759.8,879.8L760.2,884.2L760.6,878.1L761.0,884.3L761.4,885.2L761.8,894.7L762.2,894.2L762.6,887.1L763.0,881.2L763.4,887.7L763.8,888.9L764.2,883.0L764.6,879.2L765.0,873.7L765.4,883.8L765.8,895.2L766.2,882.8L766.6,886.3L767.0,886.1L767.4,886.8L767.8,888.5L768.2,872.3L768.6,883.1L769.0,886.1L769.4,883.4L769.8,891.0L770.2,881.7L770.6,889.2L771.0,894.1L771.4,882.4L771.8,884.0L772.2,882.1L772.6,888.3L773.0,871.4L773.4,875.3L773.8,882.1L774.2,888.8L774.6,887.2L775.0,879.0L775.4,893.1L775.8,884.4L776.2,880.1L776.6,886.8L777.0,891.3L777.4,883.3L777.8,874.9L778.2,880.5L778.6,884.2L779.0,889.1L779.4,877.8L779.8,885.1L780.2,876.7L780.6,884.0L781.0,875.8L781.4,880.8L781.8,874.7L782.2,877.8L782.6,874.2L783.0,872.0L783.4,890.5L783.8,890.3L784.2,886.2L784.6,881.3L785.0,891.9L785.4,881.7L785.8,885.8L786.2,889.9L786.6,884.6L787.0,891.9L787.4,882.5L787.8,882.4L788.2,884.0L788.6,876.6L789.0,877.0L789.4,887.7L789.8,873.2L790.2,889.8L790.6,884.8L791.0,890.1L791.4,887.6L791.8,886.6L792.2,893.1L792.6,882.5L793.0,882.3L793.4,889.4L793.8,879.0L794.2,889.4L794.6,886.7L795.0,879.7L795.4,875.2L795.8,870.8L796.2,893.4L796.6,873.8L797.0,875.4L797.4,887.3L797.8,885.0L798.2,883.4L798.6,882.6L799.0,879.6L799.4,876.6L799.8,877.6L800.2,885.3L800.6,888.1L801.0,888.6L801.4,881.5L801.8,868.6L802.2,884.5L802.6,880.6L803.0,865.8L803.4,889.4L803.8,882.6L804.2,881.0L804.6,882.4L805.0,881.9L805.4,882.5L805.8,881.8L806.2,881.2L806.6,884.3L807.0,883.0L807.4,894.9L807.8,881.7L808.2,877.8L808.6,877.3L809.0,883.0L809.4,881.4L809.8,882.1L810.2,879.4L810.6,879.5L811.0,884.9L811.4,888.4L811.8,882.4L812.2,879.7L812.6,873.5L813.0,873.5L813.4,880.4L813.8,878.6L814.2,879.4L814.6,873.5L815.0,879.1L815.4,868.5L815.8,872.8L816.2,875.0L816.6,883.0L817.0,875.9L817.4,873.9L817.8,880.9L818.2,878.7L818.6,884.5L819.0,881.0L819.4,880.3L819.8,877.9L820.2,882.7L820.6,874.6L821.0,869.9L821.4,883.9L821.8,875.9L822.2,878.8L822.6,882.1L823.0,884.3L823.4,861.5L823.8,872.2L824.2,885.4L824.6,868.3L825.0,880.9L825.4,875.9L825.8,872.8L826.2,877.2L826.6,868.0L827.0,880.2L827.4,884.6L827.8,869.4L828.2,873.8L828.6,884.6L829.0,879.7L829.4,875.6L829.8,885.8L830.2,867.6L830.6,875.7L831.0,877.8L831.4,875.3L831.8,881.8L832.2,867.3L832.6,877.3L833.0,872.4L833.4,883.9L833.8,882.9L834.2,872.5L834.6,870.3L835.0,876.4L835.4,871.6L835.8,873.2L836.2,879.0L836.6,873.8L837.0,887.0L837.4,876.7L837.8,873.2L838.2,869.7L838.6,873.1L839.0,882.5L839.4,879.2L839.8,884.3L840.2,883.6L840.6,879.1L841.0,871.8L841.4,874.9L841.8,876.1L842.2,866.0L842.6,877.5L843.0,869.5L843.4,875.0L843.8,872.4L844.2,878.8L844.6,890.6L845.0,868.3L845.4,875.1L845.8,887.1L846.2,869.7L846.6,873.7L847.0,874.4L847.4,876.8L847.8,865.5L848.2,876.6L848.6,878.3L849.0,889.6L849.4,874.2L849.8,871.3L850.2,875.4L850.6,859.3L851.0,876.4L851.4,883.5L851.8,874.2L852.2,874.1L852.6,872.9L853.0,875.0L853.4,866.9L853.8,883.1L854.2,871.4L854.6,871.4L855.0,883.6L855.4,874.1L855.8,871.5L856.2,883.6L856.6,875.1L857.0,879.5L857.4,870.7L857.8,863.7L858.2,875.1L858.6,882.4L859.0,871.4L859.4,876.2L859.8,878.3L860.2,875.6L860.6,874.5L861.0,878.6L861.4,875.3L861.8,871.0L862.2,880.3L862.6,878.8L863.0,876.3L863.4,878.3L863.8,858.8L864.2,875.7L864.6,874.4L865.0,862.6L865.4,886.2L865.8,876.2L866.2,871.6L866.6,872.0L867.0,875.7L867.4,874.1L867.8,864.8L868.2,871.8L868.6,876.8L869.0,877.8L869.4,879.2L869.8,868.0L870.2,870.5L870.6,876.4L871.0,870.7L871.4,875.5L871.8,869.4L872.2,877.7L872.6,874.6L873.0,877.7L873.4,874.5L873.8,869.7L874.2,867.2L874.6,874.6L875.0,870.8L875.4,865.7L875.8,871.1L876.2,878.9L876.6,881.6L877.0,878.8L877.4,882.3L877.8,872.2L878.2,873.5L878.6,868.8L879.0,869.9L879.4,883.8L879.8,877.0L880.2,878.2L880.6,889.6L881.0,885.7L881.4,869.4L881.8,880.2L882.2,870.1L882.6,880.2L883.0,863.5L883.4,869.0L883.8,869.1L884.2,886.2L884.6,864.1L885.0,881.0L885.4,880.8L885.8,875.2L886.2,879.4L886.6,889.7L887.0,876.2L887.4,873.3L887.8,882.9L888.2,879.7L888.6,868.5L889.0,876.4L889.4,877.1L889.8,868.9L890.2,870.1L890.6,871.9L891.0,868.9L891.4,879.0L891.8,877.9L892.2,863.2L892.6,873.9L893.0,877.4L893.4,868.6L893.8,875.0L894.2,878.5L894.6,866.9L895.0,875.2L895.4,863.2L895.8,881.6L896.2,873.0L896.6,868.8L897.0,866.6L897.4,867.9L897.8,885.2L898.2,872.8L898.6,874.5L899.0,875.6L899.4,869.2L899.8,882.6L900.2,863.5L900.6,883.6L901.0,874.0L901.4,878.8L901.8,880.4L902.2,883.7L902.6,871.5L903.0,882.5L903.4,878.7L903.8,878.2L904.2,877.6L904.6,886.0L905.0,882.3L905.4,887.1L905.8,885.1L906.2,868.1L906.6,879.3L907.0,886.0L907.4,874.8L907.8,870.3L908.2,866.8L908.6,892.2L909.0,875.1L909.4,881.7L909.8,874.5L910.2,883.4L910.6,890.8L911.0,872.6L911.4,880.9L911.8,876.9L912.2,870.4L912.6,876.3L913.0,881.9L913.4,889.2L913.8,889.5L914.2,882.0L914.6,872.4L915.0,886.2L915.4,882.4L915.8,882.5L916.2,875.9L916.6,881.9L917.0,894.6L917.4,891.9L917.8,890.7L918.2,887.2L918.6,881.0L919.0,883.5L919.4,884.5L919.8,886.1L920.2,881.8L920.6,878.8L921.0,890.7L921.4,882.0L921.8,889.3L922.2,883.4L922.6,888.6L923.0,887.7L923.4,889.2L923.8,889.0L924.2,879.4L924.6,877.0L925.0,884.8L925.4,894.9L925.8,880.2L926.2,879.7L926.6,898.7L927.0,876.1L927.4,881.9L927.8,882.9L928.2,881.4L928.6,881.6L929.0,891.9L929.4,886.7L929.8,886.6L930.2,875.8L930.6,890.3L931.0,886.6L931.4,886.6L931.8,890.6L932.2,887.7L932.6,885.7L933.0,888.4L933.4,881.7L933.8,880.6L934.2,878.0L934.6,891.8L935.0,882.2L935.4,887.2L935.8,892.7L936.2,896.9L936.6,884.1L937.0,887.3L937.4,886.9L937.8,878.7L938.2,883.6L938.6,903.0L939.0,886.1L939.4,897.0L939.8,891.1L940.2,897.0L940.6,894.5L941.0,888.0L941.4,879.4L941.8,895.3L942.2,891.0L942.6,889.7L943.0,892.0L943.4,882.3L943.8,887.7L944.2,887.0L944.6,878.3L945.0,880.0L945.4,886.4L945.8,874.1L946.2,891.6L946.6,891.8L947.0,886.8L947.4,889.0L947.8,876.6L948.2,888.4L948.6,891.9L949.0,890.4L949.4,892.9L949.8,887.1L950.2,899.3L950.6,890.2L951.0,892.3L951.4,894.1L951.8,883.2L952.2,881.1L952.6,892.4L953.0,880.4L953.4,884.3L953.8,893.7L954.2,881.5L954.6,882.2L955.0,880.7L955.4,881.9L955.8,899.2L956.2,891.4L956.6,893.9L957.0,876.8L957.4,874.1L957.8,881.5L958.2,894.5L958.6,895.3L959.0,876.7L959.4,878.1L959.8,892.3L960.2,890.0L960.6,891.1L961.0,892.5L961.4,882.6L961.8,889.4L962.2,887.0L962.6,896.0L963.0,886.9L963.4,877.6L963.8,896.3L964.2,899.5L964.6,894.6L965.0,887.0L965.4,883.4L965.8,894.9L966.2,885.9L966.6,892.2L967.0,893.7L967.4,888.4L967.8,877.4L968.2,892.2L968.6,883.3L969.0,880.1L969.4,889.1L969.8,890.2L970.2,888.9L970.6,893.2L971.0,878.2L971.4,893.0L971.8,899.2L972.2,889.1L972.6,886.7L973.0,888.7L973.4,897.0L973.8,888.7L974.2,885.1L974.6,879.8L975.0,898.2L975.4,898.4L975.8,890.0L976.2,902.3L976.6,887.7L977.0,894.4L977.4,882.4L977.8,884.3L978.2,890.2L978.6,893.1L979.0,894.0L979.4,885.1L979.8,887.3L980.2,889.8L980.6,888.9L981.0,889.0L981.4,895.4L981.8,897.5L982.2,879.8L982.6,898.5L983.0,891.8L983.4,892.8L983.8,892.9L984.2,896.4L984.6,895.1L985.0,882.0L985.4,896.2L985.8,884.5L986.2,893.4L986.6,892.5L987.0,882.1L987.4,891.4L987.8,889.8L988.2,887.4L988.6,903.4L989.0,892.4L989.4,889.3L989.8,901.8L990.2,891.4L990.6,890.8L991.0,879.8L991.4,895.2L991.8,897.6L992.2,903.0L992.6,885.8L993.0,898.0L993.4,900.2L993.8,896.2" stroke="#8CBEDC" stroke-width="4.6" fill="none" stroke-linejoin="round" stroke-linecap="round"/>
<rect x="57" y="6.5" width="937" height="937.5" fill="none" stroke="#000" stroke-width="3"/>
<path d="M112.12,944V936.00M112.12,6.5V14.50M167.25,944V928.00M167.25,6.5V22.50M222.38,944V936.00M222.38,6.5V14.50M277.50,944V928.00M277.50,6.5V22.50M332.62,944V936.00M332.62,6.5V14.50M387.75,944V928.00M387.75,6.5V22.50M442.88,944V936.00M442.88,6.5V14.50M498.00,944V928.00M498.00,6.5V22.50M553.12,944V936.00M553.12,6.5V14.50M608.25,944V928.00M608.25,6.5V22.50M663.38,944V936.00M663.38,6.5V14.50M718.50,944V928.00M718.50,6.5V22.50M773.62,944V936.00M773.62,6.5V14.50M828.75,944V928.00M828.75,6.5V22.50M883.88,944V936.00M883.88,6.5V14.50M939.00,944V928.00M939.00,6.5V22.50" stroke="#000" stroke-width="3" fill="none"/>
<g font-size="36" fill="#000"><text x="57.00" y="990" text-anchor="middle">10</text><text x="167.25" y="990" text-anchor="middle">15</text><text x="277.50" y="990" text-anchor="middle">20</text><text x="387.75" y="990" text-anchor="middle">25</text><text x="498.00" y="990" text-anchor="middle">30</text><text x="608.25" y="990" text-anchor="middle">35</text><text x="718.50" y="990" text-anchor="middle">40</text><text x="828.75" y="990" text-anchor="middle">45</text><text x="939.00" y="990" text-anchor="middle">50</text></g>
<text x="474.5" y="1062" font-size="43" fill="#000">2<tspan font-family="Liberation Serif" font-size="45" dx="0.8">&#952;</tspan><tspan dx="0.3" letter-spacing="1.1"> [&#176;]</tspan></text>
<text transform="translate(36,612) rotate(-90) scale(1.07,1)" font-size="42" fill="#000">Intensity [a.u.]</text>
<text transform="translate(179,374) rotate(-90)" font-size="31.5" font-weight="bold" fill="#828282">monoclinic</text>
<text transform="translate(305.7,248) rotate(-90)" font-size="32" font-weight="bold" fill="#828282">rhombohedral</text>
<text x="977.8" y="108.5" font-size="44.0" font-weight="bold" text-anchor="end" fill="#000">x = 1.8,</text>
<text x="977.8" y="164.3" font-size="44.0" font-weight="bold" text-anchor="end" fill="#000">pristine</text>
<text x="977.0" y="348.8" font-size="44.0" font-weight="bold" text-anchor="end" fill="#F99A0A">1 week</text>
<text x="976.8" y="450.3" font-size="44.0" font-weight="bold" text-anchor="end" fill="#DC3228">1 week,</text>
<text x="976.8" y="505.5" font-size="44.0" font-weight="bold" text-anchor="end" fill="#DC3228">reheated</text>
<text x="978.0" y="679.0" font-size="44.0" font-weight="bold" text-anchor="end" fill="#0864C4">washed</text>
<text x="980.8" y="788.0" font-size="44.0" font-weight="bold" text-anchor="end" fill="#8CBEDC">washed,</text>
<text x="980.8" y="843.0" font-size="44.0" font-weight="bold" text-anchor="end" fill="#8CBEDC">reheated</text>
</svg>
</body></html>
